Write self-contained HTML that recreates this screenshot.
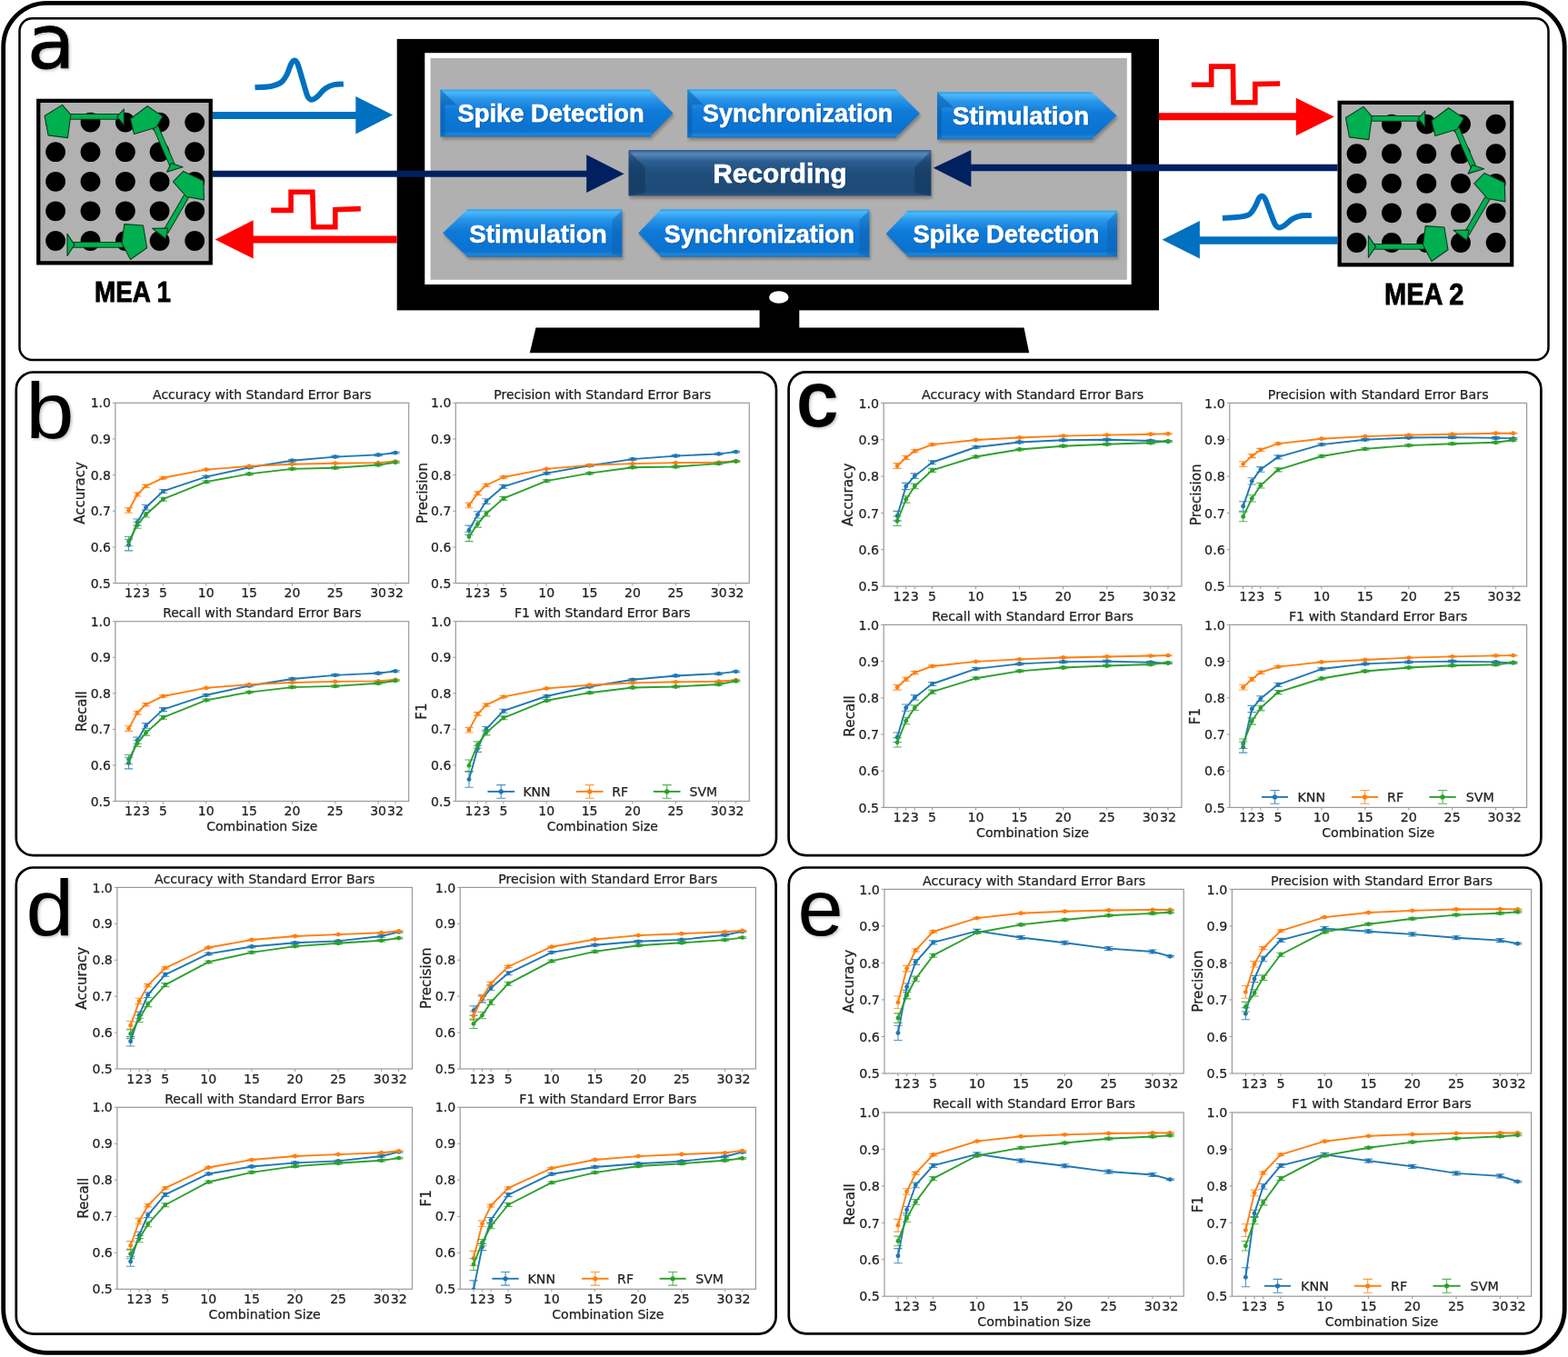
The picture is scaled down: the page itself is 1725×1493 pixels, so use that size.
<!DOCTYPE html>
<html><head><meta charset="utf-8"><title>Figure</title>
<style>html,body{margin:0;padding:0;background:#fff;} svg{display:block;}</style>
</head><body>
<svg width="1725" height="1493" viewBox="0 0 1725 1493">
<defs>
<linearGradient id="gBlue" x1="0" y1="0" x2="0" y2="1"><stop offset="0" stop-color="#2f9fe8"/><stop offset="0.06" stop-color="#4ab8fb"/><stop offset="0.2" stop-color="#2a96ea"/><stop offset="0.45" stop-color="#0f7ad8"/><stop offset="0.88" stop-color="#0a72d0"/><stop offset="0.95" stop-color="#2186d8"/><stop offset="1" stop-color="#1470c0"/></linearGradient>
<linearGradient id="gDark" x1="0" y1="0" x2="0" y2="1"><stop offset="0" stop-color="#2a5a8c"/><stop offset="0.08" stop-color="#5a88bb"/><stop offset="0.25" stop-color="#2c5d90"/><stop offset="0.5" stop-color="#1f4e7c"/><stop offset="0.9" stop-color="#1d4a76"/><stop offset="1" stop-color="#2a5788"/></linearGradient>
<filter id="blur2" x="-10%" y="-30%" width="120%" height="160%"><feGaussianBlur stdDeviation="1.6"/></filter>
<filter id="tsh" x="-5%" y="-20%" width="110%" height="140%"><feDropShadow dx="0.6" dy="0.8" stdDeviation="0.6" flood-color="#003060" flood-opacity="0.6"/></filter>
<filter id="lsh" x="-20%" y="-20%" width="150%" height="150%"><feDropShadow dx="1.5" dy="1.5" stdDeviation="1.5" flood-color="#000" flood-opacity="0.25"/></filter>
<clipPath id="clip_b00"><rect x="126.9" y="443.3" width="322.8" height="198.3"/></clipPath><clipPath id="clip_b01"><rect x="126.9" y="683.7" width="322.8" height="197.8"/></clipPath><clipPath id="clip_b10"><rect x="501.3" y="443.3" width="323" height="198.3"/></clipPath><clipPath id="clip_b11"><rect x="501.3" y="683.7" width="323" height="197.8"/></clipPath><clipPath id="clip_c00"><rect x="972.2" y="443.4" width="327.7" height="201.7"/></clipPath><clipPath id="clip_c01"><rect x="972.2" y="687.4" width="327.7" height="201"/></clipPath><clipPath id="clip_c10"><rect x="1352.8" y="443.4" width="326.8" height="201.7"/></clipPath><clipPath id="clip_c11"><rect x="1352.8" y="687.4" width="326.8" height="201"/></clipPath><clipPath id="clip_d00"><rect x="128.9" y="976.4" width="324.6" height="199.6"/></clipPath><clipPath id="clip_d01"><rect x="128.9" y="1218.3" width="324.6" height="200"/></clipPath><clipPath id="clip_d10"><rect x="506.2" y="976.4" width="325.2" height="199.6"/></clipPath><clipPath id="clip_d11"><rect x="506.2" y="1218.3" width="325.2" height="200"/></clipPath><clipPath id="clip_e00"><rect x="973" y="978.4" width="329.2" height="202.6"/></clipPath><clipPath id="clip_e01"><rect x="973" y="1224" width="329.2" height="202.2"/></clipPath><clipPath id="clip_e10"><rect x="1355.4" y="978.4" width="329.2" height="202.6"/></clipPath><clipPath id="clip_e11"><rect x="1355.4" y="1224" width="329.2" height="202.2"/></clipPath>
</defs>
<rect width="1725" height="1493" fill="#fff"/>
<rect x="3.7" y="3.4" width="1717.5" height="1484.9" rx="48" ry="48" fill="none" stroke="#000" stroke-width="4.8"/>
<rect x="21.5" y="20.3" width="1682" height="375.7" rx="14" ry="14" fill="none" stroke="#000" stroke-width="2.5"/>
<rect x="17.8" y="409.5" width="836.2" height="531.7" rx="19" ry="19" fill="none" stroke="#000" stroke-width="2.7"/>
<rect x="867.6" y="409.3" width="827.8" height="531.8" rx="19" ry="19" fill="none" stroke="#000" stroke-width="2.7"/>
<rect x="17.8" y="954.5" width="835.8" height="513.1" rx="19" ry="19" fill="none" stroke="#000" stroke-width="2.7"/>
<rect x="867.8" y="954.5" width="827.7" height="512.8" rx="19" ry="19" fill="none" stroke="#000" stroke-width="2.7"/>
<g transform="translate(-2.07 2.15) scale(1.0302 0.9693)"><text x="31" y="75" font-size="84" font-family="DejaVu Sans, Liberation Sans, sans-serif" font-weight="normal" fill="#000" stroke="#000" stroke-width="0.8" filter="url(#lsh)">a</text></g>
<g transform="translate(-3.25 3.22) scale(1.0872 0.9937)"><text x="29" y="482" font-size="88" font-family="Liberation Sans, Arial, sans-serif" font-weight="normal" fill="#000"  filter="url(#lsh)">b</text></g>
<g transform="translate(-21.64 9.86) scale(1.0256 0.9755)"><text x="876" y="469.5" font-size="86" font-family="Liberation Sans, Arial, sans-serif" font-weight="normal" fill="#000" stroke="#000" stroke-width="2.4" filter="url(#lsh)">c</text></g>
<g transform="translate(-2.84 5.13) scale(1.0769 0.9953)"><text x="29" y="1029" font-size="88" font-family="Liberation Sans, Arial, sans-serif" font-weight="normal" fill="#000"  filter="url(#lsh)">d</text></g>
<g transform="translate(-22.01 21.18) scale(1.0244 0.9792)"><text x="878" y="1029.5" font-size="88" font-family="Liberation Sans, Arial, sans-serif" font-weight="normal" fill="#000"  filter="url(#lsh)">e</text></g>
<rect x="436.7" y="42.9" width="838.3" height="298.5" fill="#000"/>
<rect x="467.3" y="58.2" width="777.3" height="254.8" fill="#fff"/>
<rect x="473.6" y="63.9" width="766.2" height="243.9" fill="#b0b0b0"/>
<ellipse cx="856.8" cy="327" rx="10.8" ry="6.7" fill="#fff"/>
<rect x="835.6" y="340" width="43.7" height="21.3" fill="#000"/>
<polygon points="589.5,360.6 1126.5,360.6 1132.2,388.2 582.8,388.2" fill="#000" />
<line x1="233.9" y1="191.2" x2="647" y2="191.2" stroke="#002060" stroke-width="7"/>
<polygon points="645.2,170.3 686.6,191.2 645.2,212.1" fill="#002060" />
<line x1="1066" y1="184.6" x2="1471.5" y2="184.6" stroke="#002060" stroke-width="7.5"/>
<polygon points="1068.4,165 1026.7,184.8 1068.4,205.7" fill="#002060" />
<line x1="233.9" y1="127" x2="393" y2="127" stroke="#0070c0" stroke-width="8"/>
<polygon points="391.3,106 432.1,126.5 391.3,147.4" fill="#0070c0" />
<line x1="277" y1="263.4" x2="436.7" y2="263.4" stroke="#ff0000" stroke-width="8"/>
<polygon points="278.7,242.3 236.7,263.6 278.7,284.6" fill="#ff0000" />
<line x1="1275" y1="128.3" x2="1427" y2="128.3" stroke="#ff0000" stroke-width="8"/>
<polygon points="1425.8,107.8 1467.8,128.5 1425.8,149.2" fill="#ff0000" />
<line x1="1318" y1="264.4" x2="1471.5" y2="264.4" stroke="#0070c0" stroke-width="8.5"/>
<polygon points="1319.9,243 1278.5,263.8 1319.9,284.6" fill="#0070c0" />
<path d="M280.5 96.3C283.45 96.08 293.43 95.92 298.2 95C302.97 94.08 306.27 92.82 309.1 90.8C311.93 88.78 313.37 86.25 315.2 82.9C317.03 79.55 318.68 73.45 320.1 70.7C321.52 67.95 322.48 66.5 323.7 66.4C324.92 66.3 325.77 66.13 327.4 70.1C329.03 74.07 331.67 84.22 333.5 90.2C335.33 96.18 336.88 102.75 338.4 106C339.92 109.25 340.98 109.5 342.6 109.7C344.22 109.9 345.57 109.23 348.1 107.2C350.63 105.17 354.55 99.83 357.8 97.5C361.05 95.17 364.25 94.02 367.6 93.2C370.95 92.38 376.18 92.7 377.9 92.6" fill="none" stroke="#0070c0" stroke-width="6" stroke-linejoin="round"/>
<path d="M1344.9 240C1347.83 239.8 1357.53 239.52 1362.5 238.8C1367.47 238.08 1371.65 237.63 1374.7 235.7C1377.75 233.77 1379.08 230.13 1380.8 227.2C1382.52 224.27 1383.78 220.02 1385 218.1C1386.22 216.18 1386.98 215.6 1388.1 215.7C1389.22 215.8 1390.08 215.57 1391.7 218.7C1393.32 221.83 1395.97 229.83 1397.8 234.5C1399.63 239.17 1401.17 244.05 1402.7 246.7C1404.23 249.35 1405.38 250.1 1407 250.4C1408.62 250.7 1409.87 250.13 1412.4 248.5C1414.93 246.87 1418.95 242.48 1422.2 240.6C1425.45 238.72 1428.45 237.8 1431.9 237.2C1435.35 236.6 1441.07 237.03 1442.9 237" fill="none" stroke="#0070c0" stroke-width="6" stroke-linejoin="round"/>
<polyline points="298.2,231.4 320.1,231.4 320.1,211.3 343.8,211.3 345,249.7 368.8,249.7 368.8,230.8 396.8,229.6" fill="none" stroke="#ff0000" stroke-width="5.6" stroke-linejoin="miter"/>
<polyline points="1310.8,93.2 1332.7,93.2 1332.7,73.1 1356.4,73.1 1357,112.7 1380.8,112.7 1380.8,92.6 1408.2,92" fill="none" stroke="#ff0000" stroke-width="5.6" stroke-linejoin="miter"/>
<g transform="translate(0 0)">
<rect x="40.1" y="108.7" width="193.8" height="182.8" fill="#000"/>
<rect x="44.4" y="113" width="185.2" height="174.2" fill="#b1b1b1"/>
<circle cx="61.1" cy="134.6" r="10.9" fill="#000"/>
<circle cx="99.5" cy="134.6" r="10.9" fill="#000"/>
<circle cx="137.9" cy="134.6" r="10.9" fill="#000"/>
<circle cx="175.6" cy="134.6" r="10.9" fill="#000"/>
<circle cx="214.2" cy="134.6" r="10.9" fill="#000"/>
<circle cx="61.1" cy="167.2" r="10.9" fill="#000"/>
<circle cx="99.5" cy="167.2" r="10.9" fill="#000"/>
<circle cx="137.9" cy="167.2" r="10.9" fill="#000"/>
<circle cx="175.6" cy="167.2" r="10.9" fill="#000"/>
<circle cx="214.2" cy="167.2" r="10.9" fill="#000"/>
<circle cx="61.1" cy="199.8" r="10.9" fill="#000"/>
<circle cx="99.5" cy="199.8" r="10.9" fill="#000"/>
<circle cx="137.9" cy="199.8" r="10.9" fill="#000"/>
<circle cx="175.6" cy="199.8" r="10.9" fill="#000"/>
<circle cx="214.2" cy="199.8" r="10.9" fill="#000"/>
<circle cx="61.1" cy="232.3" r="10.9" fill="#000"/>
<circle cx="99.5" cy="232.3" r="10.9" fill="#000"/>
<circle cx="137.9" cy="232.3" r="10.9" fill="#000"/>
<circle cx="175.6" cy="232.3" r="10.9" fill="#000"/>
<circle cx="214.2" cy="232.3" r="10.9" fill="#000"/>
<circle cx="61.1" cy="265" r="10.9" fill="#000"/>
<circle cx="99.5" cy="265" r="10.9" fill="#000"/>
<circle cx="137.9" cy="265" r="10.9" fill="#000"/>
<circle cx="175.6" cy="265" r="10.9" fill="#000"/>
<circle cx="214.2" cy="265" r="10.9" fill="#000"/>
<line x1="76" y1="128.4" x2="131" y2="128.4" stroke="#0d3b1c" stroke-width="6.8"/>
<line x1="76" y1="128.4" x2="131" y2="128.4" stroke="#00b050" stroke-width="4.8"/>
<line x1="171" y1="139" x2="189.5" y2="181.5" stroke="#0d3b1c" stroke-width="6.8"/>
<line x1="171" y1="139" x2="189.5" y2="181.5" stroke="#00b050" stroke-width="4.8"/>
<line x1="205" y1="216" x2="182" y2="255.5" stroke="#0d3b1c" stroke-width="6.8"/>
<line x1="205" y1="216" x2="182" y2="255.5" stroke="#00b050" stroke-width="4.8"/>
<line x1="135" y1="269.4" x2="79" y2="269.4" stroke="#0d3b1c" stroke-width="6.8"/>
<line x1="135" y1="269.4" x2="79" y2="269.4" stroke="#00b050" stroke-width="4.8"/>
<polygon points="128.7,128.4 136.3,120 136.3,137.5" fill="#00b050" stroke="#0d3b1c" stroke-width="1.1" stroke-linejoin="round"/>
<polygon points="188.3,179.4 201.1,183.7 183.7,189.1" fill="#00b050" stroke="#0d3b1c" stroke-width="1.1" stroke-linejoin="round"/>
<polygon points="184.5,251 183.7,256.3 182.3,262.5 167.6,251.3" fill="#00b050" stroke="#0d3b1c" stroke-width="1.1" stroke-linejoin="round"/>
<polygon points="82,269.4 74,257.4 74,281.5" fill="#00b050" stroke="#0d3b1c" stroke-width="1.1" stroke-linejoin="round"/>
<polygon points="68.5,115.4 77.9,126.1 74.5,151.6 53.1,148.9 49.1,127.5" fill="#00b050" stroke="#0d3b1c" stroke-width="1.1" stroke-linejoin="round"/>
<polygon points="162.2,116.7 179,128.1 171.6,140.2 147.5,147.5 143.5,130.8" fill="#00b050" stroke="#0d3b1c" stroke-width="1.1" stroke-linejoin="round"/>
<polygon points="201.7,188.4 223.8,199.1 224.5,219.9 205.1,216.5 190.4,199.8" fill="#00b050" stroke="#0d3b1c" stroke-width="1.1" stroke-linejoin="round"/>
<polygon points="136.8,246.6 157.5,248 161.6,272.8 143.5,285.5 134.1,267.4" fill="#00b050" stroke="#0d3b1c" stroke-width="1.1" stroke-linejoin="round"/>
</g>
<g transform="translate(1431.4 2)">
<rect x="40.1" y="108.7" width="193.8" height="182.8" fill="#000"/>
<rect x="44.4" y="113" width="185.2" height="174.2" fill="#b1b1b1"/>
<circle cx="61.1" cy="134.6" r="10.9" fill="#000"/>
<circle cx="99.5" cy="134.6" r="10.9" fill="#000"/>
<circle cx="137.9" cy="134.6" r="10.9" fill="#000"/>
<circle cx="175.6" cy="134.6" r="10.9" fill="#000"/>
<circle cx="214.2" cy="134.6" r="10.9" fill="#000"/>
<circle cx="61.1" cy="167.2" r="10.9" fill="#000"/>
<circle cx="99.5" cy="167.2" r="10.9" fill="#000"/>
<circle cx="137.9" cy="167.2" r="10.9" fill="#000"/>
<circle cx="175.6" cy="167.2" r="10.9" fill="#000"/>
<circle cx="214.2" cy="167.2" r="10.9" fill="#000"/>
<circle cx="61.1" cy="199.8" r="10.9" fill="#000"/>
<circle cx="99.5" cy="199.8" r="10.9" fill="#000"/>
<circle cx="137.9" cy="199.8" r="10.9" fill="#000"/>
<circle cx="175.6" cy="199.8" r="10.9" fill="#000"/>
<circle cx="214.2" cy="199.8" r="10.9" fill="#000"/>
<circle cx="61.1" cy="232.3" r="10.9" fill="#000"/>
<circle cx="99.5" cy="232.3" r="10.9" fill="#000"/>
<circle cx="137.9" cy="232.3" r="10.9" fill="#000"/>
<circle cx="175.6" cy="232.3" r="10.9" fill="#000"/>
<circle cx="214.2" cy="232.3" r="10.9" fill="#000"/>
<circle cx="61.1" cy="265" r="10.9" fill="#000"/>
<circle cx="99.5" cy="265" r="10.9" fill="#000"/>
<circle cx="137.9" cy="265" r="10.9" fill="#000"/>
<circle cx="175.6" cy="265" r="10.9" fill="#000"/>
<circle cx="214.2" cy="265" r="10.9" fill="#000"/>
<line x1="76" y1="128.4" x2="131" y2="128.4" stroke="#0d3b1c" stroke-width="6.8"/>
<line x1="76" y1="128.4" x2="131" y2="128.4" stroke="#00b050" stroke-width="4.8"/>
<line x1="171" y1="139" x2="189.5" y2="181.5" stroke="#0d3b1c" stroke-width="6.8"/>
<line x1="171" y1="139" x2="189.5" y2="181.5" stroke="#00b050" stroke-width="4.8"/>
<line x1="205" y1="216" x2="182" y2="255.5" stroke="#0d3b1c" stroke-width="6.8"/>
<line x1="205" y1="216" x2="182" y2="255.5" stroke="#00b050" stroke-width="4.8"/>
<line x1="135" y1="269.4" x2="79" y2="269.4" stroke="#0d3b1c" stroke-width="6.8"/>
<line x1="135" y1="269.4" x2="79" y2="269.4" stroke="#00b050" stroke-width="4.8"/>
<polygon points="128.7,128.4 136.3,120 136.3,137.5" fill="#00b050" stroke="#0d3b1c" stroke-width="1.1" stroke-linejoin="round"/>
<polygon points="188.3,179.4 201.1,183.7 183.7,189.1" fill="#00b050" stroke="#0d3b1c" stroke-width="1.1" stroke-linejoin="round"/>
<polygon points="184.5,251 183.7,256.3 182.3,262.5 167.6,251.3" fill="#00b050" stroke="#0d3b1c" stroke-width="1.1" stroke-linejoin="round"/>
<polygon points="82,269.4 74,257.4 74,281.5" fill="#00b050" stroke="#0d3b1c" stroke-width="1.1" stroke-linejoin="round"/>
<polygon points="68.5,115.4 77.9,126.1 74.5,151.6 53.1,148.9 49.1,127.5" fill="#00b050" stroke="#0d3b1c" stroke-width="1.1" stroke-linejoin="round"/>
<polygon points="162.2,116.7 179,128.1 171.6,140.2 147.5,147.5 143.5,130.8" fill="#00b050" stroke="#0d3b1c" stroke-width="1.1" stroke-linejoin="round"/>
<polygon points="201.7,188.4 223.8,199.1 224.5,219.9 205.1,216.5 190.4,199.8" fill="#00b050" stroke="#0d3b1c" stroke-width="1.1" stroke-linejoin="round"/>
<polygon points="136.8,246.6 157.5,248 161.6,272.8 143.5,285.5 134.1,267.4" fill="#00b050" stroke="#0d3b1c" stroke-width="1.1" stroke-linejoin="round"/>
</g>
<g transform="translate(4.50 -38.34) scale(0.9951 1.1158)"><text x="100" y="332" font-size="28" font-family="Liberation Sans, Arial, sans-serif" font-weight="bold" fill="#000" stroke="#000" stroke-width="0.7">MEA 1</text></g>
<g transform="translate(-48.77 -54.96) scale(1.0341 1.1737)"><text x="1520" y="332" font-size="28" font-family="Liberation Sans, Arial, sans-serif" font-weight="bold" fill="#000" stroke="#000" stroke-width="0.7">MEA 2</text></g>
<polygon points="486,101.4 716.5,101.4 742,127.5 716.5,153.6 486,153.6" fill="#6b5f55" opacity="0.55" filter="url(#blur2)"/>
<polygon points="484.5,98.4 715,98.4 740.5,124.5 715,150.6 484.5,150.6" fill="url(#gBlue)"/>
<text x="503.6" y="133.7" font-size="27" font-family="Liberation Sans, Arial, sans-serif" font-weight="bold" fill="#fff" stroke="#fff" stroke-width="0.5" textLength="205" lengthAdjust="spacingAndGlyphs" filter="url(#tsh)">Spike Detection</text>
<polygon points="484.5,98.4 502.5,115.4 489.5,115.4 489.5,148.6 484.5,150.6" fill="#0a5fae" opacity="0.6"/>
<polygon points="757.8,101.3 986.9,101.3 1013.5,127.9 986.9,154.5 757.8,154.5" fill="#6b5f55" opacity="0.55" filter="url(#blur2)"/>
<polygon points="756.3,98.3 985.4,98.3 1012,124.9 985.4,151.5 756.3,151.5" fill="url(#gBlue)"/>
<text x="773" y="133.8" font-size="27" font-family="Liberation Sans, Arial, sans-serif" font-weight="bold" fill="#fff" stroke="#fff" stroke-width="0.5" textLength="209.3" lengthAdjust="spacingAndGlyphs" filter="url(#tsh)">Synchronization</text>
<polygon points="756.3,98.3 774.3,115.3 761.3,115.3 761.3,149.5 756.3,151.5" fill="#0a5fae" opacity="0.6"/>
<polygon points="1032.5,104.3 1202.5,104.3 1230,130.2 1202.5,156.5 1032.5,156.5" fill="#6b5f55" opacity="0.55" filter="url(#blur2)"/>
<polygon points="1031,101.3 1201,101.3 1228.5,127.2 1201,153.5 1031,153.5" fill="url(#gBlue)"/>
<text x="1048" y="136.7" font-size="27" font-family="Liberation Sans, Arial, sans-serif" font-weight="bold" fill="#fff" stroke="#fff" stroke-width="0.5" textLength="150" lengthAdjust="spacingAndGlyphs" filter="url(#tsh)">Stimulation</text>
<polygon points="1031,101.3 1049,118.3 1036,118.3 1036,151.5 1031,153.5" fill="#0a5fae" opacity="0.6"/>
<polygon points="488.6,259.4 515.9,233.3 685.9,233.3 685.9,285.7 515.9,285.7" fill="#6b5f55" opacity="0.55" filter="url(#blur2)"/>
<polygon points="487.1,256.4 514.4,230.3 684.4,230.3 684.4,282.7 514.4,282.7" fill="url(#gBlue)"/>
<text x="516.3" y="266.7" font-size="27" font-family="Liberation Sans, Arial, sans-serif" font-weight="bold" fill="#fff" stroke="#fff" stroke-width="0.5" textLength="151.5" lengthAdjust="spacingAndGlyphs" filter="url(#tsh)">Stimulation</text>
<polygon points="684.4,231.3 673.4,242.3 673.4,279.7 684.4,282.7" fill="#0a5fae" opacity="0.45"/>
<polygon points="703.6,259.5 728.7,233.3 957.9,233.3 957.9,285.7 728.7,285.7" fill="#6b5f55" opacity="0.55" filter="url(#blur2)"/>
<polygon points="702.1,256.5 727.2,230.3 956.4,230.3 956.4,282.7 727.2,282.7" fill="url(#gBlue)"/>
<text x="730.7" y="266.7" font-size="27" font-family="Liberation Sans, Arial, sans-serif" font-weight="bold" fill="#fff" stroke="#fff" stroke-width="0.5" textLength="209.3" lengthAdjust="spacingAndGlyphs" filter="url(#tsh)">Synchronization</text>
<polygon points="956.4,231.3 945.4,242.3 945.4,279.7 956.4,282.7" fill="#0a5fae" opacity="0.45"/>
<polygon points="976.1,260.2 1000.2,234.7 1230.5,234.7 1230.5,285.6 1000.2,285.6" fill="#6b5f55" opacity="0.55" filter="url(#blur2)"/>
<polygon points="974.6,257.2 998.7,231.7 1229,231.7 1229,282.6 998.7,282.6" fill="url(#gBlue)"/>
<text x="1004.4" y="266.5" font-size="27" font-family="Liberation Sans, Arial, sans-serif" font-weight="bold" fill="#fff" stroke="#fff" stroke-width="0.5" textLength="205.2" lengthAdjust="spacingAndGlyphs" filter="url(#tsh)">Spike Detection</text>
<polygon points="1229,232.7 1218,243.7 1218,279.6 1229,282.6" fill="#0a5fae" opacity="0.45"/>
<polygon points="693.1,168.1 1025.8,168.1 1025.8,218.4 693.1,218.4" fill="#6b5f55" opacity="0.55" filter="url(#blur2)"/>
<polygon points="691.6,165.1 1024.3,165.1 1024.3,215.4 691.6,215.4" fill="url(#gDark)"/>
<text x="784.3" y="201" font-size="29" font-family="Liberation Sans, Arial, sans-serif" font-weight="bold" fill="#fff" stroke="#fff" stroke-width="0.5" textLength="147.5" lengthAdjust="spacingAndGlyphs" filter="url(#tsh)">Recording</text>
<polygon points="1024.3,166.1 1006.3,184.1 1006.3,212.4 1024.3,215.4" fill="#0d2f52" opacity="0.45"/>
<polygon points="691.6,166.1 709.6,184.1 709.6,212.4 691.6,215.4" fill="#0d2f52" opacity="0.45"/>
<g>
<rect x="126.9" y="443.3" width="322.8" height="198.3" fill="#fff" stroke="#999" stroke-width="1.2"/>
<path d="M141.57 641.6v3 M151.04 641.6v3 M160.51 641.6v3 M179.44 641.6v3 M226.77 641.6v3 M274.1 641.6v3 M321.43 641.6v3 M368.76 641.6v3 M416.09 641.6v3 M435.03 641.6v3 M123.9 641.6h3 M123.9 601.94h3 M123.9 562.28h3 M123.9 522.62h3 M123.9 482.96h3 M123.9 443.3h3" stroke="#999" stroke-width="1" fill="none"/>
<text x="141.57" y="657.2" font-size="14" text-anchor="middle" fill="#222" font-family="DejaVu Sans, Liberation Sans, sans-serif" font-weight="normal" stroke="#222" stroke-width="0.25">1</text>
<text x="151.04" y="657.2" font-size="14" text-anchor="middle" fill="#222" font-family="DejaVu Sans, Liberation Sans, sans-serif" font-weight="normal" stroke="#222" stroke-width="0.25">2</text>
<text x="160.51" y="657.2" font-size="14" text-anchor="middle" fill="#222" font-family="DejaVu Sans, Liberation Sans, sans-serif" font-weight="normal" stroke="#222" stroke-width="0.25">3</text>
<text x="179.44" y="657.2" font-size="14" text-anchor="middle" fill="#222" font-family="DejaVu Sans, Liberation Sans, sans-serif" font-weight="normal" stroke="#222" stroke-width="0.25">5</text>
<text x="226.77" y="657.2" font-size="14" text-anchor="middle" fill="#222" font-family="DejaVu Sans, Liberation Sans, sans-serif" font-weight="normal" stroke="#222" stroke-width="0.25">10</text>
<text x="274.1" y="657.2" font-size="14" text-anchor="middle" fill="#222" font-family="DejaVu Sans, Liberation Sans, sans-serif" font-weight="normal" stroke="#222" stroke-width="0.25">15</text>
<text x="321.43" y="657.2" font-size="14" text-anchor="middle" fill="#222" font-family="DejaVu Sans, Liberation Sans, sans-serif" font-weight="normal" stroke="#222" stroke-width="0.25">20</text>
<text x="368.76" y="657.2" font-size="14" text-anchor="middle" fill="#222" font-family="DejaVu Sans, Liberation Sans, sans-serif" font-weight="normal" stroke="#222" stroke-width="0.25">25</text>
<text x="416.09" y="657.2" font-size="14" text-anchor="middle" fill="#222" font-family="DejaVu Sans, Liberation Sans, sans-serif" font-weight="normal" stroke="#222" stroke-width="0.25">30</text>
<text x="435.03" y="657.2" font-size="14" text-anchor="middle" fill="#222" font-family="DejaVu Sans, Liberation Sans, sans-serif" font-weight="normal" stroke="#222" stroke-width="0.25">32</text>
<text x="121.9" y="646.7" font-size="14" text-anchor="end" fill="#222" font-family="DejaVu Sans, Liberation Sans, sans-serif" font-weight="normal" stroke="#222" stroke-width="0.25">0.5</text>
<text x="121.9" y="607.04" font-size="14" text-anchor="end" fill="#222" font-family="DejaVu Sans, Liberation Sans, sans-serif" font-weight="normal" stroke="#222" stroke-width="0.25">0.6</text>
<text x="121.9" y="567.38" font-size="14" text-anchor="end" fill="#222" font-family="DejaVu Sans, Liberation Sans, sans-serif" font-weight="normal" stroke="#222" stroke-width="0.25">0.7</text>
<text x="121.9" y="527.72" font-size="14" text-anchor="end" fill="#222" font-family="DejaVu Sans, Liberation Sans, sans-serif" font-weight="normal" stroke="#222" stroke-width="0.25">0.8</text>
<text x="121.9" y="488.06" font-size="14" text-anchor="end" fill="#222" font-family="DejaVu Sans, Liberation Sans, sans-serif" font-weight="normal" stroke="#222" stroke-width="0.25">0.9</text>
<text x="121.9" y="448.4" font-size="14" text-anchor="end" fill="#222" font-family="DejaVu Sans, Liberation Sans, sans-serif" font-weight="normal" stroke="#222" stroke-width="0.25">1.0</text>
<text x="288.3" y="438.8" font-size="14" text-anchor="middle" fill="#222" font-family="DejaVu Sans, Liberation Sans, sans-serif" font-weight="normal" stroke="#222" stroke-width="0.25">Accuracy with Standard Error Bars</text>
<text x="93.4" y="542.45" font-size="15" text-anchor="middle" fill="#222" font-family="DejaVu Sans, Liberation Sans, sans-serif" stroke="#222" stroke-width="0.25" transform="rotate(-90 93.4 542.45)">Accuracy</text>
<g clip-path="url(#clip_b00)">
<path d="M141.57 593.21V605.91M136.97 593.21h9.2M136.97 605.91h9.2M151.04 571.01V578.14M146.44 571.01h9.2M146.44 578.14h9.2M160.51 555.54V561.09M155.91 555.54h9.2M155.91 561.09h9.2M179.44 538.48V542.45M174.84 538.48h9.2M174.84 542.45h9.2M226.77 523.41V525.79M222.17 523.41h9.2M222.17 525.79h9.2M274.1 513.1V515.48M269.5 513.1h9.2M269.5 515.48h9.2M321.43 505.57V507.95M316.83 505.57h9.2M316.83 507.95h9.2M368.76 501.4V503.78M364.16 501.4h9.2M364.16 503.78h9.2M416.09 499.22V501.6M411.49 499.22h9.2M411.49 501.6h9.2M435.03 497.4V498.98M430.43 497.4h9.2M430.43 498.98h9.2" stroke="#1f77b4" stroke-width="1.1" fill="none" opacity="0.8"/>
<polyline points="141.57,599.56 151.04,574.57 160.51,558.31 179.44,540.47 226.77,524.6 274.1,514.29 321.43,506.76 368.76,502.59 416.09,500.41 435.03,498.19" fill="none" stroke="#1f77b4" stroke-width="1.9" stroke-linejoin="round"/>
<circle cx="141.57" cy="599.56" r="2.4" fill="#1f77b4"/>
<circle cx="151.04" cy="574.57" r="2.4" fill="#1f77b4"/>
<circle cx="160.51" cy="558.31" r="2.4" fill="#1f77b4"/>
<circle cx="179.44" cy="540.47" r="2.4" fill="#1f77b4"/>
<circle cx="226.77" cy="524.6" r="2.4" fill="#1f77b4"/>
<circle cx="274.1" cy="514.29" r="2.4" fill="#1f77b4"/>
<circle cx="321.43" cy="506.76" r="2.4" fill="#1f77b4"/>
<circle cx="368.76" cy="502.59" r="2.4" fill="#1f77b4"/>
<circle cx="416.09" cy="500.41" r="2.4" fill="#1f77b4"/>
<circle cx="435.03" cy="498.19" r="2.4" fill="#1f77b4"/>
<path d="M141.57 558.65V564.32M136.97 558.65h9.2M136.97 564.32h9.2M151.04 542.07V546M146.44 542.07h9.2M146.44 546h9.2M160.51 533.39V536.44M155.91 533.39h9.2M155.91 536.44h9.2M179.44 524.7V526.88M174.84 524.7h9.2M174.84 526.88h9.2M226.77 516.02V517.33M222.17 516.02h9.2M222.17 517.33h9.2M274.1 512.25V513.56M269.5 512.25h9.2M269.5 513.56h9.2M321.43 510.07V511.38M316.83 510.07h9.2M316.83 511.38h9.2M368.76 509.04V510.35M364.16 509.04h9.2M364.16 510.35h9.2M416.09 508.48V509.79M411.49 508.48h9.2M411.49 509.79h9.2M435.03 507.11V507.99M430.43 507.11h9.2M430.43 507.99h9.2" stroke="#ff7f0e" stroke-width="1.1" fill="none" opacity="0.8"/>
<polyline points="141.57,561.49 151.04,544.04 160.51,534.91 179.44,525.79 226.77,516.67 274.1,512.9 321.43,510.72 368.76,509.69 416.09,509.14 435.03,507.55" fill="none" stroke="#ff7f0e" stroke-width="1.9" stroke-linejoin="round"/>
<circle cx="141.57" cy="561.49" r="2.4" fill="#ff7f0e"/>
<circle cx="151.04" cy="544.04" r="2.4" fill="#ff7f0e"/>
<circle cx="160.51" cy="534.91" r="2.4" fill="#ff7f0e"/>
<circle cx="179.44" cy="525.79" r="2.4" fill="#ff7f0e"/>
<circle cx="226.77" cy="516.67" r="2.4" fill="#ff7f0e"/>
<circle cx="274.1" cy="512.9" r="2.4" fill="#ff7f0e"/>
<circle cx="321.43" cy="510.72" r="2.4" fill="#ff7f0e"/>
<circle cx="368.76" cy="509.69" r="2.4" fill="#ff7f0e"/>
<circle cx="416.09" cy="509.14" r="2.4" fill="#ff7f0e"/>
<circle cx="435.03" cy="507.55" r="2.4" fill="#ff7f0e"/>
<path d="M141.57 590.44V600.75M136.97 590.44h9.2M136.97 600.75h9.2M151.04 574.18V581.32M146.44 574.18h9.2M146.44 581.32h9.2M160.51 563.47V569.02M155.91 563.47h9.2M155.91 569.02h9.2M179.44 547.21V551.18M174.84 547.21h9.2M174.84 551.18h9.2M226.77 528.97V531.35M222.17 528.97h9.2M222.17 531.35h9.2M274.1 520.24V522.62M269.5 520.24h9.2M269.5 522.62h9.2M321.43 514.69V517.07M316.83 514.69h9.2M316.83 517.07h9.2M368.76 513.5V515.88M364.16 513.5h9.2M364.16 515.88h9.2M416.09 510.33V512.71M411.49 510.33h9.2M411.49 512.71h9.2M435.03 507.95V509.53M430.43 507.95h9.2M430.43 509.53h9.2" stroke="#2ca02c" stroke-width="1.1" fill="none" opacity="0.8"/>
<polyline points="141.57,595.59 151.04,577.75 160.51,566.25 179.44,549.19 226.77,530.16 274.1,521.43 321.43,515.88 368.76,514.69 416.09,511.52 435.03,508.74" fill="none" stroke="#2ca02c" stroke-width="1.9" stroke-linejoin="round"/>
<circle cx="141.57" cy="595.59" r="2.4" fill="#2ca02c"/>
<circle cx="151.04" cy="577.75" r="2.4" fill="#2ca02c"/>
<circle cx="160.51" cy="566.25" r="2.4" fill="#2ca02c"/>
<circle cx="179.44" cy="549.19" r="2.4" fill="#2ca02c"/>
<circle cx="226.77" cy="530.16" r="2.4" fill="#2ca02c"/>
<circle cx="274.1" cy="521.43" r="2.4" fill="#2ca02c"/>
<circle cx="321.43" cy="515.88" r="2.4" fill="#2ca02c"/>
<circle cx="368.76" cy="514.69" r="2.4" fill="#2ca02c"/>
<circle cx="416.09" cy="511.52" r="2.4" fill="#2ca02c"/>
<circle cx="435.03" cy="508.74" r="2.4" fill="#2ca02c"/>
</g>
</g>
<g>
<rect x="501.3" y="443.3" width="323" height="198.3" fill="#fff" stroke="#999" stroke-width="1.2"/>
<path d="M515.98 641.6v3 M525.45 641.6v3 M534.93 641.6v3 M553.87 641.6v3 M601.23 641.6v3 M648.59 641.6v3 M695.95 641.6v3 M743.31 641.6v3 M790.67 641.6v3 M809.62 641.6v3 M498.3 641.6h3 M498.3 601.94h3 M498.3 562.28h3 M498.3 522.62h3 M498.3 482.96h3 M498.3 443.3h3" stroke="#999" stroke-width="1" fill="none"/>
<text x="515.98" y="657.2" font-size="14" text-anchor="middle" fill="#222" font-family="DejaVu Sans, Liberation Sans, sans-serif" font-weight="normal" stroke="#222" stroke-width="0.25">1</text>
<text x="525.45" y="657.2" font-size="14" text-anchor="middle" fill="#222" font-family="DejaVu Sans, Liberation Sans, sans-serif" font-weight="normal" stroke="#222" stroke-width="0.25">2</text>
<text x="534.93" y="657.2" font-size="14" text-anchor="middle" fill="#222" font-family="DejaVu Sans, Liberation Sans, sans-serif" font-weight="normal" stroke="#222" stroke-width="0.25">3</text>
<text x="553.87" y="657.2" font-size="14" text-anchor="middle" fill="#222" font-family="DejaVu Sans, Liberation Sans, sans-serif" font-weight="normal" stroke="#222" stroke-width="0.25">5</text>
<text x="601.23" y="657.2" font-size="14" text-anchor="middle" fill="#222" font-family="DejaVu Sans, Liberation Sans, sans-serif" font-weight="normal" stroke="#222" stroke-width="0.25">10</text>
<text x="648.59" y="657.2" font-size="14" text-anchor="middle" fill="#222" font-family="DejaVu Sans, Liberation Sans, sans-serif" font-weight="normal" stroke="#222" stroke-width="0.25">15</text>
<text x="695.95" y="657.2" font-size="14" text-anchor="middle" fill="#222" font-family="DejaVu Sans, Liberation Sans, sans-serif" font-weight="normal" stroke="#222" stroke-width="0.25">20</text>
<text x="743.31" y="657.2" font-size="14" text-anchor="middle" fill="#222" font-family="DejaVu Sans, Liberation Sans, sans-serif" font-weight="normal" stroke="#222" stroke-width="0.25">25</text>
<text x="790.67" y="657.2" font-size="14" text-anchor="middle" fill="#222" font-family="DejaVu Sans, Liberation Sans, sans-serif" font-weight="normal" stroke="#222" stroke-width="0.25">30</text>
<text x="809.62" y="657.2" font-size="14" text-anchor="middle" fill="#222" font-family="DejaVu Sans, Liberation Sans, sans-serif" font-weight="normal" stroke="#222" stroke-width="0.25">32</text>
<text x="496.3" y="646.7" font-size="14" text-anchor="end" fill="#222" font-family="DejaVu Sans, Liberation Sans, sans-serif" font-weight="normal" stroke="#222" stroke-width="0.25">0.5</text>
<text x="496.3" y="607.04" font-size="14" text-anchor="end" fill="#222" font-family="DejaVu Sans, Liberation Sans, sans-serif" font-weight="normal" stroke="#222" stroke-width="0.25">0.6</text>
<text x="496.3" y="567.38" font-size="14" text-anchor="end" fill="#222" font-family="DejaVu Sans, Liberation Sans, sans-serif" font-weight="normal" stroke="#222" stroke-width="0.25">0.7</text>
<text x="496.3" y="527.72" font-size="14" text-anchor="end" fill="#222" font-family="DejaVu Sans, Liberation Sans, sans-serif" font-weight="normal" stroke="#222" stroke-width="0.25">0.8</text>
<text x="496.3" y="488.06" font-size="14" text-anchor="end" fill="#222" font-family="DejaVu Sans, Liberation Sans, sans-serif" font-weight="normal" stroke="#222" stroke-width="0.25">0.9</text>
<text x="496.3" y="448.4" font-size="14" text-anchor="end" fill="#222" font-family="DejaVu Sans, Liberation Sans, sans-serif" font-weight="normal" stroke="#222" stroke-width="0.25">1.0</text>
<text x="662.8" y="438.8" font-size="14" text-anchor="middle" fill="#222" font-family="DejaVu Sans, Liberation Sans, sans-serif" font-weight="normal" stroke="#222" stroke-width="0.25">Precision with Standard Error Bars</text>
<text x="469.8" y="542.45" font-size="15" text-anchor="middle" fill="#222" font-family="DejaVu Sans, Liberation Sans, sans-serif" stroke="#222" stroke-width="0.25" transform="rotate(-90 469.8 542.45)">Precision</text>
<g clip-path="url(#clip_b10)">
<path d="M515.98 578.14V588.46M511.38 578.14h9.2M511.38 588.46h9.2M525.45 562.8V569.93M520.85 562.8h9.2M520.85 569.93h9.2M534.93 548.8V554.35M530.33 548.8h9.2M530.33 554.35h9.2M553.87 533.33V537.29M549.27 533.33h9.2M549.27 537.29h9.2M601.23 519.45V521.83M596.63 519.45h9.2M596.63 521.83h9.2M648.59 511.12V513.5M643.99 511.12h9.2M643.99 513.5h9.2M695.95 503.98V506.36M691.35 503.98h9.2M691.35 506.36h9.2M743.31 500.41V502.79M738.71 500.41h9.2M738.71 502.79h9.2M790.67 498.19V500.57M786.07 498.19h9.2M786.07 500.57h9.2M809.62 496.33V497.91M805.02 496.33h9.2M805.02 497.91h9.2" stroke="#1f77b4" stroke-width="1.1" fill="none" opacity="0.8"/>
<polyline points="515.98,583.3 525.45,566.36 534.93,551.57 553.87,535.31 601.23,520.64 648.59,512.31 695.95,505.17 743.31,501.6 790.67,499.38 809.62,497.12" fill="none" stroke="#1f77b4" stroke-width="1.9" stroke-linejoin="round"/>
<circle cx="515.98" cy="583.3" r="2.4" fill="#1f77b4"/>
<circle cx="525.45" cy="566.36" r="2.4" fill="#1f77b4"/>
<circle cx="534.93" cy="551.57" r="2.4" fill="#1f77b4"/>
<circle cx="553.87" cy="535.31" r="2.4" fill="#1f77b4"/>
<circle cx="601.23" cy="520.64" r="2.4" fill="#1f77b4"/>
<circle cx="648.59" cy="512.31" r="2.4" fill="#1f77b4"/>
<circle cx="695.95" cy="505.17" r="2.4" fill="#1f77b4"/>
<circle cx="743.31" cy="501.6" r="2.4" fill="#1f77b4"/>
<circle cx="790.67" cy="499.38" r="2.4" fill="#1f77b4"/>
<circle cx="809.62" cy="497.12" r="2.4" fill="#1f77b4"/>
<path d="M515.98 553.1V558.77M511.38 553.1h9.2M511.38 558.77h9.2M525.45 540.69V544.61M520.85 540.69h9.2M520.85 544.61h9.2M534.93 532.32V535.37M530.33 532.32h9.2M530.33 535.37h9.2M553.87 523.91V526.09M549.27 523.91h9.2M549.27 526.09h9.2M601.23 515.22V516.53M596.63 515.22h9.2M596.63 516.53h9.2M648.59 511.26V512.57M643.99 511.26h9.2M643.99 512.57h9.2M695.95 509.43V510.74M691.35 509.43h9.2M691.35 510.74h9.2M743.31 508.48V509.79M738.71 508.48h9.2M738.71 509.79h9.2M790.67 508.08V509.39M786.07 508.08h9.2M786.07 509.39h9.2M809.62 506.84V507.71M805.02 506.84h9.2M805.02 507.71h9.2" stroke="#ff7f0e" stroke-width="1.1" fill="none" opacity="0.8"/>
<polyline points="515.98,555.93 525.45,542.65 534.93,533.84 553.87,525 601.23,515.88 648.59,511.91 695.95,510.09 743.31,509.14 790.67,508.74 809.62,507.27" fill="none" stroke="#ff7f0e" stroke-width="1.9" stroke-linejoin="round"/>
<circle cx="515.98" cy="555.93" r="2.4" fill="#ff7f0e"/>
<circle cx="525.45" cy="542.65" r="2.4" fill="#ff7f0e"/>
<circle cx="534.93" cy="533.84" r="2.4" fill="#ff7f0e"/>
<circle cx="553.87" cy="525" r="2.4" fill="#ff7f0e"/>
<circle cx="601.23" cy="515.88" r="2.4" fill="#ff7f0e"/>
<circle cx="648.59" cy="511.91" r="2.4" fill="#ff7f0e"/>
<circle cx="695.95" cy="510.09" r="2.4" fill="#ff7f0e"/>
<circle cx="743.31" cy="509.14" r="2.4" fill="#ff7f0e"/>
<circle cx="790.67" cy="508.74" r="2.4" fill="#ff7f0e"/>
<circle cx="809.62" cy="507.27" r="2.4" fill="#ff7f0e"/>
<path d="M515.98 585.28V595.59M511.38 585.28h9.2M511.38 595.59h9.2M525.45 572.99V580.13M520.85 572.99h9.2M520.85 580.13h9.2M534.93 562.28V567.83M530.33 562.28h9.2M530.33 567.83h9.2M553.87 546.42V550.38M549.27 546.42h9.2M549.27 550.38h9.2M601.23 527.89V530.27M596.63 527.89h9.2M596.63 530.27h9.2M648.59 519.45V521.83M643.99 519.45h9.2M643.99 521.83h9.2M695.95 513.1V515.48M691.35 513.1h9.2M691.35 515.48h9.2M743.31 512.31V514.69M738.71 512.31h9.2M738.71 514.69h9.2M790.67 508.9V511.28M786.07 508.9h9.2M786.07 511.28h9.2M809.62 506.76V508.34M805.02 506.76h9.2M805.02 508.34h9.2" stroke="#2ca02c" stroke-width="1.1" fill="none" opacity="0.8"/>
<polyline points="515.98,590.44 525.45,576.56 534.93,565.06 553.87,548.4 601.23,529.08 648.59,520.64 695.95,514.29 743.31,513.5 790.67,510.09 809.62,507.55" fill="none" stroke="#2ca02c" stroke-width="1.9" stroke-linejoin="round"/>
<circle cx="515.98" cy="590.44" r="2.4" fill="#2ca02c"/>
<circle cx="525.45" cy="576.56" r="2.4" fill="#2ca02c"/>
<circle cx="534.93" cy="565.06" r="2.4" fill="#2ca02c"/>
<circle cx="553.87" cy="548.4" r="2.4" fill="#2ca02c"/>
<circle cx="601.23" cy="529.08" r="2.4" fill="#2ca02c"/>
<circle cx="648.59" cy="520.64" r="2.4" fill="#2ca02c"/>
<circle cx="695.95" cy="514.29" r="2.4" fill="#2ca02c"/>
<circle cx="743.31" cy="513.5" r="2.4" fill="#2ca02c"/>
<circle cx="790.67" cy="510.09" r="2.4" fill="#2ca02c"/>
<circle cx="809.62" cy="507.55" r="2.4" fill="#2ca02c"/>
</g>
</g>
<g>
<rect x="126.9" y="683.7" width="322.8" height="197.8" fill="#fff" stroke="#999" stroke-width="1.2"/>
<path d="M141.57 881.5v3 M151.04 881.5v3 M160.51 881.5v3 M179.44 881.5v3 M226.77 881.5v3 M274.1 881.5v3 M321.43 881.5v3 M368.76 881.5v3 M416.09 881.5v3 M435.03 881.5v3 M123.9 881.5h3 M123.9 841.94h3 M123.9 802.38h3 M123.9 762.82h3 M123.9 723.26h3 M123.9 683.7h3" stroke="#999" stroke-width="1" fill="none"/>
<text x="141.57" y="897.1" font-size="14" text-anchor="middle" fill="#222" font-family="DejaVu Sans, Liberation Sans, sans-serif" font-weight="normal" stroke="#222" stroke-width="0.25">1</text>
<text x="151.04" y="897.1" font-size="14" text-anchor="middle" fill="#222" font-family="DejaVu Sans, Liberation Sans, sans-serif" font-weight="normal" stroke="#222" stroke-width="0.25">2</text>
<text x="160.51" y="897.1" font-size="14" text-anchor="middle" fill="#222" font-family="DejaVu Sans, Liberation Sans, sans-serif" font-weight="normal" stroke="#222" stroke-width="0.25">3</text>
<text x="179.44" y="897.1" font-size="14" text-anchor="middle" fill="#222" font-family="DejaVu Sans, Liberation Sans, sans-serif" font-weight="normal" stroke="#222" stroke-width="0.25">5</text>
<text x="226.77" y="897.1" font-size="14" text-anchor="middle" fill="#222" font-family="DejaVu Sans, Liberation Sans, sans-serif" font-weight="normal" stroke="#222" stroke-width="0.25">10</text>
<text x="274.1" y="897.1" font-size="14" text-anchor="middle" fill="#222" font-family="DejaVu Sans, Liberation Sans, sans-serif" font-weight="normal" stroke="#222" stroke-width="0.25">15</text>
<text x="321.43" y="897.1" font-size="14" text-anchor="middle" fill="#222" font-family="DejaVu Sans, Liberation Sans, sans-serif" font-weight="normal" stroke="#222" stroke-width="0.25">20</text>
<text x="368.76" y="897.1" font-size="14" text-anchor="middle" fill="#222" font-family="DejaVu Sans, Liberation Sans, sans-serif" font-weight="normal" stroke="#222" stroke-width="0.25">25</text>
<text x="416.09" y="897.1" font-size="14" text-anchor="middle" fill="#222" font-family="DejaVu Sans, Liberation Sans, sans-serif" font-weight="normal" stroke="#222" stroke-width="0.25">30</text>
<text x="435.03" y="897.1" font-size="14" text-anchor="middle" fill="#222" font-family="DejaVu Sans, Liberation Sans, sans-serif" font-weight="normal" stroke="#222" stroke-width="0.25">32</text>
<text x="121.9" y="886.6" font-size="14" text-anchor="end" fill="#222" font-family="DejaVu Sans, Liberation Sans, sans-serif" font-weight="normal" stroke="#222" stroke-width="0.25">0.5</text>
<text x="121.9" y="847.04" font-size="14" text-anchor="end" fill="#222" font-family="DejaVu Sans, Liberation Sans, sans-serif" font-weight="normal" stroke="#222" stroke-width="0.25">0.6</text>
<text x="121.9" y="807.48" font-size="14" text-anchor="end" fill="#222" font-family="DejaVu Sans, Liberation Sans, sans-serif" font-weight="normal" stroke="#222" stroke-width="0.25">0.7</text>
<text x="121.9" y="767.92" font-size="14" text-anchor="end" fill="#222" font-family="DejaVu Sans, Liberation Sans, sans-serif" font-weight="normal" stroke="#222" stroke-width="0.25">0.8</text>
<text x="121.9" y="728.36" font-size="14" text-anchor="end" fill="#222" font-family="DejaVu Sans, Liberation Sans, sans-serif" font-weight="normal" stroke="#222" stroke-width="0.25">0.9</text>
<text x="121.9" y="688.8" font-size="14" text-anchor="end" fill="#222" font-family="DejaVu Sans, Liberation Sans, sans-serif" font-weight="normal" stroke="#222" stroke-width="0.25">1.0</text>
<text x="288.3" y="679.2" font-size="14" text-anchor="middle" fill="#222" font-family="DejaVu Sans, Liberation Sans, sans-serif" font-weight="normal" stroke="#222" stroke-width="0.25">Recall with Standard Error Bars</text>
<text x="94.9" y="782.6" font-size="15" text-anchor="middle" fill="#222" font-family="DejaVu Sans, Liberation Sans, sans-serif" stroke="#222" stroke-width="0.25" transform="rotate(-90 94.9 782.6)">Recall</text>
<text x="288.3" y="914.1" font-size="14" text-anchor="middle" fill="#222" font-family="DejaVu Sans, Liberation Sans, sans-serif" font-weight="normal" stroke="#222" stroke-width="0.25">Combination Size</text>
<g clip-path="url(#clip_b01)">
<path d="M141.57 833.24V845.9M136.97 833.24h9.2M136.97 845.9h9.2M151.04 811.08V818.2M146.44 811.08h9.2M146.44 818.2h9.2M160.51 795.65V801.19M155.91 795.65h9.2M155.91 801.19h9.2M179.44 778.64V782.6M174.84 778.64h9.2M174.84 782.6h9.2M226.77 763.61V765.98M222.17 763.61h9.2M222.17 765.98h9.2M274.1 753.33V755.7M269.5 753.33h9.2M269.5 755.7h9.2M321.43 745.81V748.18M316.83 745.81h9.2M316.83 748.18h9.2M368.76 741.66V744.03M364.16 741.66h9.2M364.16 744.03h9.2M416.09 739.48V741.85M411.49 739.48h9.2M411.49 741.85h9.2M435.03 737.66V739.24M430.43 737.66h9.2M430.43 739.24h9.2" stroke="#1f77b4" stroke-width="1.1" fill="none" opacity="0.8"/>
<polyline points="141.57,839.57 151.04,814.64 160.51,798.42 179.44,780.62 226.77,764.8 274.1,754.51 321.43,747 368.76,742.84 416.09,740.67 435.03,738.45" fill="none" stroke="#1f77b4" stroke-width="1.9" stroke-linejoin="round"/>
<circle cx="141.57" cy="839.57" r="2.4" fill="#1f77b4"/>
<circle cx="151.04" cy="814.64" r="2.4" fill="#1f77b4"/>
<circle cx="160.51" cy="798.42" r="2.4" fill="#1f77b4"/>
<circle cx="179.44" cy="780.62" r="2.4" fill="#1f77b4"/>
<circle cx="226.77" cy="764.8" r="2.4" fill="#1f77b4"/>
<circle cx="274.1" cy="754.51" r="2.4" fill="#1f77b4"/>
<circle cx="321.43" cy="747" r="2.4" fill="#1f77b4"/>
<circle cx="368.76" cy="742.84" r="2.4" fill="#1f77b4"/>
<circle cx="416.09" cy="740.67" r="2.4" fill="#1f77b4"/>
<circle cx="435.03" cy="738.45" r="2.4" fill="#1f77b4"/>
<path d="M141.57 798.76V804.42M136.97 798.76h9.2M136.97 804.42h9.2M151.04 782.22V786.14M146.44 782.22h9.2M146.44 786.14h9.2M160.51 773.56V776.61M155.91 773.56h9.2M155.91 776.61h9.2M179.44 764.9V767.07M174.84 764.9h9.2M174.84 767.07h9.2M226.77 756.23V757.54M222.17 756.23h9.2M222.17 757.54h9.2M274.1 752.48V753.78M269.5 752.48h9.2M269.5 753.78h9.2M321.43 750.3V751.6M316.83 750.3h9.2M316.83 751.6h9.2M368.76 749.27V750.58M364.16 749.27h9.2M364.16 750.58h9.2M416.09 748.72V750.02M411.49 748.72h9.2M411.49 750.02h9.2M435.03 747.35V748.22M430.43 747.35h9.2M430.43 748.22h9.2" stroke="#ff7f0e" stroke-width="1.1" fill="none" opacity="0.8"/>
<polyline points="141.57,801.59 151.04,784.18 160.51,775.08 179.44,765.98 226.77,756.89 274.1,753.13 321.43,750.95 368.76,749.92 416.09,749.37 435.03,747.79" fill="none" stroke="#ff7f0e" stroke-width="1.9" stroke-linejoin="round"/>
<circle cx="141.57" cy="801.59" r="2.4" fill="#ff7f0e"/>
<circle cx="151.04" cy="784.18" r="2.4" fill="#ff7f0e"/>
<circle cx="160.51" cy="775.08" r="2.4" fill="#ff7f0e"/>
<circle cx="179.44" cy="765.98" r="2.4" fill="#ff7f0e"/>
<circle cx="226.77" cy="756.89" r="2.4" fill="#ff7f0e"/>
<circle cx="274.1" cy="753.13" r="2.4" fill="#ff7f0e"/>
<circle cx="321.43" cy="750.95" r="2.4" fill="#ff7f0e"/>
<circle cx="368.76" cy="749.92" r="2.4" fill="#ff7f0e"/>
<circle cx="416.09" cy="749.37" r="2.4" fill="#ff7f0e"/>
<circle cx="435.03" cy="747.79" r="2.4" fill="#ff7f0e"/>
<path d="M141.57 830.47V840.75M136.97 830.47h9.2M136.97 840.75h9.2M151.04 814.25V821.37M146.44 814.25h9.2M146.44 821.37h9.2M160.51 803.57V809.11M155.91 803.57h9.2M155.91 809.11h9.2M179.44 787.35V791.3M174.84 787.35h9.2M174.84 791.3h9.2M226.77 769.15V771.52M222.17 769.15h9.2M222.17 771.52h9.2M274.1 760.45V762.82M269.5 760.45h9.2M269.5 762.82h9.2M321.43 754.91V757.28M316.83 754.91h9.2M316.83 757.28h9.2M368.76 753.72V756.09M364.16 753.72h9.2M364.16 756.09h9.2M416.09 750.56V752.93M411.49 750.56h9.2M411.49 752.93h9.2M435.03 748.18V749.77M430.43 748.18h9.2M430.43 749.77h9.2" stroke="#2ca02c" stroke-width="1.1" fill="none" opacity="0.8"/>
<polyline points="141.57,835.61 151.04,817.81 160.51,806.34 179.44,789.33 226.77,770.34 274.1,761.63 321.43,756.09 368.76,754.91 416.09,751.74 435.03,748.97" fill="none" stroke="#2ca02c" stroke-width="1.9" stroke-linejoin="round"/>
<circle cx="141.57" cy="835.61" r="2.4" fill="#2ca02c"/>
<circle cx="151.04" cy="817.81" r="2.4" fill="#2ca02c"/>
<circle cx="160.51" cy="806.34" r="2.4" fill="#2ca02c"/>
<circle cx="179.44" cy="789.33" r="2.4" fill="#2ca02c"/>
<circle cx="226.77" cy="770.34" r="2.4" fill="#2ca02c"/>
<circle cx="274.1" cy="761.63" r="2.4" fill="#2ca02c"/>
<circle cx="321.43" cy="756.09" r="2.4" fill="#2ca02c"/>
<circle cx="368.76" cy="754.91" r="2.4" fill="#2ca02c"/>
<circle cx="416.09" cy="751.74" r="2.4" fill="#2ca02c"/>
<circle cx="435.03" cy="748.97" r="2.4" fill="#2ca02c"/>
</g>
</g>
<g>
<rect x="501.3" y="683.7" width="323" height="197.8" fill="#fff" stroke="#999" stroke-width="1.2"/>
<path d="M515.98 881.5v3 M525.45 881.5v3 M534.93 881.5v3 M553.87 881.5v3 M601.23 881.5v3 M648.59 881.5v3 M695.95 881.5v3 M743.31 881.5v3 M790.67 881.5v3 M809.62 881.5v3 M498.3 881.5h3 M498.3 841.94h3 M498.3 802.38h3 M498.3 762.82h3 M498.3 723.26h3 M498.3 683.7h3" stroke="#999" stroke-width="1" fill="none"/>
<text x="515.98" y="897.1" font-size="14" text-anchor="middle" fill="#222" font-family="DejaVu Sans, Liberation Sans, sans-serif" font-weight="normal" stroke="#222" stroke-width="0.25">1</text>
<text x="525.45" y="897.1" font-size="14" text-anchor="middle" fill="#222" font-family="DejaVu Sans, Liberation Sans, sans-serif" font-weight="normal" stroke="#222" stroke-width="0.25">2</text>
<text x="534.93" y="897.1" font-size="14" text-anchor="middle" fill="#222" font-family="DejaVu Sans, Liberation Sans, sans-serif" font-weight="normal" stroke="#222" stroke-width="0.25">3</text>
<text x="553.87" y="897.1" font-size="14" text-anchor="middle" fill="#222" font-family="DejaVu Sans, Liberation Sans, sans-serif" font-weight="normal" stroke="#222" stroke-width="0.25">5</text>
<text x="601.23" y="897.1" font-size="14" text-anchor="middle" fill="#222" font-family="DejaVu Sans, Liberation Sans, sans-serif" font-weight="normal" stroke="#222" stroke-width="0.25">10</text>
<text x="648.59" y="897.1" font-size="14" text-anchor="middle" fill="#222" font-family="DejaVu Sans, Liberation Sans, sans-serif" font-weight="normal" stroke="#222" stroke-width="0.25">15</text>
<text x="695.95" y="897.1" font-size="14" text-anchor="middle" fill="#222" font-family="DejaVu Sans, Liberation Sans, sans-serif" font-weight="normal" stroke="#222" stroke-width="0.25">20</text>
<text x="743.31" y="897.1" font-size="14" text-anchor="middle" fill="#222" font-family="DejaVu Sans, Liberation Sans, sans-serif" font-weight="normal" stroke="#222" stroke-width="0.25">25</text>
<text x="790.67" y="897.1" font-size="14" text-anchor="middle" fill="#222" font-family="DejaVu Sans, Liberation Sans, sans-serif" font-weight="normal" stroke="#222" stroke-width="0.25">30</text>
<text x="809.62" y="897.1" font-size="14" text-anchor="middle" fill="#222" font-family="DejaVu Sans, Liberation Sans, sans-serif" font-weight="normal" stroke="#222" stroke-width="0.25">32</text>
<text x="496.3" y="886.6" font-size="14" text-anchor="end" fill="#222" font-family="DejaVu Sans, Liberation Sans, sans-serif" font-weight="normal" stroke="#222" stroke-width="0.25">0.5</text>
<text x="496.3" y="847.04" font-size="14" text-anchor="end" fill="#222" font-family="DejaVu Sans, Liberation Sans, sans-serif" font-weight="normal" stroke="#222" stroke-width="0.25">0.6</text>
<text x="496.3" y="807.48" font-size="14" text-anchor="end" fill="#222" font-family="DejaVu Sans, Liberation Sans, sans-serif" font-weight="normal" stroke="#222" stroke-width="0.25">0.7</text>
<text x="496.3" y="767.92" font-size="14" text-anchor="end" fill="#222" font-family="DejaVu Sans, Liberation Sans, sans-serif" font-weight="normal" stroke="#222" stroke-width="0.25">0.8</text>
<text x="496.3" y="728.36" font-size="14" text-anchor="end" fill="#222" font-family="DejaVu Sans, Liberation Sans, sans-serif" font-weight="normal" stroke="#222" stroke-width="0.25">0.9</text>
<text x="496.3" y="688.8" font-size="14" text-anchor="end" fill="#222" font-family="DejaVu Sans, Liberation Sans, sans-serif" font-weight="normal" stroke="#222" stroke-width="0.25">1.0</text>
<text x="662.8" y="679.2" font-size="14" text-anchor="middle" fill="#222" font-family="DejaVu Sans, Liberation Sans, sans-serif" font-weight="normal" stroke="#222" stroke-width="0.25">F1 with Standard Error Bars</text>
<text x="469.3" y="782.6" font-size="15" text-anchor="middle" fill="#222" font-family="DejaVu Sans, Liberation Sans, sans-serif" stroke="#222" stroke-width="0.25" transform="rotate(-90 469.3 782.6)">F1</text>
<text x="662.8" y="914.1" font-size="14" text-anchor="middle" fill="#222" font-family="DejaVu Sans, Liberation Sans, sans-serif" font-weight="normal" stroke="#222" stroke-width="0.25">Combination Size</text>
<g clip-path="url(#clip_b11)">
<path d="M515.98 848.86V866.27M511.38 848.86h9.2M511.38 866.27h9.2M525.45 820.3V827.42M520.85 820.3h9.2M520.85 827.42h9.2M534.93 799.45V804.99M530.33 799.45h9.2M530.33 804.99h9.2M553.87 780.23V784.18M549.27 780.23h9.2M549.27 784.18h9.2M601.23 764.8V767.17M596.63 764.8h9.2M596.63 767.17h9.2M648.59 754.31V756.69M643.99 754.31h9.2M643.99 756.69h9.2M695.95 746.6V748.97M691.35 746.6h9.2M691.35 748.97h9.2M743.31 742.25V744.62M738.71 742.25h9.2M738.71 744.62h9.2M790.67 739.95V742.33M786.07 739.95h9.2M786.07 742.33h9.2M809.62 738.06V739.64M805.02 738.06h9.2M805.02 739.64h9.2" stroke="#1f77b4" stroke-width="1.1" fill="none" opacity="0.8"/>
<polyline points="515.98,857.57 525.45,823.86 534.93,802.22 553.87,782.2 601.23,765.98 648.59,755.5 695.95,747.79 743.31,743.44 790.67,741.14 809.62,738.85" fill="none" stroke="#1f77b4" stroke-width="1.9" stroke-linejoin="round"/>
<circle cx="515.98" cy="857.57" r="2.4" fill="#1f77b4"/>
<circle cx="525.45" cy="823.86" r="2.4" fill="#1f77b4"/>
<circle cx="534.93" cy="802.22" r="2.4" fill="#1f77b4"/>
<circle cx="553.87" cy="782.2" r="2.4" fill="#1f77b4"/>
<circle cx="601.23" cy="765.98" r="2.4" fill="#1f77b4"/>
<circle cx="648.59" cy="755.5" r="2.4" fill="#1f77b4"/>
<circle cx="695.95" cy="747.79" r="2.4" fill="#1f77b4"/>
<circle cx="743.31" cy="743.44" r="2.4" fill="#1f77b4"/>
<circle cx="790.67" cy="741.14" r="2.4" fill="#1f77b4"/>
<circle cx="809.62" cy="738.85" r="2.4" fill="#1f77b4"/>
<path d="M515.98 800.34V806M511.38 800.34h9.2M511.38 806h9.2M525.45 783.49V787.41M520.85 783.49h9.2M520.85 787.41h9.2M534.93 774.04V777.08M530.33 774.04h9.2M530.33 777.08h9.2M553.87 765.49V767.67M549.27 765.49h9.2M549.27 767.67h9.2M601.23 756.75V758.05M596.63 756.75h9.2M596.63 758.05h9.2M648.59 753.07V754.37M643.99 753.07h9.2M643.99 754.37h9.2M695.95 750.69V752M691.35 750.69h9.2M691.35 752h9.2M743.31 749.67V750.97M738.71 749.67h9.2M738.71 750.97h9.2M790.67 749.11V750.42M786.07 749.11h9.2M786.07 750.42h9.2M809.62 747.75V748.62M805.02 747.75h9.2M805.02 748.62h9.2" stroke="#ff7f0e" stroke-width="1.1" fill="none" opacity="0.8"/>
<polyline points="515.98,803.17 525.45,785.45 534.93,775.56 553.87,766.58 601.23,757.4 648.59,753.72 695.95,751.35 743.31,750.32 790.67,749.77 809.62,748.18" fill="none" stroke="#ff7f0e" stroke-width="1.9" stroke-linejoin="round"/>
<circle cx="515.98" cy="803.17" r="2.4" fill="#ff7f0e"/>
<circle cx="525.45" cy="785.45" r="2.4" fill="#ff7f0e"/>
<circle cx="534.93" cy="775.56" r="2.4" fill="#ff7f0e"/>
<circle cx="553.87" cy="766.58" r="2.4" fill="#ff7f0e"/>
<circle cx="601.23" cy="757.4" r="2.4" fill="#ff7f0e"/>
<circle cx="648.59" cy="753.72" r="2.4" fill="#ff7f0e"/>
<circle cx="695.95" cy="751.35" r="2.4" fill="#ff7f0e"/>
<circle cx="743.31" cy="750.32" r="2.4" fill="#ff7f0e"/>
<circle cx="790.67" cy="749.77" r="2.4" fill="#ff7f0e"/>
<circle cx="809.62" cy="748.18" r="2.4" fill="#ff7f0e"/>
<path d="M515.98 836.01V848.67M511.38 836.01h9.2M511.38 848.67h9.2M525.45 815.83V822.95M520.85 815.83h9.2M520.85 822.95h9.2M534.93 803.33V808.87M530.33 803.33h9.2M530.33 808.87h9.2M553.87 787.86V791.82M549.27 787.86h9.2M549.27 791.82h9.2M601.23 769.55V771.92M596.63 769.55h9.2M596.63 771.92h9.2M648.59 761V763.37M643.99 761h9.2M643.99 763.37h9.2M695.95 755.3V757.68M691.35 755.3h9.2M691.35 757.68h9.2M743.31 754.31V756.69M738.71 754.31h9.2M738.71 756.69h9.2M790.67 751.82V754.2M786.07 751.82h9.2M786.07 754.2h9.2M809.62 748.62V750.2M805.02 748.62h9.2M805.02 750.2h9.2" stroke="#2ca02c" stroke-width="1.1" fill="none" opacity="0.8"/>
<polyline points="515.98,842.34 525.45,819.39 534.93,806.1 553.87,789.84 601.23,770.73 648.59,762.19 695.95,756.49 743.31,755.5 790.67,753.01 809.62,749.41" fill="none" stroke="#2ca02c" stroke-width="1.9" stroke-linejoin="round"/>
<circle cx="515.98" cy="842.34" r="2.4" fill="#2ca02c"/>
<circle cx="525.45" cy="819.39" r="2.4" fill="#2ca02c"/>
<circle cx="534.93" cy="806.1" r="2.4" fill="#2ca02c"/>
<circle cx="553.87" cy="789.84" r="2.4" fill="#2ca02c"/>
<circle cx="601.23" cy="770.73" r="2.4" fill="#2ca02c"/>
<circle cx="648.59" cy="762.19" r="2.4" fill="#2ca02c"/>
<circle cx="695.95" cy="756.49" r="2.4" fill="#2ca02c"/>
<circle cx="743.31" cy="755.5" r="2.4" fill="#2ca02c"/>
<circle cx="790.67" cy="753.01" r="2.4" fill="#2ca02c"/>
<circle cx="809.62" cy="749.41" r="2.4" fill="#2ca02c"/>
</g>
<path d="M536.5 870.9H566" stroke="#1f77b4" stroke-width="1.9" fill="none"/>
<path d="M551.25 863.6V878.2M546.25 863.6h10M546.25 878.2h10" stroke="#1f77b4" stroke-width="1.1" fill="none" opacity="0.8"/>
<circle cx="551.25" cy="870.9" r="2.6" fill="#1f77b4"/>
<text x="575.4" y="876" font-size="14" text-anchor="start" fill="#222" font-family="DejaVu Sans, Liberation Sans, sans-serif" font-weight="normal" stroke="#222" stroke-width="0.25">KNN</text>
<path d="M633.9 870.9H663.5" stroke="#ff7f0e" stroke-width="1.9" fill="none"/>
<path d="M648.7 863.6V878.2M643.7 863.6h10M643.7 878.2h10" stroke="#ff7f0e" stroke-width="1.1" fill="none" opacity="0.8"/>
<circle cx="648.7" cy="870.9" r="2.6" fill="#ff7f0e"/>
<text x="673.3" y="876" font-size="14" text-anchor="start" fill="#222" font-family="DejaVu Sans, Liberation Sans, sans-serif" font-weight="normal" stroke="#222" stroke-width="0.25">RF</text>
<path d="M718.8 870.9H748.5" stroke="#2ca02c" stroke-width="1.9" fill="none"/>
<path d="M733.65 863.6V878.2M728.65 863.6h10M728.65 878.2h10" stroke="#2ca02c" stroke-width="1.1" fill="none" opacity="0.8"/>
<circle cx="733.65" cy="870.9" r="2.6" fill="#2ca02c"/>
<text x="758.5" y="876" font-size="14" text-anchor="start" fill="#222" font-family="DejaVu Sans, Liberation Sans, sans-serif" font-weight="normal" stroke="#222" stroke-width="0.25">SVM</text>
</g>
<g>
<rect x="972.2" y="443.4" width="327.7" height="201.7" fill="#fff" stroke="#999" stroke-width="1.2"/>
<path d="M987.1 645.1v3.05 M996.71 645.1v3.05 M1006.32 645.1v3.05 M1025.54 645.1v3.05 M1073.59 645.1v3.05 M1121.64 645.1v3.05 M1169.68 645.1v3.05 M1217.73 645.1v3.05 M1265.78 645.1v3.05 M1285 645.1v3.05 M969.15 645.1h3.05 M969.15 604.76h3.05 M969.15 564.42h3.05 M969.15 524.08h3.05 M969.15 483.74h3.05 M969.15 443.4h3.05" stroke="#999" stroke-width="1" fill="none"/>
<text x="987.1" y="660.7" font-size="14.22" text-anchor="middle" fill="#222" font-family="DejaVu Sans, Liberation Sans, sans-serif" font-weight="normal" stroke="#222" stroke-width="0.25">1</text>
<text x="996.71" y="660.7" font-size="14.22" text-anchor="middle" fill="#222" font-family="DejaVu Sans, Liberation Sans, sans-serif" font-weight="normal" stroke="#222" stroke-width="0.25">2</text>
<text x="1006.32" y="660.7" font-size="14.22" text-anchor="middle" fill="#222" font-family="DejaVu Sans, Liberation Sans, sans-serif" font-weight="normal" stroke="#222" stroke-width="0.25">3</text>
<text x="1025.54" y="660.7" font-size="14.22" text-anchor="middle" fill="#222" font-family="DejaVu Sans, Liberation Sans, sans-serif" font-weight="normal" stroke="#222" stroke-width="0.25">5</text>
<text x="1073.59" y="660.7" font-size="14.22" text-anchor="middle" fill="#222" font-family="DejaVu Sans, Liberation Sans, sans-serif" font-weight="normal" stroke="#222" stroke-width="0.25">10</text>
<text x="1121.64" y="660.7" font-size="14.22" text-anchor="middle" fill="#222" font-family="DejaVu Sans, Liberation Sans, sans-serif" font-weight="normal" stroke="#222" stroke-width="0.25">15</text>
<text x="1169.68" y="660.7" font-size="14.22" text-anchor="middle" fill="#222" font-family="DejaVu Sans, Liberation Sans, sans-serif" font-weight="normal" stroke="#222" stroke-width="0.25">20</text>
<text x="1217.73" y="660.7" font-size="14.22" text-anchor="middle" fill="#222" font-family="DejaVu Sans, Liberation Sans, sans-serif" font-weight="normal" stroke="#222" stroke-width="0.25">25</text>
<text x="1265.78" y="660.7" font-size="14.22" text-anchor="middle" fill="#222" font-family="DejaVu Sans, Liberation Sans, sans-serif" font-weight="normal" stroke="#222" stroke-width="0.25">30</text>
<text x="1285" y="660.7" font-size="14.22" text-anchor="middle" fill="#222" font-family="DejaVu Sans, Liberation Sans, sans-serif" font-weight="normal" stroke="#222" stroke-width="0.25">32</text>
<text x="967.12" y="650.28" font-size="14.22" text-anchor="end" fill="#222" font-family="DejaVu Sans, Liberation Sans, sans-serif" font-weight="normal" stroke="#222" stroke-width="0.25">0.5</text>
<text x="967.12" y="609.94" font-size="14.22" text-anchor="end" fill="#222" font-family="DejaVu Sans, Liberation Sans, sans-serif" font-weight="normal" stroke="#222" stroke-width="0.25">0.6</text>
<text x="967.12" y="569.6" font-size="14.22" text-anchor="end" fill="#222" font-family="DejaVu Sans, Liberation Sans, sans-serif" font-weight="normal" stroke="#222" stroke-width="0.25">0.7</text>
<text x="967.12" y="529.26" font-size="14.22" text-anchor="end" fill="#222" font-family="DejaVu Sans, Liberation Sans, sans-serif" font-weight="normal" stroke="#222" stroke-width="0.25">0.8</text>
<text x="967.12" y="488.92" font-size="14.22" text-anchor="end" fill="#222" font-family="DejaVu Sans, Liberation Sans, sans-serif" font-weight="normal" stroke="#222" stroke-width="0.25">0.9</text>
<text x="967.12" y="448.58" font-size="14.22" text-anchor="end" fill="#222" font-family="DejaVu Sans, Liberation Sans, sans-serif" font-weight="normal" stroke="#222" stroke-width="0.25">1.0</text>
<text x="1136.05" y="438.83" font-size="14.22" text-anchor="middle" fill="#222" font-family="DejaVu Sans, Liberation Sans, sans-serif" font-weight="normal" stroke="#222" stroke-width="0.25">Accuracy with Standard Error Bars</text>
<text x="938.16" y="544.25" font-size="15.24" text-anchor="middle" fill="#222" font-family="DejaVu Sans, Liberation Sans, sans-serif" stroke="#222" stroke-width="0.25" transform="rotate(-90 938.16 544.25)">Accuracy</text>
<g clip-path="url(#clip_c00)">
<path d="M987.1 562.4V572.89M982.42 562.4h9.35M982.42 572.89h9.35M996.71 531.34V538.6M992.03 531.34h9.35M992.03 538.6h9.35M1006.32 520.85V526.5M1001.64 520.85h9.35M1001.64 526.5h9.35M1025.54 506.73V510.77M1020.86 506.73h9.35M1020.86 510.77h9.35M1073.59 490.8V493.22M1068.91 490.8h9.35M1068.91 493.22h9.35M1121.64 485.35V487.77M1116.96 485.35h9.35M1116.96 487.77h9.35M1169.68 483.09V485.51M1165.01 483.09h9.35M1165.01 485.51h9.35M1217.73 482.53V484.95M1213.06 482.53h9.35M1213.06 484.95h9.35M1265.78 483.74V486.16M1261.11 483.74h9.35M1261.11 486.16h9.35M1285 484.95V486.56M1280.33 484.95h9.35M1280.33 486.56h9.35" stroke="#1f77b4" stroke-width="1.1" fill="none" opacity="0.8"/>
<polyline points="987.1,567.65 996.71,534.97 1006.32,523.68 1025.54,508.75 1073.59,492.01 1121.64,486.56 1169.68,484.3 1217.73,483.74 1265.78,484.95 1285,485.76" fill="none" stroke="#1f77b4" stroke-width="1.9" stroke-linejoin="round"/>
<circle cx="987.1" cy="567.65" r="2.44" fill="#1f77b4"/>
<circle cx="996.71" cy="534.97" r="2.44" fill="#1f77b4"/>
<circle cx="1006.32" cy="523.68" r="2.44" fill="#1f77b4"/>
<circle cx="1025.54" cy="508.75" r="2.44" fill="#1f77b4"/>
<circle cx="1073.59" cy="492.01" r="2.44" fill="#1f77b4"/>
<circle cx="1121.64" cy="486.56" r="2.44" fill="#1f77b4"/>
<circle cx="1169.68" cy="484.3" r="2.44" fill="#1f77b4"/>
<circle cx="1217.73" cy="483.74" r="2.44" fill="#1f77b4"/>
<circle cx="1265.78" cy="484.95" r="2.44" fill="#1f77b4"/>
<circle cx="1285" cy="485.76" r="2.44" fill="#1f77b4"/>
<path d="M987.1 509.62V515.39M982.42 509.62h9.35M982.42 515.39h9.35M996.71 501.51V505.5M992.03 501.51h9.35M992.03 505.5h9.35M1006.32 494.69V497.8M1001.64 494.69h9.35M1001.64 497.8h9.35M1025.54 488V490.21M1020.86 488h9.35M1020.86 490.21h9.35M1073.59 483.32V484.65M1068.91 483.32h9.35M1068.91 484.65h9.35M1121.64 480.82V482.15M1116.96 480.82h9.35M1116.96 482.15h9.35M1169.68 478.92V480.25M1165.01 478.92h9.35M1165.01 480.25h9.35M1217.73 477.95V479.28M1213.06 477.95h9.35M1213.06 479.28h9.35M1265.78 477.02V478.35M1261.11 477.02h9.35M1261.11 478.35h9.35M1285 476.84V477.73M1280.33 476.84h9.35M1280.33 477.73h9.35" stroke="#ff7f0e" stroke-width="1.1" fill="none" opacity="0.8"/>
<polyline points="987.1,512.5 996.71,503.51 1006.32,496.25 1025.54,489.11 1073.59,483.98 1121.64,481.48 1169.68,479.58 1217.73,478.62 1265.78,477.69 1285,477.29" fill="none" stroke="#ff7f0e" stroke-width="1.9" stroke-linejoin="round"/>
<circle cx="987.1" cy="512.5" r="2.44" fill="#ff7f0e"/>
<circle cx="996.71" cy="503.51" r="2.44" fill="#ff7f0e"/>
<circle cx="1006.32" cy="496.25" r="2.44" fill="#ff7f0e"/>
<circle cx="1025.54" cy="489.11" r="2.44" fill="#ff7f0e"/>
<circle cx="1073.59" cy="483.98" r="2.44" fill="#ff7f0e"/>
<circle cx="1121.64" cy="481.48" r="2.44" fill="#ff7f0e"/>
<circle cx="1169.68" cy="479.58" r="2.44" fill="#ff7f0e"/>
<circle cx="1217.73" cy="478.62" r="2.44" fill="#ff7f0e"/>
<circle cx="1265.78" cy="477.69" r="2.44" fill="#ff7f0e"/>
<circle cx="1285" cy="477.29" r="2.44" fill="#ff7f0e"/>
<path d="M987.1 568.05V578.54M982.42 568.05h9.35M982.42 578.54h9.35M996.71 545.86V553.12M992.03 545.86h9.35M992.03 553.12h9.35M1006.32 532.15V537.8M1001.64 532.15h9.35M1001.64 537.8h9.35M1025.54 515.37V519.4M1020.86 515.37h9.35M1020.86 519.4h9.35M1073.59 501.29V503.71M1068.91 501.29h9.35M1068.91 503.71h9.35M1121.64 493.3V495.72M1116.96 493.3h9.35M1116.96 495.72h9.35M1169.68 489.47V491.89M1165.01 489.47h9.35M1165.01 491.89h9.35M1217.73 487.49V489.91M1213.06 487.49h9.35M1213.06 489.91h9.35M1265.78 486V488.42M1261.11 486h9.35M1261.11 488.42h9.35M1285 484.55V486.16M1280.33 484.55h9.35M1280.33 486.16h9.35" stroke="#2ca02c" stroke-width="1.1" fill="none" opacity="0.8"/>
<polyline points="987.1,573.29 996.71,549.49 1006.32,534.97 1025.54,517.38 1073.59,502.5 1121.64,494.51 1169.68,490.68 1217.73,488.7 1265.78,487.21 1285,485.35" fill="none" stroke="#2ca02c" stroke-width="1.9" stroke-linejoin="round"/>
<circle cx="987.1" cy="573.29" r="2.44" fill="#2ca02c"/>
<circle cx="996.71" cy="549.49" r="2.44" fill="#2ca02c"/>
<circle cx="1006.32" cy="534.97" r="2.44" fill="#2ca02c"/>
<circle cx="1025.54" cy="517.38" r="2.44" fill="#2ca02c"/>
<circle cx="1073.59" cy="502.5" r="2.44" fill="#2ca02c"/>
<circle cx="1121.64" cy="494.51" r="2.44" fill="#2ca02c"/>
<circle cx="1169.68" cy="490.68" r="2.44" fill="#2ca02c"/>
<circle cx="1217.73" cy="488.7" r="2.44" fill="#2ca02c"/>
<circle cx="1265.78" cy="487.21" r="2.44" fill="#2ca02c"/>
<circle cx="1285" cy="485.35" r="2.44" fill="#2ca02c"/>
</g>
</g>
<g>
<rect x="1352.8" y="443.4" width="326.8" height="201.7" fill="#fff" stroke="#999" stroke-width="1.2"/>
<path d="M1367.65 645.1v3.05 M1377.24 645.1v3.05 M1386.82 645.1v3.05 M1405.99 645.1v3.05 M1453.91 645.1v3.05 M1501.82 645.1v3.05 M1549.74 645.1v3.05 M1597.66 645.1v3.05 M1645.58 645.1v3.05 M1664.75 645.1v3.05 M1349.75 645.1h3.05 M1349.75 604.76h3.05 M1349.75 564.42h3.05 M1349.75 524.08h3.05 M1349.75 483.74h3.05 M1349.75 443.4h3.05" stroke="#999" stroke-width="1" fill="none"/>
<text x="1367.65" y="660.7" font-size="14.22" text-anchor="middle" fill="#222" font-family="DejaVu Sans, Liberation Sans, sans-serif" font-weight="normal" stroke="#222" stroke-width="0.25">1</text>
<text x="1377.24" y="660.7" font-size="14.22" text-anchor="middle" fill="#222" font-family="DejaVu Sans, Liberation Sans, sans-serif" font-weight="normal" stroke="#222" stroke-width="0.25">2</text>
<text x="1386.82" y="660.7" font-size="14.22" text-anchor="middle" fill="#222" font-family="DejaVu Sans, Liberation Sans, sans-serif" font-weight="normal" stroke="#222" stroke-width="0.25">3</text>
<text x="1405.99" y="660.7" font-size="14.22" text-anchor="middle" fill="#222" font-family="DejaVu Sans, Liberation Sans, sans-serif" font-weight="normal" stroke="#222" stroke-width="0.25">5</text>
<text x="1453.91" y="660.7" font-size="14.22" text-anchor="middle" fill="#222" font-family="DejaVu Sans, Liberation Sans, sans-serif" font-weight="normal" stroke="#222" stroke-width="0.25">10</text>
<text x="1501.82" y="660.7" font-size="14.22" text-anchor="middle" fill="#222" font-family="DejaVu Sans, Liberation Sans, sans-serif" font-weight="normal" stroke="#222" stroke-width="0.25">15</text>
<text x="1549.74" y="660.7" font-size="14.22" text-anchor="middle" fill="#222" font-family="DejaVu Sans, Liberation Sans, sans-serif" font-weight="normal" stroke="#222" stroke-width="0.25">20</text>
<text x="1597.66" y="660.7" font-size="14.22" text-anchor="middle" fill="#222" font-family="DejaVu Sans, Liberation Sans, sans-serif" font-weight="normal" stroke="#222" stroke-width="0.25">25</text>
<text x="1645.58" y="660.7" font-size="14.22" text-anchor="middle" fill="#222" font-family="DejaVu Sans, Liberation Sans, sans-serif" font-weight="normal" stroke="#222" stroke-width="0.25">30</text>
<text x="1664.75" y="660.7" font-size="14.22" text-anchor="middle" fill="#222" font-family="DejaVu Sans, Liberation Sans, sans-serif" font-weight="normal" stroke="#222" stroke-width="0.25">32</text>
<text x="1347.72" y="650.28" font-size="14.22" text-anchor="end" fill="#222" font-family="DejaVu Sans, Liberation Sans, sans-serif" font-weight="normal" stroke="#222" stroke-width="0.25">0.5</text>
<text x="1347.72" y="609.94" font-size="14.22" text-anchor="end" fill="#222" font-family="DejaVu Sans, Liberation Sans, sans-serif" font-weight="normal" stroke="#222" stroke-width="0.25">0.6</text>
<text x="1347.72" y="569.6" font-size="14.22" text-anchor="end" fill="#222" font-family="DejaVu Sans, Liberation Sans, sans-serif" font-weight="normal" stroke="#222" stroke-width="0.25">0.7</text>
<text x="1347.72" y="529.26" font-size="14.22" text-anchor="end" fill="#222" font-family="DejaVu Sans, Liberation Sans, sans-serif" font-weight="normal" stroke="#222" stroke-width="0.25">0.8</text>
<text x="1347.72" y="488.92" font-size="14.22" text-anchor="end" fill="#222" font-family="DejaVu Sans, Liberation Sans, sans-serif" font-weight="normal" stroke="#222" stroke-width="0.25">0.9</text>
<text x="1347.72" y="448.58" font-size="14.22" text-anchor="end" fill="#222" font-family="DejaVu Sans, Liberation Sans, sans-serif" font-weight="normal" stroke="#222" stroke-width="0.25">1.0</text>
<text x="1516.2" y="438.83" font-size="14.22" text-anchor="middle" fill="#222" font-family="DejaVu Sans, Liberation Sans, sans-serif" font-weight="normal" stroke="#222" stroke-width="0.25">Precision with Standard Error Bars</text>
<text x="1320.8" y="544.25" font-size="15.24" text-anchor="middle" fill="#222" font-family="DejaVu Sans, Liberation Sans, sans-serif" stroke="#222" stroke-width="0.25" transform="rotate(-90 1320.8 544.25)">Precision</text>
<g clip-path="url(#clip_c10)">
<path d="M1367.65 551.75V562.24M1362.98 551.75h9.35M1362.98 562.24h9.35M1377.24 525.69V532.95M1372.56 525.69h9.35M1372.56 532.95h9.35M1386.82 513.59V519.24M1382.15 513.59h9.35M1382.15 519.24h9.35M1405.99 500.88V504.92M1401.32 500.88h9.35M1401.32 504.92h9.35M1453.91 487.9V490.32M1449.23 487.9h9.35M1449.23 490.32h9.35M1501.82 482.53V484.95M1497.15 482.53h9.35M1497.15 484.95h9.35M1549.74 480.27V482.69M1545.07 480.27h9.35M1545.07 482.69h9.35M1597.66 479.91V482.33M1592.99 479.91h9.35M1592.99 482.33h9.35M1645.58 480.67V483.09M1640.9 480.67h9.35M1640.9 483.09h9.35M1664.75 481.6V483.22M1660.07 481.6h9.35M1660.07 483.22h9.35" stroke="#1f77b4" stroke-width="1.1" fill="none" opacity="0.8"/>
<polyline points="1367.65,557 1377.24,529.32 1386.82,516.42 1405.99,502.9 1453.91,489.11 1501.82,483.74 1549.74,481.48 1597.66,481.12 1645.58,481.88 1664.75,482.41" fill="none" stroke="#1f77b4" stroke-width="1.9" stroke-linejoin="round"/>
<circle cx="1367.65" cy="557" r="2.44" fill="#1f77b4"/>
<circle cx="1377.24" cy="529.32" r="2.44" fill="#1f77b4"/>
<circle cx="1386.82" cy="516.42" r="2.44" fill="#1f77b4"/>
<circle cx="1405.99" cy="502.9" r="2.44" fill="#1f77b4"/>
<circle cx="1453.91" cy="489.11" r="2.44" fill="#1f77b4"/>
<circle cx="1501.82" cy="483.74" r="2.44" fill="#1f77b4"/>
<circle cx="1549.74" cy="481.48" r="2.44" fill="#1f77b4"/>
<circle cx="1597.66" cy="481.12" r="2.44" fill="#1f77b4"/>
<circle cx="1645.58" cy="481.88" r="2.44" fill="#1f77b4"/>
<circle cx="1664.75" cy="482.41" r="2.44" fill="#1f77b4"/>
<path d="M1367.65 507.72V513.49M1362.98 507.72h9.35M1362.98 513.49h9.35M1377.24 499.61V503.61M1372.56 499.61h9.35M1372.56 503.61h9.35M1386.82 493.36V496.47M1382.15 493.36h9.35M1382.15 496.47h9.35M1405.99 487.07V489.29M1401.32 487.07h9.35M1401.32 489.29h9.35M1453.91 482.15V483.48M1449.23 482.15h9.35M1449.23 483.48h9.35M1501.82 479.44V480.78M1497.15 479.44h9.35M1497.15 480.78h9.35M1549.74 477.95V479.28M1545.07 477.95h9.35M1545.07 479.28h9.35M1597.66 477.02V478.35M1592.99 477.02h9.35M1592.99 478.35h9.35M1645.58 476.06V477.39M1640.9 476.06h9.35M1640.9 477.39h9.35M1664.75 476.28V477.16M1660.07 476.28h9.35M1660.07 477.16h9.35" stroke="#ff7f0e" stroke-width="1.1" fill="none" opacity="0.8"/>
<polyline points="1367.65,510.61 1377.24,501.61 1386.82,494.91 1405.99,488.18 1453.91,482.81 1501.82,480.11 1549.74,478.62 1597.66,477.69 1645.58,476.72 1664.75,476.72" fill="none" stroke="#ff7f0e" stroke-width="1.9" stroke-linejoin="round"/>
<circle cx="1367.65" cy="510.61" r="2.44" fill="#ff7f0e"/>
<circle cx="1377.24" cy="501.61" r="2.44" fill="#ff7f0e"/>
<circle cx="1386.82" cy="494.91" r="2.44" fill="#ff7f0e"/>
<circle cx="1405.99" cy="488.18" r="2.44" fill="#ff7f0e"/>
<circle cx="1453.91" cy="482.81" r="2.44" fill="#ff7f0e"/>
<circle cx="1501.82" cy="480.11" r="2.44" fill="#ff7f0e"/>
<circle cx="1549.74" cy="478.62" r="2.44" fill="#ff7f0e"/>
<circle cx="1597.66" cy="477.69" r="2.44" fill="#ff7f0e"/>
<circle cx="1645.58" cy="476.72" r="2.44" fill="#ff7f0e"/>
<circle cx="1664.75" cy="476.72" r="2.44" fill="#ff7f0e"/>
<path d="M1367.65 563.21V573.7M1362.98 563.21h9.35M1362.98 573.7h9.35M1377.24 544.77V552.04M1372.56 544.77h9.35M1372.56 552.04h9.35M1386.82 531.34V536.99M1382.15 531.34h9.35M1382.15 536.99h9.35M1405.99 514.8V518.84M1401.32 514.8h9.35M1401.32 518.84h9.35M1453.91 500.8V503.22M1449.23 500.8h9.35M1449.23 503.22h9.35M1501.82 492.7V495.12M1497.15 492.7h9.35M1497.15 495.12h9.35M1549.74 488.9V491.32M1545.07 488.9h9.35M1545.07 491.32h9.35M1597.66 486.97V489.39M1592.99 486.97h9.35M1592.99 489.39h9.35M1645.58 485.6V488.02M1640.9 485.6h9.35M1640.9 488.02h9.35M1664.75 483.5V485.11M1660.07 483.5h9.35M1660.07 485.11h9.35" stroke="#2ca02c" stroke-width="1.1" fill="none" opacity="0.8"/>
<polyline points="1367.65,568.45 1377.24,548.41 1386.82,534.16 1405.99,516.82 1453.91,502.01 1501.82,493.91 1549.74,490.11 1597.66,488.18 1645.58,486.81 1664.75,484.3" fill="none" stroke="#2ca02c" stroke-width="1.9" stroke-linejoin="round"/>
<circle cx="1367.65" cy="568.45" r="2.44" fill="#2ca02c"/>
<circle cx="1377.24" cy="548.41" r="2.44" fill="#2ca02c"/>
<circle cx="1386.82" cy="534.16" r="2.44" fill="#2ca02c"/>
<circle cx="1405.99" cy="516.82" r="2.44" fill="#2ca02c"/>
<circle cx="1453.91" cy="502.01" r="2.44" fill="#2ca02c"/>
<circle cx="1501.82" cy="493.91" r="2.44" fill="#2ca02c"/>
<circle cx="1549.74" cy="490.11" r="2.44" fill="#2ca02c"/>
<circle cx="1597.66" cy="488.18" r="2.44" fill="#2ca02c"/>
<circle cx="1645.58" cy="486.81" r="2.44" fill="#2ca02c"/>
<circle cx="1664.75" cy="484.3" r="2.44" fill="#2ca02c"/>
</g>
</g>
<g>
<rect x="972.2" y="687.4" width="327.7" height="201" fill="#fff" stroke="#999" stroke-width="1.2"/>
<path d="M987.1 888.4v3.05 M996.71 888.4v3.05 M1006.32 888.4v3.05 M1025.54 888.4v3.05 M1073.59 888.4v3.05 M1121.64 888.4v3.05 M1169.68 888.4v3.05 M1217.73 888.4v3.05 M1265.78 888.4v3.05 M1285 888.4v3.05 M969.15 888.4h3.05 M969.15 848.2h3.05 M969.15 808h3.05 M969.15 767.8h3.05 M969.15 727.6h3.05 M969.15 687.4h3.05" stroke="#999" stroke-width="1" fill="none"/>
<text x="987.1" y="904" font-size="14.22" text-anchor="middle" fill="#222" font-family="DejaVu Sans, Liberation Sans, sans-serif" font-weight="normal" stroke="#222" stroke-width="0.25">1</text>
<text x="996.71" y="904" font-size="14.22" text-anchor="middle" fill="#222" font-family="DejaVu Sans, Liberation Sans, sans-serif" font-weight="normal" stroke="#222" stroke-width="0.25">2</text>
<text x="1006.32" y="904" font-size="14.22" text-anchor="middle" fill="#222" font-family="DejaVu Sans, Liberation Sans, sans-serif" font-weight="normal" stroke="#222" stroke-width="0.25">3</text>
<text x="1025.54" y="904" font-size="14.22" text-anchor="middle" fill="#222" font-family="DejaVu Sans, Liberation Sans, sans-serif" font-weight="normal" stroke="#222" stroke-width="0.25">5</text>
<text x="1073.59" y="904" font-size="14.22" text-anchor="middle" fill="#222" font-family="DejaVu Sans, Liberation Sans, sans-serif" font-weight="normal" stroke="#222" stroke-width="0.25">10</text>
<text x="1121.64" y="904" font-size="14.22" text-anchor="middle" fill="#222" font-family="DejaVu Sans, Liberation Sans, sans-serif" font-weight="normal" stroke="#222" stroke-width="0.25">15</text>
<text x="1169.68" y="904" font-size="14.22" text-anchor="middle" fill="#222" font-family="DejaVu Sans, Liberation Sans, sans-serif" font-weight="normal" stroke="#222" stroke-width="0.25">20</text>
<text x="1217.73" y="904" font-size="14.22" text-anchor="middle" fill="#222" font-family="DejaVu Sans, Liberation Sans, sans-serif" font-weight="normal" stroke="#222" stroke-width="0.25">25</text>
<text x="1265.78" y="904" font-size="14.22" text-anchor="middle" fill="#222" font-family="DejaVu Sans, Liberation Sans, sans-serif" font-weight="normal" stroke="#222" stroke-width="0.25">30</text>
<text x="1285" y="904" font-size="14.22" text-anchor="middle" fill="#222" font-family="DejaVu Sans, Liberation Sans, sans-serif" font-weight="normal" stroke="#222" stroke-width="0.25">32</text>
<text x="967.12" y="893.58" font-size="14.22" text-anchor="end" fill="#222" font-family="DejaVu Sans, Liberation Sans, sans-serif" font-weight="normal" stroke="#222" stroke-width="0.25">0.5</text>
<text x="967.12" y="853.38" font-size="14.22" text-anchor="end" fill="#222" font-family="DejaVu Sans, Liberation Sans, sans-serif" font-weight="normal" stroke="#222" stroke-width="0.25">0.6</text>
<text x="967.12" y="813.18" font-size="14.22" text-anchor="end" fill="#222" font-family="DejaVu Sans, Liberation Sans, sans-serif" font-weight="normal" stroke="#222" stroke-width="0.25">0.7</text>
<text x="967.12" y="772.98" font-size="14.22" text-anchor="end" fill="#222" font-family="DejaVu Sans, Liberation Sans, sans-serif" font-weight="normal" stroke="#222" stroke-width="0.25">0.8</text>
<text x="967.12" y="732.78" font-size="14.22" text-anchor="end" fill="#222" font-family="DejaVu Sans, Liberation Sans, sans-serif" font-weight="normal" stroke="#222" stroke-width="0.25">0.9</text>
<text x="967.12" y="692.58" font-size="14.22" text-anchor="end" fill="#222" font-family="DejaVu Sans, Liberation Sans, sans-serif" font-weight="normal" stroke="#222" stroke-width="0.25">1.0</text>
<text x="1136.05" y="682.83" font-size="14.22" text-anchor="middle" fill="#222" font-family="DejaVu Sans, Liberation Sans, sans-serif" font-weight="normal" stroke="#222" stroke-width="0.25">Recall with Standard Error Bars</text>
<text x="939.69" y="787.9" font-size="15.24" text-anchor="middle" fill="#222" font-family="DejaVu Sans, Liberation Sans, sans-serif" stroke="#222" stroke-width="0.25" transform="rotate(-90 939.69 787.9)">Recall</text>
<text x="1136.05" y="921" font-size="14.22" text-anchor="middle" fill="#222" font-family="DejaVu Sans, Liberation Sans, sans-serif" font-weight="normal" stroke="#222" stroke-width="0.25">Combination Size</text>
<g clip-path="url(#clip_c01)">
<path d="M987.1 805.99V816.44M982.42 805.99h9.35M982.42 816.44h9.35M996.71 775.04V782.27M992.03 775.04h9.35M992.03 782.27h9.35M1006.32 764.58V770.21M1001.64 764.58h9.35M1001.64 770.21h9.35M1025.54 750.51V754.53M1020.86 750.51h9.35M1020.86 754.53h9.35M1073.59 734.63V737.05M1068.91 734.63h9.35M1068.91 737.05h9.35M1121.64 729.21V731.62M1116.96 729.21h9.35M1116.96 731.62h9.35M1169.68 726.96V729.37M1165.01 726.96h9.35M1165.01 729.37h9.35M1217.73 726.39V728.81M1213.06 726.39h9.35M1213.06 728.81h9.35M1265.78 727.6V730.01M1261.11 727.6h9.35M1261.11 730.01h9.35M1285 728.81V730.41M1280.33 728.81h9.35M1280.33 730.41h9.35" stroke="#1f77b4" stroke-width="1.1" fill="none" opacity="0.8"/>
<polyline points="987.1,811.22 996.71,778.65 1006.32,767.4 1025.54,752.52 1073.59,735.84 1121.64,730.41 1169.68,728.16 1217.73,727.6 1265.78,728.81 1285,729.61" fill="none" stroke="#1f77b4" stroke-width="1.9" stroke-linejoin="round"/>
<circle cx="987.1" cy="811.22" r="2.44" fill="#1f77b4"/>
<circle cx="996.71" cy="778.65" r="2.44" fill="#1f77b4"/>
<circle cx="1006.32" cy="767.4" r="2.44" fill="#1f77b4"/>
<circle cx="1025.54" cy="752.52" r="2.44" fill="#1f77b4"/>
<circle cx="1073.59" cy="735.84" r="2.44" fill="#1f77b4"/>
<circle cx="1121.64" cy="730.41" r="2.44" fill="#1f77b4"/>
<circle cx="1169.68" cy="728.16" r="2.44" fill="#1f77b4"/>
<circle cx="1217.73" cy="727.6" r="2.44" fill="#1f77b4"/>
<circle cx="1265.78" cy="728.81" r="2.44" fill="#1f77b4"/>
<circle cx="1285" cy="729.61" r="2.44" fill="#1f77b4"/>
<path d="M987.1 753.39V759.14M982.42 753.39h9.35M982.42 759.14h9.35M996.71 745.31V749.29M992.03 745.31h9.35M992.03 749.29h9.35M1006.32 738.51V741.61M1001.64 738.51h9.35M1001.64 741.61h9.35M1025.54 731.84V734.05M1020.86 731.84h9.35M1020.86 734.05h9.35M1073.59 727.18V728.5M1068.91 727.18h9.35M1068.91 728.5h9.35M1121.64 724.69V726.01M1116.96 724.69h9.35M1116.96 726.01h9.35M1169.68 722.8V724.12M1165.01 722.8h9.35M1165.01 724.12h9.35M1217.73 721.83V723.16M1213.06 721.83h9.35M1213.06 723.16h9.35M1265.78 720.91V722.23M1261.11 720.91h9.35M1261.11 722.23h9.35M1285 720.73V721.61M1280.33 720.73h9.35M1280.33 721.61h9.35" stroke="#ff7f0e" stroke-width="1.1" fill="none" opacity="0.8"/>
<polyline points="987.1,756.26 996.71,747.3 1006.32,740.06 1025.54,732.95 1073.59,727.84 1121.64,725.35 1169.68,723.46 1217.73,722.49 1265.78,721.57 1285,721.17" fill="none" stroke="#ff7f0e" stroke-width="1.9" stroke-linejoin="round"/>
<circle cx="987.1" cy="756.26" r="2.44" fill="#ff7f0e"/>
<circle cx="996.71" cy="747.3" r="2.44" fill="#ff7f0e"/>
<circle cx="1006.32" cy="740.06" r="2.44" fill="#ff7f0e"/>
<circle cx="1025.54" cy="732.95" r="2.44" fill="#ff7f0e"/>
<circle cx="1073.59" cy="727.84" r="2.44" fill="#ff7f0e"/>
<circle cx="1121.64" cy="725.35" r="2.44" fill="#ff7f0e"/>
<circle cx="1169.68" cy="723.46" r="2.44" fill="#ff7f0e"/>
<circle cx="1217.73" cy="722.49" r="2.44" fill="#ff7f0e"/>
<circle cx="1265.78" cy="721.57" r="2.44" fill="#ff7f0e"/>
<circle cx="1285" cy="721.17" r="2.44" fill="#ff7f0e"/>
<path d="M987.1 811.62V822.07M982.42 811.62h9.35M982.42 822.07h9.35M996.71 789.51V796.74M992.03 789.51h9.35M992.03 796.74h9.35M1006.32 775.84V781.47M1001.64 775.84h9.35M1001.64 781.47h9.35M1025.54 759.12V763.14M1020.86 759.12h9.35M1020.86 763.14h9.35M1073.59 745.09V747.5M1068.91 745.09h9.35M1068.91 747.5h9.35M1121.64 737.13V739.54M1116.96 737.13h9.35M1116.96 739.54h9.35M1169.68 733.31V735.72M1165.01 733.31h9.35M1165.01 735.72h9.35M1217.73 731.34V733.75M1213.06 731.34h9.35M1213.06 733.75h9.35M1265.78 729.85V732.26M1261.11 729.85h9.35M1261.11 732.26h9.35M1285 728.4V730.01M1280.33 728.4h9.35M1280.33 730.01h9.35" stroke="#2ca02c" stroke-width="1.1" fill="none" opacity="0.8"/>
<polyline points="987.1,816.84 996.71,793.13 1006.32,778.65 1025.54,761.13 1073.59,746.29 1121.64,738.33 1169.68,734.51 1217.73,732.54 1265.78,731.06 1285,729.21" fill="none" stroke="#2ca02c" stroke-width="1.9" stroke-linejoin="round"/>
<circle cx="987.1" cy="816.84" r="2.44" fill="#2ca02c"/>
<circle cx="996.71" cy="793.13" r="2.44" fill="#2ca02c"/>
<circle cx="1006.32" cy="778.65" r="2.44" fill="#2ca02c"/>
<circle cx="1025.54" cy="761.13" r="2.44" fill="#2ca02c"/>
<circle cx="1073.59" cy="746.29" r="2.44" fill="#2ca02c"/>
<circle cx="1121.64" cy="738.33" r="2.44" fill="#2ca02c"/>
<circle cx="1169.68" cy="734.51" r="2.44" fill="#2ca02c"/>
<circle cx="1217.73" cy="732.54" r="2.44" fill="#2ca02c"/>
<circle cx="1265.78" cy="731.06" r="2.44" fill="#2ca02c"/>
<circle cx="1285" cy="729.21" r="2.44" fill="#2ca02c"/>
</g>
</g>
<g>
<rect x="1352.8" y="687.4" width="326.8" height="201" fill="#fff" stroke="#999" stroke-width="1.2"/>
<path d="M1367.65 888.4v3.05 M1377.24 888.4v3.05 M1386.82 888.4v3.05 M1405.99 888.4v3.05 M1453.91 888.4v3.05 M1501.82 888.4v3.05 M1549.74 888.4v3.05 M1597.66 888.4v3.05 M1645.58 888.4v3.05 M1664.75 888.4v3.05 M1349.75 888.4h3.05 M1349.75 848.2h3.05 M1349.75 808h3.05 M1349.75 767.8h3.05 M1349.75 727.6h3.05 M1349.75 687.4h3.05" stroke="#999" stroke-width="1" fill="none"/>
<text x="1367.65" y="904" font-size="14.22" text-anchor="middle" fill="#222" font-family="DejaVu Sans, Liberation Sans, sans-serif" font-weight="normal" stroke="#222" stroke-width="0.25">1</text>
<text x="1377.24" y="904" font-size="14.22" text-anchor="middle" fill="#222" font-family="DejaVu Sans, Liberation Sans, sans-serif" font-weight="normal" stroke="#222" stroke-width="0.25">2</text>
<text x="1386.82" y="904" font-size="14.22" text-anchor="middle" fill="#222" font-family="DejaVu Sans, Liberation Sans, sans-serif" font-weight="normal" stroke="#222" stroke-width="0.25">3</text>
<text x="1405.99" y="904" font-size="14.22" text-anchor="middle" fill="#222" font-family="DejaVu Sans, Liberation Sans, sans-serif" font-weight="normal" stroke="#222" stroke-width="0.25">5</text>
<text x="1453.91" y="904" font-size="14.22" text-anchor="middle" fill="#222" font-family="DejaVu Sans, Liberation Sans, sans-serif" font-weight="normal" stroke="#222" stroke-width="0.25">10</text>
<text x="1501.82" y="904" font-size="14.22" text-anchor="middle" fill="#222" font-family="DejaVu Sans, Liberation Sans, sans-serif" font-weight="normal" stroke="#222" stroke-width="0.25">15</text>
<text x="1549.74" y="904" font-size="14.22" text-anchor="middle" fill="#222" font-family="DejaVu Sans, Liberation Sans, sans-serif" font-weight="normal" stroke="#222" stroke-width="0.25">20</text>
<text x="1597.66" y="904" font-size="14.22" text-anchor="middle" fill="#222" font-family="DejaVu Sans, Liberation Sans, sans-serif" font-weight="normal" stroke="#222" stroke-width="0.25">25</text>
<text x="1645.58" y="904" font-size="14.22" text-anchor="middle" fill="#222" font-family="DejaVu Sans, Liberation Sans, sans-serif" font-weight="normal" stroke="#222" stroke-width="0.25">30</text>
<text x="1664.75" y="904" font-size="14.22" text-anchor="middle" fill="#222" font-family="DejaVu Sans, Liberation Sans, sans-serif" font-weight="normal" stroke="#222" stroke-width="0.25">32</text>
<text x="1347.72" y="893.58" font-size="14.22" text-anchor="end" fill="#222" font-family="DejaVu Sans, Liberation Sans, sans-serif" font-weight="normal" stroke="#222" stroke-width="0.25">0.5</text>
<text x="1347.72" y="853.38" font-size="14.22" text-anchor="end" fill="#222" font-family="DejaVu Sans, Liberation Sans, sans-serif" font-weight="normal" stroke="#222" stroke-width="0.25">0.6</text>
<text x="1347.72" y="813.18" font-size="14.22" text-anchor="end" fill="#222" font-family="DejaVu Sans, Liberation Sans, sans-serif" font-weight="normal" stroke="#222" stroke-width="0.25">0.7</text>
<text x="1347.72" y="772.98" font-size="14.22" text-anchor="end" fill="#222" font-family="DejaVu Sans, Liberation Sans, sans-serif" font-weight="normal" stroke="#222" stroke-width="0.25">0.8</text>
<text x="1347.72" y="732.78" font-size="14.22" text-anchor="end" fill="#222" font-family="DejaVu Sans, Liberation Sans, sans-serif" font-weight="normal" stroke="#222" stroke-width="0.25">0.9</text>
<text x="1347.72" y="692.58" font-size="14.22" text-anchor="end" fill="#222" font-family="DejaVu Sans, Liberation Sans, sans-serif" font-weight="normal" stroke="#222" stroke-width="0.25">1.0</text>
<text x="1516.2" y="682.83" font-size="14.22" text-anchor="middle" fill="#222" font-family="DejaVu Sans, Liberation Sans, sans-serif" font-weight="normal" stroke="#222" stroke-width="0.25">F1 with Standard Error Bars</text>
<text x="1320.29" y="787.9" font-size="15.24" text-anchor="middle" fill="#222" font-family="DejaVu Sans, Liberation Sans, sans-serif" stroke="#222" stroke-width="0.25" transform="rotate(-90 1320.29 787.9)">F1</text>
<text x="1516.2" y="921" font-size="14.22" text-anchor="middle" fill="#222" font-family="DejaVu Sans, Liberation Sans, sans-serif" font-weight="normal" stroke="#222" stroke-width="0.25">Combination Size</text>
<g clip-path="url(#clip_c11)">
<path d="M1367.65 816.04V828.1M1362.98 816.04h9.35M1362.98 828.1h9.35M1377.24 776.4V783.64M1372.56 776.4h9.35M1372.56 783.64h9.35M1386.82 765.79V771.42M1382.15 765.79h9.35M1382.15 771.42h9.35M1405.99 751.32V755.34M1401.32 751.32h9.35M1401.32 755.34h9.35M1453.91 734.84V737.25M1449.23 734.84h9.35M1449.23 737.25h9.35M1501.82 729.21V731.62M1497.15 729.21h9.35M1497.15 731.62h9.35M1549.74 727.2V729.61M1545.07 727.2h9.35M1545.07 729.61h9.35M1597.66 726.39V728.81M1592.99 726.39h9.35M1592.99 728.81h9.35M1645.58 727.2V729.61M1640.9 727.2h9.35M1640.9 729.61h9.35M1664.75 728.56V730.17M1660.07 728.56h9.35M1660.07 730.17h9.35" stroke="#1f77b4" stroke-width="1.1" fill="none" opacity="0.8"/>
<polyline points="1367.65,822.07 1377.24,780.02 1386.82,768.6 1405.99,753.33 1453.91,736.04 1501.82,730.41 1549.74,728.4 1597.66,727.6 1645.58,728.4 1664.75,729.37" fill="none" stroke="#1f77b4" stroke-width="1.9" stroke-linejoin="round"/>
<circle cx="1367.65" cy="822.07" r="2.44" fill="#1f77b4"/>
<circle cx="1377.24" cy="780.02" r="2.44" fill="#1f77b4"/>
<circle cx="1386.82" cy="768.6" r="2.44" fill="#1f77b4"/>
<circle cx="1405.99" cy="753.33" r="2.44" fill="#1f77b4"/>
<circle cx="1453.91" cy="736.04" r="2.44" fill="#1f77b4"/>
<circle cx="1501.82" cy="730.41" r="2.44" fill="#1f77b4"/>
<circle cx="1549.74" cy="728.4" r="2.44" fill="#1f77b4"/>
<circle cx="1597.66" cy="727.6" r="2.44" fill="#1f77b4"/>
<circle cx="1645.58" cy="728.4" r="2.44" fill="#1f77b4"/>
<circle cx="1664.75" cy="729.37" r="2.44" fill="#1f77b4"/>
<path d="M1367.65 753.27V759.02M1362.98 753.27h9.35M1362.98 759.02h9.35M1377.24 745.31V749.29M1372.56 745.31h9.35M1372.56 749.29h9.35M1386.82 738.31V741.41M1382.15 738.31h9.35M1382.15 741.41h9.35M1405.99 732.52V734.74M1401.32 732.52h9.35M1401.32 734.74h9.35M1453.91 727.74V729.07M1449.23 727.74h9.35M1449.23 729.07h9.35M1501.82 725.33V726.66M1497.15 725.33h9.35M1497.15 726.66h9.35M1549.74 723V724.32M1545.07 723h9.35M1545.07 724.32h9.35M1597.66 721.71V723.04M1592.99 721.71h9.35M1592.99 723.04h9.35M1645.58 720.71V722.03M1640.9 720.71h9.35M1640.9 722.03h9.35M1664.75 720.73V721.61M1660.07 720.73h9.35M1660.07 721.61h9.35" stroke="#ff7f0e" stroke-width="1.1" fill="none" opacity="0.8"/>
<polyline points="1367.65,756.14 1377.24,747.3 1386.82,739.86 1405.99,733.63 1453.91,728.4 1501.82,725.99 1549.74,723.66 1597.66,722.37 1645.58,721.37 1664.75,721.17" fill="none" stroke="#ff7f0e" stroke-width="1.9" stroke-linejoin="round"/>
<circle cx="1367.65" cy="756.14" r="2.44" fill="#ff7f0e"/>
<circle cx="1377.24" cy="747.3" r="2.44" fill="#ff7f0e"/>
<circle cx="1386.82" cy="739.86" r="2.44" fill="#ff7f0e"/>
<circle cx="1405.99" cy="733.63" r="2.44" fill="#ff7f0e"/>
<circle cx="1453.91" cy="728.4" r="2.44" fill="#ff7f0e"/>
<circle cx="1501.82" cy="725.99" r="2.44" fill="#ff7f0e"/>
<circle cx="1549.74" cy="723.66" r="2.44" fill="#ff7f0e"/>
<circle cx="1597.66" cy="722.37" r="2.44" fill="#ff7f0e"/>
<circle cx="1645.58" cy="721.37" r="2.44" fill="#ff7f0e"/>
<circle cx="1664.75" cy="721.17" r="2.44" fill="#ff7f0e"/>
<path d="M1367.65 813.02V823.48M1362.98 813.02h9.35M1362.98 823.48h9.35M1377.24 789.91V797.15M1372.56 789.91h9.35M1372.56 797.15h9.35M1386.82 776.24V781.87M1382.15 776.24h9.35M1382.15 781.87h9.35M1405.99 759.56V763.58M1401.32 759.56h9.35M1401.32 763.58h9.35M1453.91 745.29V747.7M1449.23 745.29h9.35M1449.23 747.7h9.35M1501.82 737.33V739.74M1497.15 737.33h9.35M1497.15 739.74h9.35M1549.74 733.35V735.76M1545.07 733.35h9.35M1545.07 735.76h9.35M1597.66 731.02V733.43M1592.99 731.02h9.35M1592.99 733.43h9.35M1645.58 730.01V732.42M1640.9 730.01h9.35M1640.9 732.42h9.35M1664.75 728.16V729.77M1660.07 728.16h9.35M1660.07 729.77h9.35" stroke="#2ca02c" stroke-width="1.1" fill="none" opacity="0.8"/>
<polyline points="1367.65,818.25 1377.24,793.53 1386.82,779.06 1405.99,761.57 1453.91,746.49 1501.82,738.53 1549.74,734.55 1597.66,732.22 1645.58,731.22 1664.75,728.97" fill="none" stroke="#2ca02c" stroke-width="1.9" stroke-linejoin="round"/>
<circle cx="1367.65" cy="818.25" r="2.44" fill="#2ca02c"/>
<circle cx="1377.24" cy="793.53" r="2.44" fill="#2ca02c"/>
<circle cx="1386.82" cy="779.06" r="2.44" fill="#2ca02c"/>
<circle cx="1405.99" cy="761.57" r="2.44" fill="#2ca02c"/>
<circle cx="1453.91" cy="746.49" r="2.44" fill="#2ca02c"/>
<circle cx="1501.82" cy="738.53" r="2.44" fill="#2ca02c"/>
<circle cx="1549.74" cy="734.55" r="2.44" fill="#2ca02c"/>
<circle cx="1597.66" cy="732.22" r="2.44" fill="#2ca02c"/>
<circle cx="1645.58" cy="731.22" r="2.44" fill="#2ca02c"/>
<circle cx="1664.75" cy="728.97" r="2.44" fill="#2ca02c"/>
</g>
<path d="M1388 876.9H1417" stroke="#1f77b4" stroke-width="1.9" fill="none"/>
<path d="M1402.5 869.48V884.32M1397.42 869.48h10.16M1397.42 884.32h10.16" stroke="#1f77b4" stroke-width="1.1" fill="none" opacity="0.8"/>
<circle cx="1402.5" cy="876.9" r="2.64" fill="#1f77b4"/>
<text x="1427.5" y="882.08" font-size="14.22" text-anchor="start" fill="#222" font-family="DejaVu Sans, Liberation Sans, sans-serif" font-weight="normal" stroke="#222" stroke-width="0.25">KNN</text>
<path d="M1486.9 876.9H1516.1" stroke="#ff7f0e" stroke-width="1.9" fill="none"/>
<path d="M1501.5 869.48V884.32M1496.42 869.48h10.16M1496.42 884.32h10.16" stroke="#ff7f0e" stroke-width="1.1" fill="none" opacity="0.8"/>
<circle cx="1501.5" cy="876.9" r="2.64" fill="#ff7f0e"/>
<text x="1526" y="882.08" font-size="14.22" text-anchor="start" fill="#222" font-family="DejaVu Sans, Liberation Sans, sans-serif" font-weight="normal" stroke="#222" stroke-width="0.25">RF</text>
<path d="M1572.4 876.9H1601.7" stroke="#2ca02c" stroke-width="1.9" fill="none"/>
<path d="M1587.05 869.48V884.32M1581.97 869.48h10.16M1581.97 884.32h10.16" stroke="#2ca02c" stroke-width="1.1" fill="none" opacity="0.8"/>
<circle cx="1587.05" cy="876.9" r="2.64" fill="#2ca02c"/>
<text x="1612.7" y="882.08" font-size="14.22" text-anchor="start" fill="#222" font-family="DejaVu Sans, Liberation Sans, sans-serif" font-weight="normal" stroke="#222" stroke-width="0.25">SVM</text>
</g>
<g>
<rect x="128.9" y="976.4" width="324.6" height="199.6" fill="#fff" stroke="#999" stroke-width="1.2"/>
<path d="M143.65 1176v3.02 M153.17 1176v3.02 M162.69 1176v3.02 M181.73 1176v3.02 M229.33 1176v3.02 M276.92 1176v3.02 M324.52 1176v3.02 M372.11 1176v3.02 M419.71 1176v3.02 M438.75 1176v3.02 M125.88 1176h3.02 M125.88 1136.08h3.02 M125.88 1096.16h3.02 M125.88 1056.24h3.02 M125.88 1016.32h3.02 M125.88 976.4h3.02" stroke="#999" stroke-width="1" fill="none"/>
<text x="143.65" y="1191.6" font-size="14.11" text-anchor="middle" fill="#222" font-family="DejaVu Sans, Liberation Sans, sans-serif" font-weight="normal" stroke="#222" stroke-width="0.25">1</text>
<text x="153.17" y="1191.6" font-size="14.11" text-anchor="middle" fill="#222" font-family="DejaVu Sans, Liberation Sans, sans-serif" font-weight="normal" stroke="#222" stroke-width="0.25">2</text>
<text x="162.69" y="1191.6" font-size="14.11" text-anchor="middle" fill="#222" font-family="DejaVu Sans, Liberation Sans, sans-serif" font-weight="normal" stroke="#222" stroke-width="0.25">3</text>
<text x="181.73" y="1191.6" font-size="14.11" text-anchor="middle" fill="#222" font-family="DejaVu Sans, Liberation Sans, sans-serif" font-weight="normal" stroke="#222" stroke-width="0.25">5</text>
<text x="229.33" y="1191.6" font-size="14.11" text-anchor="middle" fill="#222" font-family="DejaVu Sans, Liberation Sans, sans-serif" font-weight="normal" stroke="#222" stroke-width="0.25">10</text>
<text x="276.92" y="1191.6" font-size="14.11" text-anchor="middle" fill="#222" font-family="DejaVu Sans, Liberation Sans, sans-serif" font-weight="normal" stroke="#222" stroke-width="0.25">15</text>
<text x="324.52" y="1191.6" font-size="14.11" text-anchor="middle" fill="#222" font-family="DejaVu Sans, Liberation Sans, sans-serif" font-weight="normal" stroke="#222" stroke-width="0.25">20</text>
<text x="372.11" y="1191.6" font-size="14.11" text-anchor="middle" fill="#222" font-family="DejaVu Sans, Liberation Sans, sans-serif" font-weight="normal" stroke="#222" stroke-width="0.25">25</text>
<text x="419.71" y="1191.6" font-size="14.11" text-anchor="middle" fill="#222" font-family="DejaVu Sans, Liberation Sans, sans-serif" font-weight="normal" stroke="#222" stroke-width="0.25">30</text>
<text x="438.75" y="1191.6" font-size="14.11" text-anchor="middle" fill="#222" font-family="DejaVu Sans, Liberation Sans, sans-serif" font-weight="normal" stroke="#222" stroke-width="0.25">32</text>
<text x="123.86" y="1181.14" font-size="14.11" text-anchor="end" fill="#222" font-family="DejaVu Sans, Liberation Sans, sans-serif" font-weight="normal" stroke="#222" stroke-width="0.25">0.5</text>
<text x="123.86" y="1141.22" font-size="14.11" text-anchor="end" fill="#222" font-family="DejaVu Sans, Liberation Sans, sans-serif" font-weight="normal" stroke="#222" stroke-width="0.25">0.6</text>
<text x="123.86" y="1101.3" font-size="14.11" text-anchor="end" fill="#222" font-family="DejaVu Sans, Liberation Sans, sans-serif" font-weight="normal" stroke="#222" stroke-width="0.25">0.7</text>
<text x="123.86" y="1061.38" font-size="14.11" text-anchor="end" fill="#222" font-family="DejaVu Sans, Liberation Sans, sans-serif" font-weight="normal" stroke="#222" stroke-width="0.25">0.8</text>
<text x="123.86" y="1021.46" font-size="14.11" text-anchor="end" fill="#222" font-family="DejaVu Sans, Liberation Sans, sans-serif" font-weight="normal" stroke="#222" stroke-width="0.25">0.9</text>
<text x="123.86" y="981.54" font-size="14.11" text-anchor="end" fill="#222" font-family="DejaVu Sans, Liberation Sans, sans-serif" font-weight="normal" stroke="#222" stroke-width="0.25">1.0</text>
<text x="291.2" y="971.87" font-size="14.11" text-anchor="middle" fill="#222" font-family="DejaVu Sans, Liberation Sans, sans-serif" font-weight="normal" stroke="#222" stroke-width="0.25">Accuracy with Standard Error Bars</text>
<text x="95.15" y="1076.2" font-size="15.11" text-anchor="middle" fill="#222" font-family="DejaVu Sans, Liberation Sans, sans-serif" stroke="#222" stroke-width="0.25" transform="rotate(-90 95.15 1076.2)">Accuracy</text>
<g clip-path="url(#clip_d00)">
<path d="M143.65 1140.59V1150.97M139.02 1140.59h9.27M139.02 1150.97h9.27M153.17 1113.13V1120.31M148.54 1113.13h9.27M148.54 1120.31h9.27M162.69 1091.89V1097.48M158.06 1091.89h9.27M158.06 1097.48h9.27M181.73 1070.29V1074.28M177.1 1070.29h9.27M177.1 1074.28h9.27M229.33 1048.22V1050.61M224.69 1048.22h9.27M224.69 1050.61h9.27M276.92 1040.31V1042.71M272.29 1040.31h9.27M272.29 1042.71h9.27M324.52 1036.12V1038.52M319.88 1036.12h9.27M319.88 1038.52h9.27M372.11 1034.2V1036.6M367.48 1034.2h9.27M367.48 1036.6h9.27M419.71 1028.81V1031.21M415.07 1028.81h9.27M415.07 1031.21h9.27M438.75 1024.62V1026.22M434.11 1024.62h9.27M434.11 1026.22h9.27" stroke="#1f77b4" stroke-width="1.1" fill="none" opacity="0.8"/>
<polyline points="143.65,1145.78 153.17,1116.72 162.69,1094.68 181.73,1072.29 229.33,1049.41 276.92,1041.51 324.52,1037.32 372.11,1035.4 419.71,1030.01 438.75,1025.42" fill="none" stroke="#1f77b4" stroke-width="1.9" stroke-linejoin="round"/>
<circle cx="143.65" cy="1145.78" r="2.42" fill="#1f77b4"/>
<circle cx="153.17" cy="1116.72" r="2.42" fill="#1f77b4"/>
<circle cx="162.69" cy="1094.68" r="2.42" fill="#1f77b4"/>
<circle cx="181.73" cy="1072.29" r="2.42" fill="#1f77b4"/>
<circle cx="229.33" cy="1049.41" r="2.42" fill="#1f77b4"/>
<circle cx="276.92" cy="1041.51" r="2.42" fill="#1f77b4"/>
<circle cx="324.52" cy="1037.32" r="2.42" fill="#1f77b4"/>
<circle cx="372.11" cy="1035.4" r="2.42" fill="#1f77b4"/>
<circle cx="419.71" cy="1030.01" r="2.42" fill="#1f77b4"/>
<circle cx="438.75" cy="1025.42" r="2.42" fill="#1f77b4"/>
<path d="M143.65 1123.43V1133.01M139.02 1123.43h9.27M139.02 1133.01h9.27M153.17 1098.2V1104.58M148.54 1098.2h9.27M148.54 1104.58h9.27M162.69 1082.65V1085.72M158.06 1082.65h9.27M158.06 1085.72h9.27M181.73 1063.92V1066.12M177.1 1063.92h9.27M177.1 1066.12h9.27M229.33 1041.85V1043.17M224.69 1041.85h9.27M224.69 1043.17h9.27M276.92 1033.39V1034.7M272.29 1033.39h9.27M272.29 1034.7h9.27M324.52 1029.35V1030.67M319.88 1029.35h9.27M319.88 1030.67h9.27M372.11 1027.44V1028.76M367.48 1027.44h9.27M367.48 1028.76h9.27M419.71 1025.52V1026.84M415.07 1025.52h9.27M415.07 1026.84h9.27M438.75 1024.06V1024.94M434.11 1024.06h9.27M434.11 1024.94h9.27" stroke="#ff7f0e" stroke-width="1.1" fill="none" opacity="0.8"/>
<polyline points="143.65,1128.22 153.17,1101.39 162.69,1084.18 181.73,1065.02 229.33,1042.51 276.92,1034.04 324.52,1030.01 372.11,1028.1 419.71,1026.18 438.75,1024.5" fill="none" stroke="#ff7f0e" stroke-width="1.9" stroke-linejoin="round"/>
<circle cx="143.65" cy="1128.22" r="2.42" fill="#ff7f0e"/>
<circle cx="153.17" cy="1101.39" r="2.42" fill="#ff7f0e"/>
<circle cx="162.69" cy="1084.18" r="2.42" fill="#ff7f0e"/>
<circle cx="181.73" cy="1065.02" r="2.42" fill="#ff7f0e"/>
<circle cx="229.33" cy="1042.51" r="2.42" fill="#ff7f0e"/>
<circle cx="276.92" cy="1034.04" r="2.42" fill="#ff7f0e"/>
<circle cx="324.52" cy="1030.01" r="2.42" fill="#ff7f0e"/>
<circle cx="372.11" cy="1028.1" r="2.42" fill="#ff7f0e"/>
<circle cx="419.71" cy="1026.18" r="2.42" fill="#ff7f0e"/>
<circle cx="438.75" cy="1024.5" r="2.42" fill="#ff7f0e"/>
<path d="M143.65 1132.21V1142.59M139.02 1132.21h9.27M139.02 1142.59h9.27M153.17 1117.32V1124.5M148.54 1117.32h9.27M148.54 1124.5h9.27M162.69 1102.03V1107.62M158.06 1102.03h9.27M158.06 1107.62h9.27M181.73 1081.63V1085.62M177.1 1081.63h9.27M177.1 1085.62h9.27M229.33 1057.2V1059.59M224.69 1057.2h9.27M224.69 1059.59h9.27M276.92 1046.62V1049.01M272.29 1046.62h9.27M272.29 1049.01h9.27M324.52 1039.91V1042.31M319.88 1039.91h9.27M319.88 1042.31h9.27M372.11 1036.52V1038.91M367.48 1036.52h9.27M367.48 1038.91h9.27M419.71 1033.61V1036M415.07 1033.61h9.27M415.07 1036h9.27M438.75 1031.29V1032.89M434.11 1031.29h9.27M434.11 1032.89h9.27" stroke="#2ca02c" stroke-width="1.1" fill="none" opacity="0.8"/>
<polyline points="143.65,1137.4 153.17,1120.91 162.69,1104.82 181.73,1083.63 229.33,1058.4 276.92,1047.82 324.52,1041.11 372.11,1037.72 419.71,1034.8 438.75,1032.09" fill="none" stroke="#2ca02c" stroke-width="1.9" stroke-linejoin="round"/>
<circle cx="143.65" cy="1137.4" r="2.42" fill="#2ca02c"/>
<circle cx="153.17" cy="1120.91" r="2.42" fill="#2ca02c"/>
<circle cx="162.69" cy="1104.82" r="2.42" fill="#2ca02c"/>
<circle cx="181.73" cy="1083.63" r="2.42" fill="#2ca02c"/>
<circle cx="229.33" cy="1058.4" r="2.42" fill="#2ca02c"/>
<circle cx="276.92" cy="1047.82" r="2.42" fill="#2ca02c"/>
<circle cx="324.52" cy="1041.11" r="2.42" fill="#2ca02c"/>
<circle cx="372.11" cy="1037.72" r="2.42" fill="#2ca02c"/>
<circle cx="419.71" cy="1034.8" r="2.42" fill="#2ca02c"/>
<circle cx="438.75" cy="1032.09" r="2.42" fill="#2ca02c"/>
</g>
</g>
<g>
<rect x="506.2" y="976.4" width="325.2" height="199.6" fill="#fff" stroke="#999" stroke-width="1.2"/>
<path d="M520.98 1176v3.02 M530.52 1176v3.02 M540.06 1176v3.02 M559.13 1176v3.02 M606.81 1176v3.02 M654.5 1176v3.02 M702.18 1176v3.02 M749.86 1176v3.02 M797.54 1176v3.02 M816.62 1176v3.02 M503.18 1176h3.02 M503.18 1136.08h3.02 M503.18 1096.16h3.02 M503.18 1056.24h3.02 M503.18 1016.32h3.02 M503.18 976.4h3.02" stroke="#999" stroke-width="1" fill="none"/>
<text x="520.98" y="1191.6" font-size="14.11" text-anchor="middle" fill="#222" font-family="DejaVu Sans, Liberation Sans, sans-serif" font-weight="normal" stroke="#222" stroke-width="0.25">1</text>
<text x="530.52" y="1191.6" font-size="14.11" text-anchor="middle" fill="#222" font-family="DejaVu Sans, Liberation Sans, sans-serif" font-weight="normal" stroke="#222" stroke-width="0.25">2</text>
<text x="540.06" y="1191.6" font-size="14.11" text-anchor="middle" fill="#222" font-family="DejaVu Sans, Liberation Sans, sans-serif" font-weight="normal" stroke="#222" stroke-width="0.25">3</text>
<text x="559.13" y="1191.6" font-size="14.11" text-anchor="middle" fill="#222" font-family="DejaVu Sans, Liberation Sans, sans-serif" font-weight="normal" stroke="#222" stroke-width="0.25">5</text>
<text x="606.81" y="1191.6" font-size="14.11" text-anchor="middle" fill="#222" font-family="DejaVu Sans, Liberation Sans, sans-serif" font-weight="normal" stroke="#222" stroke-width="0.25">10</text>
<text x="654.5" y="1191.6" font-size="14.11" text-anchor="middle" fill="#222" font-family="DejaVu Sans, Liberation Sans, sans-serif" font-weight="normal" stroke="#222" stroke-width="0.25">15</text>
<text x="702.18" y="1191.6" font-size="14.11" text-anchor="middle" fill="#222" font-family="DejaVu Sans, Liberation Sans, sans-serif" font-weight="normal" stroke="#222" stroke-width="0.25">20</text>
<text x="749.86" y="1191.6" font-size="14.11" text-anchor="middle" fill="#222" font-family="DejaVu Sans, Liberation Sans, sans-serif" font-weight="normal" stroke="#222" stroke-width="0.25">25</text>
<text x="797.54" y="1191.6" font-size="14.11" text-anchor="middle" fill="#222" font-family="DejaVu Sans, Liberation Sans, sans-serif" font-weight="normal" stroke="#222" stroke-width="0.25">30</text>
<text x="816.62" y="1191.6" font-size="14.11" text-anchor="middle" fill="#222" font-family="DejaVu Sans, Liberation Sans, sans-serif" font-weight="normal" stroke="#222" stroke-width="0.25">32</text>
<text x="501.16" y="1181.14" font-size="14.11" text-anchor="end" fill="#222" font-family="DejaVu Sans, Liberation Sans, sans-serif" font-weight="normal" stroke="#222" stroke-width="0.25">0.5</text>
<text x="501.16" y="1141.22" font-size="14.11" text-anchor="end" fill="#222" font-family="DejaVu Sans, Liberation Sans, sans-serif" font-weight="normal" stroke="#222" stroke-width="0.25">0.6</text>
<text x="501.16" y="1101.3" font-size="14.11" text-anchor="end" fill="#222" font-family="DejaVu Sans, Liberation Sans, sans-serif" font-weight="normal" stroke="#222" stroke-width="0.25">0.7</text>
<text x="501.16" y="1061.38" font-size="14.11" text-anchor="end" fill="#222" font-family="DejaVu Sans, Liberation Sans, sans-serif" font-weight="normal" stroke="#222" stroke-width="0.25">0.8</text>
<text x="501.16" y="1021.46" font-size="14.11" text-anchor="end" fill="#222" font-family="DejaVu Sans, Liberation Sans, sans-serif" font-weight="normal" stroke="#222" stroke-width="0.25">0.9</text>
<text x="501.16" y="981.54" font-size="14.11" text-anchor="end" fill="#222" font-family="DejaVu Sans, Liberation Sans, sans-serif" font-weight="normal" stroke="#222" stroke-width="0.25">1.0</text>
<text x="668.8" y="971.87" font-size="14.11" text-anchor="middle" fill="#222" font-family="DejaVu Sans, Liberation Sans, sans-serif" font-weight="normal" stroke="#222" stroke-width="0.25">Precision with Standard Error Bars</text>
<text x="474.46" y="1076.2" font-size="15.11" text-anchor="middle" fill="#222" font-family="DejaVu Sans, Liberation Sans, sans-serif" stroke="#222" stroke-width="0.25" transform="rotate(-90 474.46 1076.2)">Precision</text>
<g clip-path="url(#clip_d10)">
<path d="M520.98 1106.7V1117.08M516.35 1106.7h9.27M516.35 1117.08h9.27M530.52 1095.92V1103.11M525.88 1095.92h9.27M525.88 1103.11h9.27M540.06 1084.18V1089.77M535.42 1084.18h9.27M535.42 1089.77h9.27M559.13 1068.81V1072.81M554.49 1068.81h9.27M554.49 1072.81h9.27M606.81 1046.62V1049.01M602.18 1046.62h9.27M602.18 1049.01h9.27M654.5 1038.6V1040.99M649.86 1038.6h9.27M649.86 1040.99h9.27M702.18 1034.6V1037M697.54 1034.6h9.27M697.54 1037h9.27M749.86 1032.69V1035.08M745.23 1032.69h9.27M745.23 1035.08h9.27M797.54 1027.5V1029.89M792.91 1027.5h9.27M792.91 1029.89h9.27M816.62 1024.1V1025.7M811.98 1024.1h9.27M811.98 1025.7h9.27" stroke="#1f77b4" stroke-width="1.1" fill="none" opacity="0.8"/>
<polyline points="520.98,1111.89 530.52,1099.51 540.06,1086.98 559.13,1070.81 606.81,1047.82 654.5,1039.79 702.18,1035.8 749.86,1033.88 797.54,1028.7 816.62,1024.9" fill="none" stroke="#1f77b4" stroke-width="1.9" stroke-linejoin="round"/>
<circle cx="520.98" cy="1111.89" r="2.42" fill="#1f77b4"/>
<circle cx="530.52" cy="1099.51" r="2.42" fill="#1f77b4"/>
<circle cx="540.06" cy="1086.98" r="2.42" fill="#1f77b4"/>
<circle cx="559.13" cy="1070.81" r="2.42" fill="#1f77b4"/>
<circle cx="606.81" cy="1047.82" r="2.42" fill="#1f77b4"/>
<circle cx="654.5" cy="1039.79" r="2.42" fill="#1f77b4"/>
<circle cx="702.18" cy="1035.8" r="2.42" fill="#1f77b4"/>
<circle cx="749.86" cy="1033.88" r="2.42" fill="#1f77b4"/>
<circle cx="797.54" cy="1028.7" r="2.42" fill="#1f77b4"/>
<circle cx="816.62" cy="1024.9" r="2.42" fill="#1f77b4"/>
<path d="M520.98 1112.93V1122.51M516.35 1112.93h9.27M516.35 1122.51h9.27M530.52 1094.4V1100.79M525.88 1094.4h9.27M525.88 1100.79h9.27M540.06 1080.37V1083.45M535.42 1080.37h9.27M535.42 1083.45h9.27M559.13 1062.41V1064.6M554.49 1062.41h9.27M554.49 1064.6h9.27M606.81 1041.05V1042.37M602.18 1041.05h9.27M602.18 1042.37h9.27M654.5 1032.83V1034.14M649.86 1032.83h9.27M649.86 1034.14h9.27M702.18 1028.44V1029.75M697.54 1028.44h9.27M697.54 1029.75h9.27M749.86 1026.56V1027.88M745.23 1026.56h9.27M745.23 1027.88h9.27M797.54 1024.64V1025.96M792.91 1024.64h9.27M792.91 1025.96h9.27M816.62 1023.47V1024.34M811.98 1023.47h9.27M811.98 1024.34h9.27" stroke="#ff7f0e" stroke-width="1.1" fill="none" opacity="0.8"/>
<polyline points="520.98,1117.72 530.52,1097.6 540.06,1081.91 559.13,1063.51 606.81,1041.71 654.5,1033.49 702.18,1029.09 749.86,1027.22 797.54,1025.3 816.62,1023.9" fill="none" stroke="#ff7f0e" stroke-width="1.9" stroke-linejoin="round"/>
<circle cx="520.98" cy="1117.72" r="2.42" fill="#ff7f0e"/>
<circle cx="530.52" cy="1097.6" r="2.42" fill="#ff7f0e"/>
<circle cx="540.06" cy="1081.91" r="2.42" fill="#ff7f0e"/>
<circle cx="559.13" cy="1063.51" r="2.42" fill="#ff7f0e"/>
<circle cx="606.81" cy="1041.71" r="2.42" fill="#ff7f0e"/>
<circle cx="654.5" cy="1033.49" r="2.42" fill="#ff7f0e"/>
<circle cx="702.18" cy="1029.09" r="2.42" fill="#ff7f0e"/>
<circle cx="749.86" cy="1027.22" r="2.42" fill="#ff7f0e"/>
<circle cx="797.54" cy="1025.3" r="2.42" fill="#ff7f0e"/>
<circle cx="816.62" cy="1023.9" r="2.42" fill="#ff7f0e"/>
<path d="M520.98 1121.11V1131.49M516.35 1121.11h9.27M516.35 1131.49h9.27M530.52 1113.53V1120.71M525.88 1113.53h9.27M525.88 1120.71h9.27M540.06 1099.91V1105.5M535.42 1099.91h9.27M535.42 1105.5h9.27M559.13 1080.31V1084.3M554.49 1080.31h9.27M554.49 1084.3h9.27M606.81 1056.2V1058.6M602.18 1056.2h9.27M602.18 1058.6h9.27M654.5 1045.7V1048.1M649.86 1045.7h9.27M649.86 1048.1h9.27M702.18 1038.99V1041.39M697.54 1038.99h9.27M697.54 1041.39h9.27M749.86 1036.12V1038.52M745.23 1036.12h9.27M745.23 1038.52h9.27M797.54 1032.89V1035.28M792.91 1032.89h9.27M792.91 1035.28h9.27M816.62 1030.81V1032.41M811.98 1030.81h9.27M811.98 1032.41h9.27" stroke="#2ca02c" stroke-width="1.1" fill="none" opacity="0.8"/>
<polyline points="520.98,1126.3 530.52,1117.12 540.06,1102.71 559.13,1082.31 606.81,1057.4 654.5,1046.9 702.18,1040.19 749.86,1037.32 797.54,1034.08 816.62,1031.61" fill="none" stroke="#2ca02c" stroke-width="1.9" stroke-linejoin="round"/>
<circle cx="520.98" cy="1126.3" r="2.42" fill="#2ca02c"/>
<circle cx="530.52" cy="1117.12" r="2.42" fill="#2ca02c"/>
<circle cx="540.06" cy="1102.71" r="2.42" fill="#2ca02c"/>
<circle cx="559.13" cy="1082.31" r="2.42" fill="#2ca02c"/>
<circle cx="606.81" cy="1057.4" r="2.42" fill="#2ca02c"/>
<circle cx="654.5" cy="1046.9" r="2.42" fill="#2ca02c"/>
<circle cx="702.18" cy="1040.19" r="2.42" fill="#2ca02c"/>
<circle cx="749.86" cy="1037.32" r="2.42" fill="#2ca02c"/>
<circle cx="797.54" cy="1034.08" r="2.42" fill="#2ca02c"/>
<circle cx="816.62" cy="1031.61" r="2.42" fill="#2ca02c"/>
</g>
</g>
<g>
<rect x="128.9" y="1218.3" width="324.6" height="200" fill="#fff" stroke="#999" stroke-width="1.2"/>
<path d="M143.65 1418.3v3.02 M153.17 1418.3v3.02 M162.69 1418.3v3.02 M181.73 1418.3v3.02 M229.33 1418.3v3.02 M276.92 1418.3v3.02 M324.52 1418.3v3.02 M372.11 1418.3v3.02 M419.71 1418.3v3.02 M438.75 1418.3v3.02 M125.88 1418.3h3.02 M125.88 1378.3h3.02 M125.88 1338.3h3.02 M125.88 1298.3h3.02 M125.88 1258.3h3.02 M125.88 1218.3h3.02" stroke="#999" stroke-width="1" fill="none"/>
<text x="143.65" y="1433.9" font-size="14.11" text-anchor="middle" fill="#222" font-family="DejaVu Sans, Liberation Sans, sans-serif" font-weight="normal" stroke="#222" stroke-width="0.25">1</text>
<text x="153.17" y="1433.9" font-size="14.11" text-anchor="middle" fill="#222" font-family="DejaVu Sans, Liberation Sans, sans-serif" font-weight="normal" stroke="#222" stroke-width="0.25">2</text>
<text x="162.69" y="1433.9" font-size="14.11" text-anchor="middle" fill="#222" font-family="DejaVu Sans, Liberation Sans, sans-serif" font-weight="normal" stroke="#222" stroke-width="0.25">3</text>
<text x="181.73" y="1433.9" font-size="14.11" text-anchor="middle" fill="#222" font-family="DejaVu Sans, Liberation Sans, sans-serif" font-weight="normal" stroke="#222" stroke-width="0.25">5</text>
<text x="229.33" y="1433.9" font-size="14.11" text-anchor="middle" fill="#222" font-family="DejaVu Sans, Liberation Sans, sans-serif" font-weight="normal" stroke="#222" stroke-width="0.25">10</text>
<text x="276.92" y="1433.9" font-size="14.11" text-anchor="middle" fill="#222" font-family="DejaVu Sans, Liberation Sans, sans-serif" font-weight="normal" stroke="#222" stroke-width="0.25">15</text>
<text x="324.52" y="1433.9" font-size="14.11" text-anchor="middle" fill="#222" font-family="DejaVu Sans, Liberation Sans, sans-serif" font-weight="normal" stroke="#222" stroke-width="0.25">20</text>
<text x="372.11" y="1433.9" font-size="14.11" text-anchor="middle" fill="#222" font-family="DejaVu Sans, Liberation Sans, sans-serif" font-weight="normal" stroke="#222" stroke-width="0.25">25</text>
<text x="419.71" y="1433.9" font-size="14.11" text-anchor="middle" fill="#222" font-family="DejaVu Sans, Liberation Sans, sans-serif" font-weight="normal" stroke="#222" stroke-width="0.25">30</text>
<text x="438.75" y="1433.9" font-size="14.11" text-anchor="middle" fill="#222" font-family="DejaVu Sans, Liberation Sans, sans-serif" font-weight="normal" stroke="#222" stroke-width="0.25">32</text>
<text x="123.86" y="1423.44" font-size="14.11" text-anchor="end" fill="#222" font-family="DejaVu Sans, Liberation Sans, sans-serif" font-weight="normal" stroke="#222" stroke-width="0.25">0.5</text>
<text x="123.86" y="1383.44" font-size="14.11" text-anchor="end" fill="#222" font-family="DejaVu Sans, Liberation Sans, sans-serif" font-weight="normal" stroke="#222" stroke-width="0.25">0.6</text>
<text x="123.86" y="1343.44" font-size="14.11" text-anchor="end" fill="#222" font-family="DejaVu Sans, Liberation Sans, sans-serif" font-weight="normal" stroke="#222" stroke-width="0.25">0.7</text>
<text x="123.86" y="1303.44" font-size="14.11" text-anchor="end" fill="#222" font-family="DejaVu Sans, Liberation Sans, sans-serif" font-weight="normal" stroke="#222" stroke-width="0.25">0.8</text>
<text x="123.86" y="1263.44" font-size="14.11" text-anchor="end" fill="#222" font-family="DejaVu Sans, Liberation Sans, sans-serif" font-weight="normal" stroke="#222" stroke-width="0.25">0.9</text>
<text x="123.86" y="1223.44" font-size="14.11" text-anchor="end" fill="#222" font-family="DejaVu Sans, Liberation Sans, sans-serif" font-weight="normal" stroke="#222" stroke-width="0.25">1.0</text>
<text x="291.2" y="1213.77" font-size="14.11" text-anchor="middle" fill="#222" font-family="DejaVu Sans, Liberation Sans, sans-serif" font-weight="normal" stroke="#222" stroke-width="0.25">Recall with Standard Error Bars</text>
<text x="96.66" y="1318.3" font-size="15.11" text-anchor="middle" fill="#222" font-family="DejaVu Sans, Liberation Sans, sans-serif" stroke="#222" stroke-width="0.25" transform="rotate(-90 96.66 1318.3)">Recall</text>
<text x="291.2" y="1450.9" font-size="14.11" text-anchor="middle" fill="#222" font-family="DejaVu Sans, Liberation Sans, sans-serif" font-weight="normal" stroke="#222" stroke-width="0.25">Combination Size</text>
<g clip-path="url(#clip_d01)">
<path d="M143.65 1382.82V1393.22M139.02 1382.82h9.27M139.02 1393.22h9.27M153.17 1355.3V1362.5M148.54 1355.3h9.27M148.54 1362.5h9.27M162.69 1334.02V1339.62M158.06 1334.02h9.27M158.06 1339.62h9.27M181.73 1312.38V1316.38M177.1 1312.38h9.27M177.1 1316.38h9.27M229.33 1290.26V1292.66M224.69 1290.26h9.27M224.69 1292.66h9.27M276.92 1282.34V1284.74M272.29 1282.34h9.27M272.29 1284.74h9.27M324.52 1278.14V1280.54M319.88 1278.14h9.27M319.88 1280.54h9.27M372.11 1276.22V1278.62M367.48 1276.22h9.27M367.48 1278.62h9.27M419.71 1270.82V1273.22M415.07 1270.82h9.27M415.07 1273.22h9.27M438.75 1266.62V1268.22M434.11 1266.62h9.27M434.11 1268.22h9.27" stroke="#1f77b4" stroke-width="1.1" fill="none" opacity="0.8"/>
<polyline points="143.65,1388.02 153.17,1358.9 162.69,1336.82 181.73,1314.38 229.33,1291.46 276.92,1283.54 324.52,1279.34 372.11,1277.42 419.71,1272.02 438.75,1267.42" fill="none" stroke="#1f77b4" stroke-width="1.9" stroke-linejoin="round"/>
<circle cx="143.65" cy="1388.02" r="2.42" fill="#1f77b4"/>
<circle cx="153.17" cy="1358.9" r="2.42" fill="#1f77b4"/>
<circle cx="162.69" cy="1336.82" r="2.42" fill="#1f77b4"/>
<circle cx="181.73" cy="1314.38" r="2.42" fill="#1f77b4"/>
<circle cx="229.33" cy="1291.46" r="2.42" fill="#1f77b4"/>
<circle cx="276.92" cy="1283.54" r="2.42" fill="#1f77b4"/>
<circle cx="324.52" cy="1279.34" r="2.42" fill="#1f77b4"/>
<circle cx="372.11" cy="1277.42" r="2.42" fill="#1f77b4"/>
<circle cx="419.71" cy="1272.02" r="2.42" fill="#1f77b4"/>
<circle cx="438.75" cy="1267.42" r="2.42" fill="#1f77b4"/>
<path d="M143.65 1365.62V1375.22M139.02 1365.62h9.27M139.02 1375.22h9.27M153.17 1340.34V1346.74M148.54 1340.34h9.27M148.54 1346.74h9.27M162.69 1324.76V1327.84M158.06 1324.76h9.27M158.06 1327.84h9.27M181.73 1306V1308.2M177.1 1306h9.27M177.1 1308.2h9.27M229.33 1283.88V1285.2M224.69 1283.88h9.27M224.69 1285.2h9.27M276.92 1275.4V1276.72M272.29 1275.4h9.27M272.29 1276.72h9.27M324.52 1271.36V1272.68M319.88 1271.36h9.27M319.88 1272.68h9.27M372.11 1269.44V1270.76M367.48 1269.44h9.27M367.48 1270.76h9.27M419.71 1267.52V1268.84M415.07 1267.52h9.27M415.07 1268.84h9.27M438.75 1266.06V1266.94M434.11 1266.06h9.27M434.11 1266.94h9.27" stroke="#ff7f0e" stroke-width="1.1" fill="none" opacity="0.8"/>
<polyline points="143.65,1370.42 153.17,1343.54 162.69,1326.3 181.73,1307.1 229.33,1284.54 276.92,1276.06 324.52,1272.02 372.11,1270.1 419.71,1268.18 438.75,1266.5" fill="none" stroke="#ff7f0e" stroke-width="1.9" stroke-linejoin="round"/>
<circle cx="143.65" cy="1370.42" r="2.42" fill="#ff7f0e"/>
<circle cx="153.17" cy="1343.54" r="2.42" fill="#ff7f0e"/>
<circle cx="162.69" cy="1326.3" r="2.42" fill="#ff7f0e"/>
<circle cx="181.73" cy="1307.1" r="2.42" fill="#ff7f0e"/>
<circle cx="229.33" cy="1284.54" r="2.42" fill="#ff7f0e"/>
<circle cx="276.92" cy="1276.06" r="2.42" fill="#ff7f0e"/>
<circle cx="324.52" cy="1272.02" r="2.42" fill="#ff7f0e"/>
<circle cx="372.11" cy="1270.1" r="2.42" fill="#ff7f0e"/>
<circle cx="419.71" cy="1268.18" r="2.42" fill="#ff7f0e"/>
<circle cx="438.75" cy="1266.5" r="2.42" fill="#ff7f0e"/>
<path d="M143.65 1374.42V1384.82M139.02 1374.42h9.27M139.02 1384.82h9.27M153.17 1359.5V1366.7M148.54 1359.5h9.27M148.54 1366.7h9.27M162.69 1344.18V1349.78M158.06 1344.18h9.27M158.06 1349.78h9.27M181.73 1323.74V1327.74M177.1 1323.74h9.27M177.1 1327.74h9.27M229.33 1299.26V1301.66M224.69 1299.26h9.27M224.69 1301.66h9.27M276.92 1288.66V1291.06M272.29 1288.66h9.27M272.29 1291.06h9.27M324.52 1281.94V1284.34M319.88 1281.94h9.27M319.88 1284.34h9.27M372.11 1278.54V1280.94M367.48 1278.54h9.27M367.48 1280.94h9.27M419.71 1275.62V1278.02M415.07 1275.62h9.27M415.07 1278.02h9.27M438.75 1273.3V1274.9M434.11 1273.3h9.27M434.11 1274.9h9.27" stroke="#2ca02c" stroke-width="1.1" fill="none" opacity="0.8"/>
<polyline points="143.65,1379.62 153.17,1363.1 162.69,1346.98 181.73,1325.74 229.33,1300.46 276.92,1289.86 324.52,1283.14 372.11,1279.74 419.71,1276.82 438.75,1274.1" fill="none" stroke="#2ca02c" stroke-width="1.9" stroke-linejoin="round"/>
<circle cx="143.65" cy="1379.62" r="2.42" fill="#2ca02c"/>
<circle cx="153.17" cy="1363.1" r="2.42" fill="#2ca02c"/>
<circle cx="162.69" cy="1346.98" r="2.42" fill="#2ca02c"/>
<circle cx="181.73" cy="1325.74" r="2.42" fill="#2ca02c"/>
<circle cx="229.33" cy="1300.46" r="2.42" fill="#2ca02c"/>
<circle cx="276.92" cy="1289.86" r="2.42" fill="#2ca02c"/>
<circle cx="324.52" cy="1283.14" r="2.42" fill="#2ca02c"/>
<circle cx="372.11" cy="1279.74" r="2.42" fill="#2ca02c"/>
<circle cx="419.71" cy="1276.82" r="2.42" fill="#2ca02c"/>
<circle cx="438.75" cy="1274.1" r="2.42" fill="#2ca02c"/>
</g>
</g>
<g>
<rect x="506.2" y="1218.3" width="325.2" height="200" fill="#fff" stroke="#999" stroke-width="1.2"/>
<path d="M520.98 1418.3v3.02 M530.52 1418.3v3.02 M540.06 1418.3v3.02 M559.13 1418.3v3.02 M606.81 1418.3v3.02 M654.5 1418.3v3.02 M702.18 1418.3v3.02 M749.86 1418.3v3.02 M797.54 1418.3v3.02 M816.62 1418.3v3.02 M503.18 1418.3h3.02 M503.18 1378.3h3.02 M503.18 1338.3h3.02 M503.18 1298.3h3.02 M503.18 1258.3h3.02 M503.18 1218.3h3.02" stroke="#999" stroke-width="1" fill="none"/>
<text x="520.98" y="1433.9" font-size="14.11" text-anchor="middle" fill="#222" font-family="DejaVu Sans, Liberation Sans, sans-serif" font-weight="normal" stroke="#222" stroke-width="0.25">1</text>
<text x="530.52" y="1433.9" font-size="14.11" text-anchor="middle" fill="#222" font-family="DejaVu Sans, Liberation Sans, sans-serif" font-weight="normal" stroke="#222" stroke-width="0.25">2</text>
<text x="540.06" y="1433.9" font-size="14.11" text-anchor="middle" fill="#222" font-family="DejaVu Sans, Liberation Sans, sans-serif" font-weight="normal" stroke="#222" stroke-width="0.25">3</text>
<text x="559.13" y="1433.9" font-size="14.11" text-anchor="middle" fill="#222" font-family="DejaVu Sans, Liberation Sans, sans-serif" font-weight="normal" stroke="#222" stroke-width="0.25">5</text>
<text x="606.81" y="1433.9" font-size="14.11" text-anchor="middle" fill="#222" font-family="DejaVu Sans, Liberation Sans, sans-serif" font-weight="normal" stroke="#222" stroke-width="0.25">10</text>
<text x="654.5" y="1433.9" font-size="14.11" text-anchor="middle" fill="#222" font-family="DejaVu Sans, Liberation Sans, sans-serif" font-weight="normal" stroke="#222" stroke-width="0.25">15</text>
<text x="702.18" y="1433.9" font-size="14.11" text-anchor="middle" fill="#222" font-family="DejaVu Sans, Liberation Sans, sans-serif" font-weight="normal" stroke="#222" stroke-width="0.25">20</text>
<text x="749.86" y="1433.9" font-size="14.11" text-anchor="middle" fill="#222" font-family="DejaVu Sans, Liberation Sans, sans-serif" font-weight="normal" stroke="#222" stroke-width="0.25">25</text>
<text x="797.54" y="1433.9" font-size="14.11" text-anchor="middle" fill="#222" font-family="DejaVu Sans, Liberation Sans, sans-serif" font-weight="normal" stroke="#222" stroke-width="0.25">30</text>
<text x="816.62" y="1433.9" font-size="14.11" text-anchor="middle" fill="#222" font-family="DejaVu Sans, Liberation Sans, sans-serif" font-weight="normal" stroke="#222" stroke-width="0.25">32</text>
<text x="501.16" y="1423.44" font-size="14.11" text-anchor="end" fill="#222" font-family="DejaVu Sans, Liberation Sans, sans-serif" font-weight="normal" stroke="#222" stroke-width="0.25">0.5</text>
<text x="501.16" y="1383.44" font-size="14.11" text-anchor="end" fill="#222" font-family="DejaVu Sans, Liberation Sans, sans-serif" font-weight="normal" stroke="#222" stroke-width="0.25">0.6</text>
<text x="501.16" y="1343.44" font-size="14.11" text-anchor="end" fill="#222" font-family="DejaVu Sans, Liberation Sans, sans-serif" font-weight="normal" stroke="#222" stroke-width="0.25">0.7</text>
<text x="501.16" y="1303.44" font-size="14.11" text-anchor="end" fill="#222" font-family="DejaVu Sans, Liberation Sans, sans-serif" font-weight="normal" stroke="#222" stroke-width="0.25">0.8</text>
<text x="501.16" y="1263.44" font-size="14.11" text-anchor="end" fill="#222" font-family="DejaVu Sans, Liberation Sans, sans-serif" font-weight="normal" stroke="#222" stroke-width="0.25">0.9</text>
<text x="501.16" y="1223.44" font-size="14.11" text-anchor="end" fill="#222" font-family="DejaVu Sans, Liberation Sans, sans-serif" font-weight="normal" stroke="#222" stroke-width="0.25">1.0</text>
<text x="668.8" y="1213.77" font-size="14.11" text-anchor="middle" fill="#222" font-family="DejaVu Sans, Liberation Sans, sans-serif" font-weight="normal" stroke="#222" stroke-width="0.25">F1 with Standard Error Bars</text>
<text x="473.96" y="1318.3" font-size="15.11" text-anchor="middle" fill="#222" font-family="DejaVu Sans, Liberation Sans, sans-serif" stroke="#222" stroke-width="0.25" transform="rotate(-90 473.96 1318.3)">F1</text>
<text x="668.8" y="1450.9" font-size="14.11" text-anchor="middle" fill="#222" font-family="DejaVu Sans, Liberation Sans, sans-serif" font-weight="normal" stroke="#222" stroke-width="0.25">Combination Size</text>
<g clip-path="url(#clip_d11)">
<path d="M520.98 1408.9V1428.9M516.35 1408.9h9.27M516.35 1428.9h9.27M530.52 1368.38V1375.58M525.88 1368.38h9.27M525.88 1375.58h9.27M540.06 1339.5V1345.1M535.42 1339.5h9.27M535.42 1345.1h9.27M559.13 1312.58V1316.58M554.49 1312.58h9.27M554.49 1316.58h9.27M606.81 1290.5V1292.9M602.18 1290.5h9.27M602.18 1292.9h9.27M654.5 1282.78V1285.18M649.86 1282.78h9.27M649.86 1285.18h9.27M702.18 1278.98V1281.38M697.54 1278.98h9.27M697.54 1281.38h9.27M749.86 1276.5V1278.9M745.23 1276.5h9.27M745.23 1278.9h9.27M797.54 1271.3V1273.7M792.91 1271.3h9.27M792.91 1273.7h9.27M816.62 1266.9V1268.5M811.98 1266.9h9.27M811.98 1268.5h9.27" stroke="#1f77b4" stroke-width="1.1" fill="none" opacity="0.8"/>
<polyline points="520.98,1418.9 530.52,1371.98 540.06,1342.3 559.13,1314.58 606.81,1291.7 654.5,1283.98 702.18,1280.18 749.86,1277.7 797.54,1272.5 816.62,1267.7" fill="none" stroke="#1f77b4" stroke-width="1.9" stroke-linejoin="round"/>
<circle cx="520.98" cy="1418.9" r="2.42" fill="#1f77b4"/>
<circle cx="530.52" cy="1371.98" r="2.42" fill="#1f77b4"/>
<circle cx="540.06" cy="1342.3" r="2.42" fill="#1f77b4"/>
<circle cx="559.13" cy="1314.58" r="2.42" fill="#1f77b4"/>
<circle cx="606.81" cy="1291.7" r="2.42" fill="#1f77b4"/>
<circle cx="654.5" cy="1283.98" r="2.42" fill="#1f77b4"/>
<circle cx="702.18" cy="1280.18" r="2.42" fill="#1f77b4"/>
<circle cx="749.86" cy="1277.7" r="2.42" fill="#1f77b4"/>
<circle cx="797.54" cy="1272.5" r="2.42" fill="#1f77b4"/>
<circle cx="816.62" cy="1267.7" r="2.42" fill="#1f77b4"/>
<path d="M520.98 1376.38V1392.38M516.35 1376.38h9.27M516.35 1392.38h9.27M530.52 1343.1V1349.5M525.88 1343.1h9.27M525.88 1349.5h9.27M540.06 1324.96V1328.04M535.42 1324.96h9.27M535.42 1328.04h9.27M559.13 1306V1308.2M554.49 1306h9.27M554.49 1308.2h9.27M606.81 1284.64V1285.96M602.18 1284.64h9.27M602.18 1285.96h9.27M654.5 1275.32V1276.64M649.86 1275.32h9.27M649.86 1276.64h9.27M702.18 1271.44V1272.76M697.54 1271.44h9.27M697.54 1272.76h9.27M749.86 1269.32V1270.64M745.23 1269.32h9.27M745.23 1270.64h9.27M797.54 1267.64V1268.96M792.91 1267.64h9.27M792.91 1268.96h9.27M816.62 1265.74V1266.62M811.98 1265.74h9.27M811.98 1266.62h9.27" stroke="#ff7f0e" stroke-width="1.1" fill="none" opacity="0.8"/>
<polyline points="520.98,1384.38 530.52,1346.3 540.06,1326.5 559.13,1307.1 606.81,1285.3 654.5,1275.98 702.18,1272.1 749.86,1269.98 797.54,1268.3 816.62,1266.18" fill="none" stroke="#ff7f0e" stroke-width="1.9" stroke-linejoin="round"/>
<circle cx="520.98" cy="1384.38" r="2.42" fill="#ff7f0e"/>
<circle cx="530.52" cy="1346.3" r="2.42" fill="#ff7f0e"/>
<circle cx="540.06" cy="1326.5" r="2.42" fill="#ff7f0e"/>
<circle cx="559.13" cy="1307.1" r="2.42" fill="#ff7f0e"/>
<circle cx="606.81" cy="1285.3" r="2.42" fill="#ff7f0e"/>
<circle cx="654.5" cy="1275.98" r="2.42" fill="#ff7f0e"/>
<circle cx="702.18" cy="1272.1" r="2.42" fill="#ff7f0e"/>
<circle cx="749.86" cy="1269.98" r="2.42" fill="#ff7f0e"/>
<circle cx="797.54" cy="1268.3" r="2.42" fill="#ff7f0e"/>
<circle cx="816.62" cy="1266.18" r="2.42" fill="#ff7f0e"/>
<path d="M520.98 1384.7V1397.5M516.35 1384.7h9.27M516.35 1397.5h9.27M530.52 1363.58V1370.78M525.88 1363.58h9.27M525.88 1370.78h9.27M540.06 1346.18V1351.78M535.42 1346.18h9.27M535.42 1351.78h9.27M559.13 1323.5V1327.5M554.49 1323.5h9.27M554.49 1327.5h9.27M606.81 1299.98V1302.38M602.18 1299.98h9.27M602.18 1302.38h9.27M654.5 1288.9V1291.3M649.86 1288.9h9.27M649.86 1291.3h9.27M702.18 1281.78V1284.18M697.54 1281.78h9.27M697.54 1284.18h9.27M749.86 1278.98V1281.38M745.23 1278.98h9.27M745.23 1281.38h9.27M797.54 1275.5V1277.9M792.91 1275.5h9.27M792.91 1277.9h9.27M816.62 1273.58V1275.18M811.98 1273.58h9.27M811.98 1275.18h9.27" stroke="#2ca02c" stroke-width="1.1" fill="none" opacity="0.8"/>
<polyline points="520.98,1391.1 530.52,1367.18 540.06,1348.98 559.13,1325.5 606.81,1301.18 654.5,1290.1 702.18,1282.98 749.86,1280.18 797.54,1276.7 816.62,1274.38" fill="none" stroke="#2ca02c" stroke-width="1.9" stroke-linejoin="round"/>
<circle cx="520.98" cy="1391.1" r="2.42" fill="#2ca02c"/>
<circle cx="530.52" cy="1367.18" r="2.42" fill="#2ca02c"/>
<circle cx="540.06" cy="1348.98" r="2.42" fill="#2ca02c"/>
<circle cx="559.13" cy="1325.5" r="2.42" fill="#2ca02c"/>
<circle cx="606.81" cy="1301.18" r="2.42" fill="#2ca02c"/>
<circle cx="654.5" cy="1290.1" r="2.42" fill="#2ca02c"/>
<circle cx="702.18" cy="1282.98" r="2.42" fill="#2ca02c"/>
<circle cx="749.86" cy="1280.18" r="2.42" fill="#2ca02c"/>
<circle cx="797.54" cy="1276.7" r="2.42" fill="#2ca02c"/>
<circle cx="816.62" cy="1274.38" r="2.42" fill="#2ca02c"/>
</g>
<path d="M541.4 1406.8H570.7" stroke="#1f77b4" stroke-width="1.9" fill="none"/>
<path d="M556.05 1399.44V1414.16M551.01 1399.44h10.08M551.01 1414.16h10.08" stroke="#1f77b4" stroke-width="1.1" fill="none" opacity="0.8"/>
<circle cx="556.05" cy="1406.8" r="2.62" fill="#1f77b4"/>
<text x="580.6" y="1411.94" font-size="14.11" text-anchor="start" fill="#222" font-family="DejaVu Sans, Liberation Sans, sans-serif" font-weight="normal" stroke="#222" stroke-width="0.25">KNN</text>
<path d="M640 1406.8H669.6" stroke="#ff7f0e" stroke-width="1.9" fill="none"/>
<path d="M654.8 1399.44V1414.16M649.76 1399.44h10.08M649.76 1414.16h10.08" stroke="#ff7f0e" stroke-width="1.1" fill="none" opacity="0.8"/>
<circle cx="654.8" cy="1406.8" r="2.62" fill="#ff7f0e"/>
<text x="679.1" y="1411.94" font-size="14.11" text-anchor="start" fill="#222" font-family="DejaVu Sans, Liberation Sans, sans-serif" font-weight="normal" stroke="#222" stroke-width="0.25">RF</text>
<path d="M725.6 1406.8H754.7" stroke="#2ca02c" stroke-width="1.9" fill="none"/>
<path d="M740.15 1399.44V1414.16M735.11 1399.44h10.08M735.11 1414.16h10.08" stroke="#2ca02c" stroke-width="1.1" fill="none" opacity="0.8"/>
<circle cx="740.15" cy="1406.8" r="2.62" fill="#2ca02c"/>
<text x="765.2" y="1411.94" font-size="14.11" text-anchor="start" fill="#222" font-family="DejaVu Sans, Liberation Sans, sans-serif" font-weight="normal" stroke="#222" stroke-width="0.25">SVM</text>
</g>
<g>
<rect x="973" y="978.4" width="329.2" height="202.6" fill="#fff" stroke="#999" stroke-width="1.2"/>
<path d="M987.96 1181v3.06 M997.62 1181v3.06 M1007.27 1181v3.06 M1026.58 1181v3.06 M1074.85 1181v3.06 M1123.12 1181v3.06 M1171.39 1181v3.06 M1219.66 1181v3.06 M1267.93 1181v3.06 M1287.24 1181v3.06 M969.94 1181h3.06 M969.94 1140.48h3.06 M969.94 1099.96h3.06 M969.94 1059.44h3.06 M969.94 1018.92h3.06 M969.94 978.4h3.06" stroke="#999" stroke-width="1" fill="none"/>
<text x="987.96" y="1196.6" font-size="14.29" text-anchor="middle" fill="#222" font-family="DejaVu Sans, Liberation Sans, sans-serif" font-weight="normal" stroke="#222" stroke-width="0.25">1</text>
<text x="997.62" y="1196.6" font-size="14.29" text-anchor="middle" fill="#222" font-family="DejaVu Sans, Liberation Sans, sans-serif" font-weight="normal" stroke="#222" stroke-width="0.25">2</text>
<text x="1007.27" y="1196.6" font-size="14.29" text-anchor="middle" fill="#222" font-family="DejaVu Sans, Liberation Sans, sans-serif" font-weight="normal" stroke="#222" stroke-width="0.25">3</text>
<text x="1026.58" y="1196.6" font-size="14.29" text-anchor="middle" fill="#222" font-family="DejaVu Sans, Liberation Sans, sans-serif" font-weight="normal" stroke="#222" stroke-width="0.25">5</text>
<text x="1074.85" y="1196.6" font-size="14.29" text-anchor="middle" fill="#222" font-family="DejaVu Sans, Liberation Sans, sans-serif" font-weight="normal" stroke="#222" stroke-width="0.25">10</text>
<text x="1123.12" y="1196.6" font-size="14.29" text-anchor="middle" fill="#222" font-family="DejaVu Sans, Liberation Sans, sans-serif" font-weight="normal" stroke="#222" stroke-width="0.25">15</text>
<text x="1171.39" y="1196.6" font-size="14.29" text-anchor="middle" fill="#222" font-family="DejaVu Sans, Liberation Sans, sans-serif" font-weight="normal" stroke="#222" stroke-width="0.25">20</text>
<text x="1219.66" y="1196.6" font-size="14.29" text-anchor="middle" fill="#222" font-family="DejaVu Sans, Liberation Sans, sans-serif" font-weight="normal" stroke="#222" stroke-width="0.25">25</text>
<text x="1267.93" y="1196.6" font-size="14.29" text-anchor="middle" fill="#222" font-family="DejaVu Sans, Liberation Sans, sans-serif" font-weight="normal" stroke="#222" stroke-width="0.25">30</text>
<text x="1287.24" y="1196.6" font-size="14.29" text-anchor="middle" fill="#222" font-family="DejaVu Sans, Liberation Sans, sans-serif" font-weight="normal" stroke="#222" stroke-width="0.25">32</text>
<text x="967.9" y="1186.21" font-size="14.29" text-anchor="end" fill="#222" font-family="DejaVu Sans, Liberation Sans, sans-serif" font-weight="normal" stroke="#222" stroke-width="0.25">0.5</text>
<text x="967.9" y="1145.69" font-size="14.29" text-anchor="end" fill="#222" font-family="DejaVu Sans, Liberation Sans, sans-serif" font-weight="normal" stroke="#222" stroke-width="0.25">0.6</text>
<text x="967.9" y="1105.17" font-size="14.29" text-anchor="end" fill="#222" font-family="DejaVu Sans, Liberation Sans, sans-serif" font-weight="normal" stroke="#222" stroke-width="0.25">0.7</text>
<text x="967.9" y="1064.65" font-size="14.29" text-anchor="end" fill="#222" font-family="DejaVu Sans, Liberation Sans, sans-serif" font-weight="normal" stroke="#222" stroke-width="0.25">0.8</text>
<text x="967.9" y="1024.13" font-size="14.29" text-anchor="end" fill="#222" font-family="DejaVu Sans, Liberation Sans, sans-serif" font-weight="normal" stroke="#222" stroke-width="0.25">0.9</text>
<text x="967.9" y="983.61" font-size="14.29" text-anchor="end" fill="#222" font-family="DejaVu Sans, Liberation Sans, sans-serif" font-weight="normal" stroke="#222" stroke-width="0.25">1.0</text>
<text x="1137.6" y="973.81" font-size="14.29" text-anchor="middle" fill="#222" font-family="DejaVu Sans, Liberation Sans, sans-serif" font-weight="normal" stroke="#222" stroke-width="0.25">Accuracy with Standard Error Bars</text>
<text x="938.81" y="1079.7" font-size="15.31" text-anchor="middle" fill="#222" font-family="DejaVu Sans, Liberation Sans, sans-serif" stroke="#222" stroke-width="0.25" transform="rotate(-90 938.81 1079.7)">Accuracy</text>
<g clip-path="url(#clip_e00)">
<path d="M987.96 1128.32V1144.53M983.27 1128.32h9.39M983.27 1144.53h9.39M997.62 1082.05V1089.34M992.92 1082.05h9.39M992.92 1089.34h9.39M1007.27 1055.67V1061.34M1002.58 1055.67h9.39M1002.58 1061.34h9.39M1026.58 1034.88V1038.94M1021.88 1034.88h9.39M1021.88 1038.94h9.39M1074.85 1022.36V1026.42M1070.15 1022.36h9.39M1070.15 1026.42h9.39M1123.12 1029.46V1033.51M1118.42 1029.46h9.39M1118.42 1033.51h9.39M1171.39 1035.25V1039.3M1166.69 1035.25h9.39M1166.69 1039.3h9.39M1219.66 1041.57V1045.62M1214.96 1041.57h9.39M1214.96 1045.62h9.39M1267.93 1044.97V1049.03M1263.23 1044.97h9.39M1263.23 1049.03h9.39M1287.24 1051.38V1053M1282.54 1051.38h9.39M1282.54 1053h9.39" stroke="#1f77b4" stroke-width="1.1" fill="none" opacity="0.8"/>
<polyline points="987.96,1136.43 997.62,1085.7 1007.27,1058.51 1026.58,1036.91 1074.85,1024.39 1123.12,1031.48 1171.39,1037.28 1219.66,1043.6 1267.93,1047 1287.24,1052.19" fill="none" stroke="#1f77b4" stroke-width="1.9" stroke-linejoin="round"/>
<circle cx="987.96" cy="1136.43" r="2.45" fill="#1f77b4"/>
<circle cx="997.62" cy="1085.7" r="2.45" fill="#1f77b4"/>
<circle cx="1007.27" cy="1058.51" r="2.45" fill="#1f77b4"/>
<circle cx="1026.58" cy="1036.91" r="2.45" fill="#1f77b4"/>
<circle cx="1074.85" cy="1024.39" r="2.45" fill="#1f77b4"/>
<circle cx="1123.12" cy="1031.48" r="2.45" fill="#1f77b4"/>
<circle cx="1171.39" cy="1037.28" r="2.45" fill="#1f77b4"/>
<circle cx="1219.66" cy="1043.6" r="2.45" fill="#1f77b4"/>
<circle cx="1267.93" cy="1047" r="2.45" fill="#1f77b4"/>
<circle cx="1287.24" cy="1052.19" r="2.45" fill="#1f77b4"/>
<path d="M987.96 1096.03V1109.81M983.27 1096.03h9.39M983.27 1109.81h9.39M997.62 1062.36V1068.84M992.92 1062.36h9.39M992.92 1068.84h9.39M1007.27 1043.94V1047.06M1002.58 1043.94h9.39M1002.58 1047.06h9.39M1026.58 1023.88V1026.11M1021.88 1023.88h9.39M1021.88 1026.11h9.39M1074.85 1009.42V1010.76M1070.15 1009.42h9.39M1070.15 1010.76h9.39M1123.12 1004.03V1005.37M1118.42 1004.03h9.39M1118.42 1005.37h9.39M1171.39 1002.12V1003.46M1166.69 1002.12h9.39M1166.69 1003.46h9.39M1219.66 1000.83V1002.16M1214.96 1000.83h9.39M1214.96 1002.16h9.39M1267.93 1000.26V1001.6M1263.23 1000.26h9.39M1263.23 1001.6h9.39M1287.24 1000.48V1001.37M1282.54 1000.48h9.39M1282.54 1001.37h9.39" stroke="#ff7f0e" stroke-width="1.1" fill="none" opacity="0.8"/>
<polyline points="987.96,1102.92 997.62,1065.6 1007.27,1045.5 1026.58,1025 1074.85,1010.09 1123.12,1004.7 1171.39,1002.79 1219.66,1001.5 1267.93,1000.93 1287.24,1000.93" fill="none" stroke="#ff7f0e" stroke-width="1.9" stroke-linejoin="round"/>
<circle cx="987.96" cy="1102.92" r="2.45" fill="#ff7f0e"/>
<circle cx="997.62" cy="1065.6" r="2.45" fill="#ff7f0e"/>
<circle cx="1007.27" cy="1045.5" r="2.45" fill="#ff7f0e"/>
<circle cx="1026.58" cy="1025" r="2.45" fill="#ff7f0e"/>
<circle cx="1074.85" cy="1010.09" r="2.45" fill="#ff7f0e"/>
<circle cx="1123.12" cy="1004.7" r="2.45" fill="#ff7f0e"/>
<circle cx="1171.39" cy="1002.79" r="2.45" fill="#ff7f0e"/>
<circle cx="1219.66" cy="1001.5" r="2.45" fill="#ff7f0e"/>
<circle cx="1267.93" cy="1000.93" r="2.45" fill="#ff7f0e"/>
<circle cx="1287.24" cy="1000.93" r="2.45" fill="#ff7f0e"/>
<path d="M987.96 1114.83V1125.37M983.27 1114.83h9.39M983.27 1125.37h9.39M997.62 1091.57V1098.87M992.92 1091.57h9.39M992.92 1098.87h9.39M1007.27 1074.15V1079.82M1002.58 1074.15h9.39M1002.58 1079.82h9.39M1026.58 1049.19V1053.24M1021.88 1049.19h9.39M1021.88 1053.24h9.39M1074.85 1024.8V1027.23M1070.15 1024.8h9.39M1070.15 1027.23h9.39M1123.12 1016.16V1018.6M1118.42 1016.16h9.39M1118.42 1018.6h9.39M1171.39 1010.78V1013.21M1166.69 1010.78h9.39M1166.69 1013.21h9.39M1219.66 1005.99V1008.43M1214.96 1005.99h9.39M1214.96 1008.43h9.39M1267.93 1003.68V1006.12M1263.23 1003.68h9.39M1263.23 1006.12h9.39M1287.24 1003V1004.62M1282.54 1003h9.39M1282.54 1004.62h9.39" stroke="#2ca02c" stroke-width="1.1" fill="none" opacity="0.8"/>
<polyline points="987.96,1120.1 997.62,1095.22 1007.27,1076.99 1026.58,1051.21 1074.85,1026.01 1123.12,1017.38 1171.39,1011.99 1219.66,1007.21 1267.93,1004.9 1287.24,1003.81" fill="none" stroke="#2ca02c" stroke-width="1.9" stroke-linejoin="round"/>
<circle cx="987.96" cy="1120.1" r="2.45" fill="#2ca02c"/>
<circle cx="997.62" cy="1095.22" r="2.45" fill="#2ca02c"/>
<circle cx="1007.27" cy="1076.99" r="2.45" fill="#2ca02c"/>
<circle cx="1026.58" cy="1051.21" r="2.45" fill="#2ca02c"/>
<circle cx="1074.85" cy="1026.01" r="2.45" fill="#2ca02c"/>
<circle cx="1123.12" cy="1017.38" r="2.45" fill="#2ca02c"/>
<circle cx="1171.39" cy="1011.99" r="2.45" fill="#2ca02c"/>
<circle cx="1219.66" cy="1007.21" r="2.45" fill="#2ca02c"/>
<circle cx="1267.93" cy="1004.9" r="2.45" fill="#2ca02c"/>
<circle cx="1287.24" cy="1003.81" r="2.45" fill="#2ca02c"/>
</g>
</g>
<g>
<rect x="1355.4" y="978.4" width="329.2" height="202.6" fill="#fff" stroke="#999" stroke-width="1.2"/>
<path d="M1370.36 1181v3.06 M1380.02 1181v3.06 M1389.67 1181v3.06 M1408.98 1181v3.06 M1457.25 1181v3.06 M1505.52 1181v3.06 M1553.79 1181v3.06 M1602.06 1181v3.06 M1650.33 1181v3.06 M1669.64 1181v3.06 M1352.34 1181h3.06 M1352.34 1140.48h3.06 M1352.34 1099.96h3.06 M1352.34 1059.44h3.06 M1352.34 1018.92h3.06 M1352.34 978.4h3.06" stroke="#999" stroke-width="1" fill="none"/>
<text x="1370.36" y="1196.6" font-size="14.29" text-anchor="middle" fill="#222" font-family="DejaVu Sans, Liberation Sans, sans-serif" font-weight="normal" stroke="#222" stroke-width="0.25">1</text>
<text x="1380.02" y="1196.6" font-size="14.29" text-anchor="middle" fill="#222" font-family="DejaVu Sans, Liberation Sans, sans-serif" font-weight="normal" stroke="#222" stroke-width="0.25">2</text>
<text x="1389.67" y="1196.6" font-size="14.29" text-anchor="middle" fill="#222" font-family="DejaVu Sans, Liberation Sans, sans-serif" font-weight="normal" stroke="#222" stroke-width="0.25">3</text>
<text x="1408.98" y="1196.6" font-size="14.29" text-anchor="middle" fill="#222" font-family="DejaVu Sans, Liberation Sans, sans-serif" font-weight="normal" stroke="#222" stroke-width="0.25">5</text>
<text x="1457.25" y="1196.6" font-size="14.29" text-anchor="middle" fill="#222" font-family="DejaVu Sans, Liberation Sans, sans-serif" font-weight="normal" stroke="#222" stroke-width="0.25">10</text>
<text x="1505.52" y="1196.6" font-size="14.29" text-anchor="middle" fill="#222" font-family="DejaVu Sans, Liberation Sans, sans-serif" font-weight="normal" stroke="#222" stroke-width="0.25">15</text>
<text x="1553.79" y="1196.6" font-size="14.29" text-anchor="middle" fill="#222" font-family="DejaVu Sans, Liberation Sans, sans-serif" font-weight="normal" stroke="#222" stroke-width="0.25">20</text>
<text x="1602.06" y="1196.6" font-size="14.29" text-anchor="middle" fill="#222" font-family="DejaVu Sans, Liberation Sans, sans-serif" font-weight="normal" stroke="#222" stroke-width="0.25">25</text>
<text x="1650.33" y="1196.6" font-size="14.29" text-anchor="middle" fill="#222" font-family="DejaVu Sans, Liberation Sans, sans-serif" font-weight="normal" stroke="#222" stroke-width="0.25">30</text>
<text x="1669.64" y="1196.6" font-size="14.29" text-anchor="middle" fill="#222" font-family="DejaVu Sans, Liberation Sans, sans-serif" font-weight="normal" stroke="#222" stroke-width="0.25">32</text>
<text x="1350.3" y="1186.21" font-size="14.29" text-anchor="end" fill="#222" font-family="DejaVu Sans, Liberation Sans, sans-serif" font-weight="normal" stroke="#222" stroke-width="0.25">0.5</text>
<text x="1350.3" y="1145.69" font-size="14.29" text-anchor="end" fill="#222" font-family="DejaVu Sans, Liberation Sans, sans-serif" font-weight="normal" stroke="#222" stroke-width="0.25">0.6</text>
<text x="1350.3" y="1105.17" font-size="14.29" text-anchor="end" fill="#222" font-family="DejaVu Sans, Liberation Sans, sans-serif" font-weight="normal" stroke="#222" stroke-width="0.25">0.7</text>
<text x="1350.3" y="1064.65" font-size="14.29" text-anchor="end" fill="#222" font-family="DejaVu Sans, Liberation Sans, sans-serif" font-weight="normal" stroke="#222" stroke-width="0.25">0.8</text>
<text x="1350.3" y="1024.13" font-size="14.29" text-anchor="end" fill="#222" font-family="DejaVu Sans, Liberation Sans, sans-serif" font-weight="normal" stroke="#222" stroke-width="0.25">0.9</text>
<text x="1350.3" y="983.61" font-size="14.29" text-anchor="end" fill="#222" font-family="DejaVu Sans, Liberation Sans, sans-serif" font-weight="normal" stroke="#222" stroke-width="0.25">1.0</text>
<text x="1520" y="973.81" font-size="14.29" text-anchor="middle" fill="#222" font-family="DejaVu Sans, Liberation Sans, sans-serif" font-weight="normal" stroke="#222" stroke-width="0.25">Precision with Standard Error Bars</text>
<text x="1323.25" y="1079.7" font-size="15.31" text-anchor="middle" fill="#222" font-family="DejaVu Sans, Liberation Sans, sans-serif" stroke="#222" stroke-width="0.25" transform="rotate(-90 1323.25 1079.7)">Precision</text>
<g clip-path="url(#clip_e10)">
<path d="M1370.36 1108.79V1121.76M1365.67 1108.79h9.39M1365.67 1121.76h9.39M1380.02 1073.34V1080.63M1375.32 1073.34h9.39M1375.32 1080.63h9.39M1389.67 1052.15V1057.82M1384.98 1052.15h9.39M1384.98 1057.82h9.39M1408.98 1032.37V1036.42M1404.28 1032.37h9.39M1404.28 1036.42h9.39M1457.25 1019.57V1023.62M1452.55 1019.57h9.39M1452.55 1023.62h9.39M1505.52 1022.77V1026.82M1500.82 1022.77h9.39M1500.82 1026.82h9.39M1553.79 1025.89V1029.94M1549.09 1025.89h9.39M1549.09 1029.94h9.39M1602.06 1029.7V1033.75M1597.36 1029.7h9.39M1597.36 1033.75h9.39M1650.33 1032.58V1036.63M1645.63 1032.58h9.39M1645.63 1036.63h9.39M1669.64 1037.4V1039.02M1664.94 1037.4h9.39M1664.94 1039.02h9.39" stroke="#1f77b4" stroke-width="1.1" fill="none" opacity="0.8"/>
<polyline points="1370.36,1115.28 1380.02,1076.99 1389.67,1054.98 1408.98,1034.4 1457.25,1021.59 1505.52,1024.8 1553.79,1027.92 1602.06,1031.72 1650.33,1034.6 1669.64,1038.21" fill="none" stroke="#1f77b4" stroke-width="1.9" stroke-linejoin="round"/>
<circle cx="1370.36" cy="1115.28" r="2.45" fill="#1f77b4"/>
<circle cx="1380.02" cy="1076.99" r="2.45" fill="#1f77b4"/>
<circle cx="1389.67" cy="1054.98" r="2.45" fill="#1f77b4"/>
<circle cx="1408.98" cy="1034.4" r="2.45" fill="#1f77b4"/>
<circle cx="1457.25" cy="1021.59" r="2.45" fill="#1f77b4"/>
<circle cx="1505.52" cy="1024.8" r="2.45" fill="#1f77b4"/>
<circle cx="1553.79" cy="1027.92" r="2.45" fill="#1f77b4"/>
<circle cx="1602.06" cy="1031.72" r="2.45" fill="#1f77b4"/>
<circle cx="1650.33" cy="1034.6" r="2.45" fill="#1f77b4"/>
<circle cx="1669.64" cy="1038.21" r="2.45" fill="#1f77b4"/>
<path d="M1370.36 1084.52V1098.3M1365.67 1084.52h9.39M1365.67 1098.3h9.39M1380.02 1057.58V1064.06M1375.32 1057.58h9.39M1375.32 1064.06h9.39M1389.67 1041.67V1044.79M1384.98 1041.67h9.39M1384.98 1044.79h9.39M1408.98 1022.99V1025.22M1404.28 1022.99h9.39M1404.28 1025.22h9.39M1457.25 1008.45V1009.78M1452.55 1008.45h9.39M1452.55 1009.78h9.39M1505.52 1003.34V1004.68M1500.82 1003.34h9.39M1500.82 1004.68h9.39M1553.79 1001.23V1002.57M1549.09 1001.23h9.39M1549.09 1002.57h9.39M1602.06 999.86V1001.19M1597.36 999.86h9.39M1597.36 1001.19h9.39M1650.33 999.45V1000.79M1645.63 999.45h9.39M1645.63 1000.79h9.39M1669.64 1000.08V1000.97M1664.94 1000.08h9.39M1664.94 1000.97h9.39" stroke="#ff7f0e" stroke-width="1.1" fill="none" opacity="0.8"/>
<polyline points="1370.36,1091.41 1380.02,1060.82 1389.67,1043.23 1408.98,1024.11 1457.25,1009.11 1505.52,1004.01 1553.79,1001.9 1602.06,1000.52 1650.33,1000.12 1669.64,1000.52" fill="none" stroke="#ff7f0e" stroke-width="1.9" stroke-linejoin="round"/>
<circle cx="1370.36" cy="1091.41" r="2.45" fill="#ff7f0e"/>
<circle cx="1380.02" cy="1060.82" r="2.45" fill="#ff7f0e"/>
<circle cx="1389.67" cy="1043.23" r="2.45" fill="#ff7f0e"/>
<circle cx="1408.98" cy="1024.11" r="2.45" fill="#ff7f0e"/>
<circle cx="1457.25" cy="1009.11" r="2.45" fill="#ff7f0e"/>
<circle cx="1505.52" cy="1004.01" r="2.45" fill="#ff7f0e"/>
<circle cx="1553.79" cy="1001.9" r="2.45" fill="#ff7f0e"/>
<circle cx="1602.06" cy="1000.52" r="2.45" fill="#ff7f0e"/>
<circle cx="1650.33" cy="1000.12" r="2.45" fill="#ff7f0e"/>
<circle cx="1669.64" cy="1000.52" r="2.45" fill="#ff7f0e"/>
<path d="M1370.36 1102.39V1112.93M1365.67 1102.39h9.39M1365.67 1112.93h9.39M1380.02 1088.74V1096.03M1375.32 1088.74h9.39M1375.32 1096.03h9.39M1389.67 1072.85V1078.52M1384.98 1072.85h9.39M1384.98 1078.52h9.39M1408.98 1048.26V1052.31M1404.28 1048.26h9.39M1404.28 1052.31h9.39M1457.25 1024.19V1026.62M1452.55 1024.19h9.39M1452.55 1026.62h9.39M1505.52 1015.6V1018.03M1500.82 1015.6h9.39M1500.82 1018.03h9.39M1553.79 1009.48V1011.91M1549.09 1009.48h9.39M1549.09 1011.91h9.39M1602.06 1005.39V1007.82M1597.36 1005.39h9.39M1597.36 1007.82h9.39M1650.33 1003.48V1005.91M1645.63 1003.48h9.39M1645.63 1005.91h9.39M1669.64 1002.59V1004.21M1664.94 1002.59h9.39M1664.94 1004.21h9.39" stroke="#2ca02c" stroke-width="1.1" fill="none" opacity="0.8"/>
<polyline points="1370.36,1107.66 1380.02,1092.38 1389.67,1075.69 1408.98,1050.28 1457.25,1025.4 1505.52,1016.81 1553.79,1010.69 1602.06,1006.6 1650.33,1004.7 1669.64,1003.4" fill="none" stroke="#2ca02c" stroke-width="1.9" stroke-linejoin="round"/>
<circle cx="1370.36" cy="1107.66" r="2.45" fill="#2ca02c"/>
<circle cx="1380.02" cy="1092.38" r="2.45" fill="#2ca02c"/>
<circle cx="1389.67" cy="1075.69" r="2.45" fill="#2ca02c"/>
<circle cx="1408.98" cy="1050.28" r="2.45" fill="#2ca02c"/>
<circle cx="1457.25" cy="1025.4" r="2.45" fill="#2ca02c"/>
<circle cx="1505.52" cy="1016.81" r="2.45" fill="#2ca02c"/>
<circle cx="1553.79" cy="1010.69" r="2.45" fill="#2ca02c"/>
<circle cx="1602.06" cy="1006.6" r="2.45" fill="#2ca02c"/>
<circle cx="1650.33" cy="1004.7" r="2.45" fill="#2ca02c"/>
<circle cx="1669.64" cy="1003.4" r="2.45" fill="#2ca02c"/>
</g>
</g>
<g>
<rect x="973" y="1224" width="329.2" height="202.2" fill="#fff" stroke="#999" stroke-width="1.2"/>
<path d="M987.96 1426.2v3.06 M997.62 1426.2v3.06 M1007.27 1426.2v3.06 M1026.58 1426.2v3.06 M1074.85 1426.2v3.06 M1123.12 1426.2v3.06 M1171.39 1426.2v3.06 M1219.66 1426.2v3.06 M1267.93 1426.2v3.06 M1287.24 1426.2v3.06 M969.94 1426.2h3.06 M969.94 1385.76h3.06 M969.94 1345.32h3.06 M969.94 1304.88h3.06 M969.94 1264.44h3.06 M969.94 1224h3.06" stroke="#999" stroke-width="1" fill="none"/>
<text x="987.96" y="1441.8" font-size="14.29" text-anchor="middle" fill="#222" font-family="DejaVu Sans, Liberation Sans, sans-serif" font-weight="normal" stroke="#222" stroke-width="0.25">1</text>
<text x="997.62" y="1441.8" font-size="14.29" text-anchor="middle" fill="#222" font-family="DejaVu Sans, Liberation Sans, sans-serif" font-weight="normal" stroke="#222" stroke-width="0.25">2</text>
<text x="1007.27" y="1441.8" font-size="14.29" text-anchor="middle" fill="#222" font-family="DejaVu Sans, Liberation Sans, sans-serif" font-weight="normal" stroke="#222" stroke-width="0.25">3</text>
<text x="1026.58" y="1441.8" font-size="14.29" text-anchor="middle" fill="#222" font-family="DejaVu Sans, Liberation Sans, sans-serif" font-weight="normal" stroke="#222" stroke-width="0.25">5</text>
<text x="1074.85" y="1441.8" font-size="14.29" text-anchor="middle" fill="#222" font-family="DejaVu Sans, Liberation Sans, sans-serif" font-weight="normal" stroke="#222" stroke-width="0.25">10</text>
<text x="1123.12" y="1441.8" font-size="14.29" text-anchor="middle" fill="#222" font-family="DejaVu Sans, Liberation Sans, sans-serif" font-weight="normal" stroke="#222" stroke-width="0.25">15</text>
<text x="1171.39" y="1441.8" font-size="14.29" text-anchor="middle" fill="#222" font-family="DejaVu Sans, Liberation Sans, sans-serif" font-weight="normal" stroke="#222" stroke-width="0.25">20</text>
<text x="1219.66" y="1441.8" font-size="14.29" text-anchor="middle" fill="#222" font-family="DejaVu Sans, Liberation Sans, sans-serif" font-weight="normal" stroke="#222" stroke-width="0.25">25</text>
<text x="1267.93" y="1441.8" font-size="14.29" text-anchor="middle" fill="#222" font-family="DejaVu Sans, Liberation Sans, sans-serif" font-weight="normal" stroke="#222" stroke-width="0.25">30</text>
<text x="1287.24" y="1441.8" font-size="14.29" text-anchor="middle" fill="#222" font-family="DejaVu Sans, Liberation Sans, sans-serif" font-weight="normal" stroke="#222" stroke-width="0.25">32</text>
<text x="967.9" y="1431.41" font-size="14.29" text-anchor="end" fill="#222" font-family="DejaVu Sans, Liberation Sans, sans-serif" font-weight="normal" stroke="#222" stroke-width="0.25">0.5</text>
<text x="967.9" y="1390.97" font-size="14.29" text-anchor="end" fill="#222" font-family="DejaVu Sans, Liberation Sans, sans-serif" font-weight="normal" stroke="#222" stroke-width="0.25">0.6</text>
<text x="967.9" y="1350.53" font-size="14.29" text-anchor="end" fill="#222" font-family="DejaVu Sans, Liberation Sans, sans-serif" font-weight="normal" stroke="#222" stroke-width="0.25">0.7</text>
<text x="967.9" y="1310.09" font-size="14.29" text-anchor="end" fill="#222" font-family="DejaVu Sans, Liberation Sans, sans-serif" font-weight="normal" stroke="#222" stroke-width="0.25">0.8</text>
<text x="967.9" y="1269.65" font-size="14.29" text-anchor="end" fill="#222" font-family="DejaVu Sans, Liberation Sans, sans-serif" font-weight="normal" stroke="#222" stroke-width="0.25">0.9</text>
<text x="967.9" y="1229.21" font-size="14.29" text-anchor="end" fill="#222" font-family="DejaVu Sans, Liberation Sans, sans-serif" font-weight="normal" stroke="#222" stroke-width="0.25">1.0</text>
<text x="1137.6" y="1219.41" font-size="14.29" text-anchor="middle" fill="#222" font-family="DejaVu Sans, Liberation Sans, sans-serif" font-weight="normal" stroke="#222" stroke-width="0.25">Recall with Standard Error Bars</text>
<text x="940.34" y="1325.1" font-size="15.31" text-anchor="middle" fill="#222" font-family="DejaVu Sans, Liberation Sans, sans-serif" stroke="#222" stroke-width="0.25" transform="rotate(-90 940.34 1325.1)">Recall</text>
<text x="1137.6" y="1458.8" font-size="14.29" text-anchor="middle" fill="#222" font-family="DejaVu Sans, Liberation Sans, sans-serif" font-weight="normal" stroke="#222" stroke-width="0.25">Combination Size</text>
<g clip-path="url(#clip_e01)">
<path d="M987.96 1373.63V1389.8M983.27 1373.63h9.39M983.27 1389.8h9.39M997.62 1327.45V1334.72M992.92 1327.45h9.39M992.92 1334.72h9.39M1007.27 1301.12V1306.78M1002.58 1301.12h9.39M1002.58 1306.78h9.39M1026.58 1280.37V1284.42M1021.88 1280.37h9.39M1021.88 1284.42h9.39M1074.85 1267.88V1271.92M1070.15 1267.88h9.39M1070.15 1271.92h9.39M1123.12 1274.95V1279M1118.42 1274.95h9.39M1118.42 1279h9.39M1171.39 1280.74V1284.78M1166.69 1280.74h9.39M1166.69 1284.78h9.39M1219.66 1287.05V1291.09M1214.96 1287.05h9.39M1214.96 1291.09h9.39M1267.93 1290.44V1294.49M1263.23 1290.44h9.39M1263.23 1294.49h9.39M1287.24 1296.83V1298.45M1282.54 1296.83h9.39M1282.54 1298.45h9.39" stroke="#1f77b4" stroke-width="1.1" fill="none" opacity="0.8"/>
<polyline points="987.96,1381.72 997.62,1331.09 1007.27,1303.95 1026.58,1282.4 1074.85,1269.9 1123.12,1276.98 1171.39,1282.76 1219.66,1289.07 1267.93,1292.46 1287.24,1297.64" fill="none" stroke="#1f77b4" stroke-width="1.9" stroke-linejoin="round"/>
<circle cx="987.96" cy="1381.72" r="2.45" fill="#1f77b4"/>
<circle cx="997.62" cy="1331.09" r="2.45" fill="#1f77b4"/>
<circle cx="1007.27" cy="1303.95" r="2.45" fill="#1f77b4"/>
<circle cx="1026.58" cy="1282.4" r="2.45" fill="#1f77b4"/>
<circle cx="1074.85" cy="1269.9" r="2.45" fill="#1f77b4"/>
<circle cx="1123.12" cy="1276.98" r="2.45" fill="#1f77b4"/>
<circle cx="1171.39" cy="1282.76" r="2.45" fill="#1f77b4"/>
<circle cx="1219.66" cy="1289.07" r="2.45" fill="#1f77b4"/>
<circle cx="1267.93" cy="1292.46" r="2.45" fill="#1f77b4"/>
<circle cx="1287.24" cy="1297.64" r="2.45" fill="#1f77b4"/>
<path d="M987.96 1341.4V1355.15M983.27 1341.4h9.39M983.27 1355.15h9.39M997.62 1307.79V1314.26M992.92 1307.79h9.39M992.92 1314.26h9.39M1007.27 1289.41V1292.53M1002.58 1289.41h9.39M1002.58 1292.53h9.39M1026.58 1269.39V1271.62M1021.88 1269.39h9.39M1021.88 1271.62h9.39M1074.85 1254.96V1256.29M1070.15 1254.96h9.39M1070.15 1256.29h9.39M1123.12 1249.58V1250.91M1118.42 1249.58h9.39M1118.42 1250.91h9.39M1171.39 1247.68V1249.01M1166.69 1247.68h9.39M1166.69 1249.01h9.39M1219.66 1246.38V1247.72M1214.96 1246.38h9.39M1214.96 1247.72h9.39M1267.93 1245.82V1247.15M1263.23 1245.82h9.39M1263.23 1247.15h9.39M1287.24 1246.04V1246.93M1282.54 1246.04h9.39M1282.54 1246.93h9.39" stroke="#ff7f0e" stroke-width="1.1" fill="none" opacity="0.8"/>
<polyline points="987.96,1348.27 997.62,1311.03 1007.27,1290.97 1026.58,1270.51 1074.85,1255.62 1123.12,1250.25 1171.39,1248.34 1219.66,1247.05 1267.93,1246.48 1287.24,1246.48" fill="none" stroke="#ff7f0e" stroke-width="1.9" stroke-linejoin="round"/>
<circle cx="987.96" cy="1348.27" r="2.45" fill="#ff7f0e"/>
<circle cx="997.62" cy="1311.03" r="2.45" fill="#ff7f0e"/>
<circle cx="1007.27" cy="1290.97" r="2.45" fill="#ff7f0e"/>
<circle cx="1026.58" cy="1270.51" r="2.45" fill="#ff7f0e"/>
<circle cx="1074.85" cy="1255.62" r="2.45" fill="#ff7f0e"/>
<circle cx="1123.12" cy="1250.25" r="2.45" fill="#ff7f0e"/>
<circle cx="1171.39" cy="1248.34" r="2.45" fill="#ff7f0e"/>
<circle cx="1219.66" cy="1247.05" r="2.45" fill="#ff7f0e"/>
<circle cx="1267.93" cy="1246.48" r="2.45" fill="#ff7f0e"/>
<circle cx="1287.24" cy="1246.48" r="2.45" fill="#ff7f0e"/>
<path d="M987.96 1360.16V1370.68M983.27 1360.16h9.39M983.27 1370.68h9.39M997.62 1336.95V1344.23M992.92 1336.95h9.39M992.92 1344.23h9.39M1007.27 1319.56V1325.22M1002.58 1319.56h9.39M1002.58 1325.22h9.39M1026.58 1294.65V1298.69M1021.88 1294.65h9.39M1021.88 1298.69h9.39M1074.85 1270.3V1272.73M1070.15 1270.3h9.39M1070.15 1272.73h9.39M1123.12 1261.69V1264.12M1118.42 1261.69h9.39M1118.42 1264.12h9.39M1171.39 1256.31V1258.74M1166.69 1256.31h9.39M1166.69 1258.74h9.39M1219.66 1251.54V1253.97M1214.96 1251.54h9.39M1214.96 1253.97h9.39M1267.93 1249.23V1251.66M1263.23 1249.23h9.39M1263.23 1251.66h9.39M1287.24 1248.55V1250.16M1282.54 1248.55h9.39M1282.54 1250.16h9.39" stroke="#2ca02c" stroke-width="1.1" fill="none" opacity="0.8"/>
<polyline points="987.96,1365.42 997.62,1340.59 1007.27,1322.39 1026.58,1296.67 1074.85,1271.52 1123.12,1262.9 1171.39,1257.52 1219.66,1252.75 1267.93,1250.45 1287.24,1249.36" fill="none" stroke="#2ca02c" stroke-width="1.9" stroke-linejoin="round"/>
<circle cx="987.96" cy="1365.42" r="2.45" fill="#2ca02c"/>
<circle cx="997.62" cy="1340.59" r="2.45" fill="#2ca02c"/>
<circle cx="1007.27" cy="1322.39" r="2.45" fill="#2ca02c"/>
<circle cx="1026.58" cy="1296.67" r="2.45" fill="#2ca02c"/>
<circle cx="1074.85" cy="1271.52" r="2.45" fill="#2ca02c"/>
<circle cx="1123.12" cy="1262.9" r="2.45" fill="#2ca02c"/>
<circle cx="1171.39" cy="1257.52" r="2.45" fill="#2ca02c"/>
<circle cx="1219.66" cy="1252.75" r="2.45" fill="#2ca02c"/>
<circle cx="1267.93" cy="1250.45" r="2.45" fill="#2ca02c"/>
<circle cx="1287.24" cy="1249.36" r="2.45" fill="#2ca02c"/>
</g>
</g>
<g>
<rect x="1355.4" y="1224" width="329.2" height="202.2" fill="#fff" stroke="#999" stroke-width="1.2"/>
<path d="M1370.36 1426.2v3.06 M1380.02 1426.2v3.06 M1389.67 1426.2v3.06 M1408.98 1426.2v3.06 M1457.25 1426.2v3.06 M1505.52 1426.2v3.06 M1553.79 1426.2v3.06 M1602.06 1426.2v3.06 M1650.33 1426.2v3.06 M1669.64 1426.2v3.06 M1352.34 1426.2h3.06 M1352.34 1385.76h3.06 M1352.34 1345.32h3.06 M1352.34 1304.88h3.06 M1352.34 1264.44h3.06 M1352.34 1224h3.06" stroke="#999" stroke-width="1" fill="none"/>
<text x="1370.36" y="1441.8" font-size="14.29" text-anchor="middle" fill="#222" font-family="DejaVu Sans, Liberation Sans, sans-serif" font-weight="normal" stroke="#222" stroke-width="0.25">1</text>
<text x="1380.02" y="1441.8" font-size="14.29" text-anchor="middle" fill="#222" font-family="DejaVu Sans, Liberation Sans, sans-serif" font-weight="normal" stroke="#222" stroke-width="0.25">2</text>
<text x="1389.67" y="1441.8" font-size="14.29" text-anchor="middle" fill="#222" font-family="DejaVu Sans, Liberation Sans, sans-serif" font-weight="normal" stroke="#222" stroke-width="0.25">3</text>
<text x="1408.98" y="1441.8" font-size="14.29" text-anchor="middle" fill="#222" font-family="DejaVu Sans, Liberation Sans, sans-serif" font-weight="normal" stroke="#222" stroke-width="0.25">5</text>
<text x="1457.25" y="1441.8" font-size="14.29" text-anchor="middle" fill="#222" font-family="DejaVu Sans, Liberation Sans, sans-serif" font-weight="normal" stroke="#222" stroke-width="0.25">10</text>
<text x="1505.52" y="1441.8" font-size="14.29" text-anchor="middle" fill="#222" font-family="DejaVu Sans, Liberation Sans, sans-serif" font-weight="normal" stroke="#222" stroke-width="0.25">15</text>
<text x="1553.79" y="1441.8" font-size="14.29" text-anchor="middle" fill="#222" font-family="DejaVu Sans, Liberation Sans, sans-serif" font-weight="normal" stroke="#222" stroke-width="0.25">20</text>
<text x="1602.06" y="1441.8" font-size="14.29" text-anchor="middle" fill="#222" font-family="DejaVu Sans, Liberation Sans, sans-serif" font-weight="normal" stroke="#222" stroke-width="0.25">25</text>
<text x="1650.33" y="1441.8" font-size="14.29" text-anchor="middle" fill="#222" font-family="DejaVu Sans, Liberation Sans, sans-serif" font-weight="normal" stroke="#222" stroke-width="0.25">30</text>
<text x="1669.64" y="1441.8" font-size="14.29" text-anchor="middle" fill="#222" font-family="DejaVu Sans, Liberation Sans, sans-serif" font-weight="normal" stroke="#222" stroke-width="0.25">32</text>
<text x="1350.3" y="1431.41" font-size="14.29" text-anchor="end" fill="#222" font-family="DejaVu Sans, Liberation Sans, sans-serif" font-weight="normal" stroke="#222" stroke-width="0.25">0.5</text>
<text x="1350.3" y="1390.97" font-size="14.29" text-anchor="end" fill="#222" font-family="DejaVu Sans, Liberation Sans, sans-serif" font-weight="normal" stroke="#222" stroke-width="0.25">0.6</text>
<text x="1350.3" y="1350.53" font-size="14.29" text-anchor="end" fill="#222" font-family="DejaVu Sans, Liberation Sans, sans-serif" font-weight="normal" stroke="#222" stroke-width="0.25">0.7</text>
<text x="1350.3" y="1310.09" font-size="14.29" text-anchor="end" fill="#222" font-family="DejaVu Sans, Liberation Sans, sans-serif" font-weight="normal" stroke="#222" stroke-width="0.25">0.8</text>
<text x="1350.3" y="1269.65" font-size="14.29" text-anchor="end" fill="#222" font-family="DejaVu Sans, Liberation Sans, sans-serif" font-weight="normal" stroke="#222" stroke-width="0.25">0.9</text>
<text x="1350.3" y="1229.21" font-size="14.29" text-anchor="end" fill="#222" font-family="DejaVu Sans, Liberation Sans, sans-serif" font-weight="normal" stroke="#222" stroke-width="0.25">1.0</text>
<text x="1520" y="1219.41" font-size="14.29" text-anchor="middle" fill="#222" font-family="DejaVu Sans, Liberation Sans, sans-serif" font-weight="normal" stroke="#222" stroke-width="0.25">F1 with Standard Error Bars</text>
<text x="1322.74" y="1325.1" font-size="15.31" text-anchor="middle" fill="#222" font-family="DejaVu Sans, Liberation Sans, sans-serif" stroke="#222" stroke-width="0.25" transform="rotate(-90 1322.74 1325.1)">F1</text>
<text x="1520" y="1458.8" font-size="14.29" text-anchor="middle" fill="#222" font-family="DejaVu Sans, Liberation Sans, sans-serif" font-weight="normal" stroke="#222" stroke-width="0.25">Combination Size</text>
<g clip-path="url(#clip_e11)">
<path d="M1370.36 1394.78V1415.81M1365.67 1394.78h9.39M1365.67 1415.81h9.39M1380.02 1331.25V1338.53M1375.32 1331.25h9.39M1375.32 1338.53h9.39M1389.67 1302.57V1308.24M1384.98 1302.57h9.39M1384.98 1308.24h9.39M1408.98 1280.37V1284.42M1404.28 1280.37h9.39M1404.28 1284.42h9.39M1457.25 1268.36V1272.41M1452.55 1268.36h9.39M1452.55 1272.41h9.39M1505.52 1275.08V1279.12M1500.82 1275.08h9.39M1500.82 1279.12h9.39M1553.79 1281.38V1285.43M1549.09 1281.38h9.39M1549.09 1285.43h9.39M1602.06 1288.87V1292.91M1597.36 1288.87h9.39M1597.36 1292.91h9.39M1650.33 1291.9V1295.94M1645.63 1291.9h9.39M1645.63 1295.94h9.39M1669.64 1299.22V1300.84M1664.94 1299.22h9.39M1664.94 1300.84h9.39" stroke="#1f77b4" stroke-width="1.1" fill="none" opacity="0.8"/>
<polyline points="1370.36,1405.29 1380.02,1334.89 1389.67,1305.41 1408.98,1282.4 1457.25,1270.38 1505.52,1277.1 1553.79,1283.41 1602.06,1290.89 1650.33,1293.92 1669.64,1300.03" fill="none" stroke="#1f77b4" stroke-width="1.9" stroke-linejoin="round"/>
<circle cx="1370.36" cy="1405.29" r="2.45" fill="#1f77b4"/>
<circle cx="1380.02" cy="1334.89" r="2.45" fill="#1f77b4"/>
<circle cx="1389.67" cy="1305.41" r="2.45" fill="#1f77b4"/>
<circle cx="1408.98" cy="1282.4" r="2.45" fill="#1f77b4"/>
<circle cx="1457.25" cy="1270.38" r="2.45" fill="#1f77b4"/>
<circle cx="1505.52" cy="1277.1" r="2.45" fill="#1f77b4"/>
<circle cx="1553.79" cy="1283.41" r="2.45" fill="#1f77b4"/>
<circle cx="1602.06" cy="1290.89" r="2.45" fill="#1f77b4"/>
<circle cx="1650.33" cy="1293.92" r="2.45" fill="#1f77b4"/>
<circle cx="1669.64" cy="1300.03" r="2.45" fill="#1f77b4"/>
<path d="M1370.36 1346.74V1360.49M1365.67 1346.74h9.39M1365.67 1360.49h9.39M1380.02 1309.25V1315.72M1375.32 1309.25h9.39M1375.32 1315.72h9.39M1389.67 1288.93V1292.04M1384.98 1288.93h9.39M1384.98 1292.04h9.39M1408.98 1269.27V1271.5M1404.28 1269.27h9.39M1404.28 1271.5h9.39M1457.25 1255.04V1256.37M1452.55 1255.04h9.39M1452.55 1256.37h9.39M1505.52 1249.21V1250.55M1500.82 1249.21h9.39M1500.82 1250.55h9.39M1553.79 1247.31V1248.65M1549.09 1247.31h9.39M1549.09 1248.65h9.39M1602.06 1246.22V1247.56M1597.36 1246.22h9.39M1597.36 1247.56h9.39M1650.33 1245.82V1247.15M1645.63 1245.82h9.39M1645.63 1247.15h9.39M1669.64 1246.04V1246.93M1664.94 1246.04h9.39M1664.94 1246.93h9.39" stroke="#ff7f0e" stroke-width="1.1" fill="none" opacity="0.8"/>
<polyline points="1370.36,1353.61 1380.02,1312.48 1389.67,1290.48 1408.98,1270.38 1457.25,1255.7 1505.52,1249.88 1553.79,1247.98 1602.06,1246.89 1650.33,1246.48 1669.64,1246.48" fill="none" stroke="#ff7f0e" stroke-width="1.9" stroke-linejoin="round"/>
<circle cx="1370.36" cy="1353.61" r="2.45" fill="#ff7f0e"/>
<circle cx="1380.02" cy="1312.48" r="2.45" fill="#ff7f0e"/>
<circle cx="1389.67" cy="1290.48" r="2.45" fill="#ff7f0e"/>
<circle cx="1408.98" cy="1270.38" r="2.45" fill="#ff7f0e"/>
<circle cx="1457.25" cy="1255.7" r="2.45" fill="#ff7f0e"/>
<circle cx="1505.52" cy="1249.88" r="2.45" fill="#ff7f0e"/>
<circle cx="1553.79" cy="1247.98" r="2.45" fill="#ff7f0e"/>
<circle cx="1602.06" cy="1246.89" r="2.45" fill="#ff7f0e"/>
<circle cx="1650.33" cy="1246.48" r="2.45" fill="#ff7f0e"/>
<circle cx="1669.64" cy="1246.48" r="2.45" fill="#ff7f0e"/>
<path d="M1370.36 1365.54V1376.05M1365.67 1365.54h9.39M1365.67 1376.05h9.39M1380.02 1339.46V1346.74M1375.32 1339.46h9.39M1375.32 1346.74h9.39M1389.67 1320.17V1325.83M1384.98 1320.17h9.39M1384.98 1325.83h9.39M1408.98 1294.57V1298.61M1404.28 1294.57h9.39M1404.28 1298.61h9.39M1457.25 1270.18V1272.61M1452.55 1270.18h9.39M1452.55 1272.61h9.39M1505.52 1261.49V1263.91M1500.82 1261.49h9.39M1500.82 1263.91h9.39M1553.79 1255.38V1257.81M1549.09 1255.38h9.39M1549.09 1257.81h9.39M1602.06 1251.38V1253.8M1597.36 1251.38h9.39M1597.36 1253.8h9.39M1650.33 1249.07V1251.5M1645.63 1249.07h9.39M1645.63 1251.5h9.39M1669.64 1248.18V1249.8M1664.94 1248.18h9.39M1664.94 1249.8h9.39" stroke="#2ca02c" stroke-width="1.1" fill="none" opacity="0.8"/>
<polyline points="1370.36,1370.8 1380.02,1343.1 1389.67,1323 1408.98,1296.59 1457.25,1271.4 1505.52,1262.7 1553.79,1256.59 1602.06,1252.59 1650.33,1250.29 1669.64,1248.99" fill="none" stroke="#2ca02c" stroke-width="1.9" stroke-linejoin="round"/>
<circle cx="1370.36" cy="1370.8" r="2.45" fill="#2ca02c"/>
<circle cx="1380.02" cy="1343.1" r="2.45" fill="#2ca02c"/>
<circle cx="1389.67" cy="1323" r="2.45" fill="#2ca02c"/>
<circle cx="1408.98" cy="1296.59" r="2.45" fill="#2ca02c"/>
<circle cx="1457.25" cy="1271.4" r="2.45" fill="#2ca02c"/>
<circle cx="1505.52" cy="1262.7" r="2.45" fill="#2ca02c"/>
<circle cx="1553.79" cy="1256.59" r="2.45" fill="#2ca02c"/>
<circle cx="1602.06" cy="1252.59" r="2.45" fill="#2ca02c"/>
<circle cx="1650.33" cy="1250.29" r="2.45" fill="#2ca02c"/>
<circle cx="1669.64" cy="1248.99" r="2.45" fill="#2ca02c"/>
</g>
<path d="M1391 1414.8H1420" stroke="#1f77b4" stroke-width="1.9" fill="none"/>
<path d="M1405.5 1407.35V1422.25M1400.4 1407.35h10.21M1400.4 1422.25h10.21" stroke="#1f77b4" stroke-width="1.1" fill="none" opacity="0.8"/>
<circle cx="1405.5" cy="1414.8" r="2.65" fill="#1f77b4"/>
<text x="1431.1" y="1420.01" font-size="14.29" text-anchor="start" fill="#222" font-family="DejaVu Sans, Liberation Sans, sans-serif" font-weight="normal" stroke="#222" stroke-width="0.25">KNN</text>
<path d="M1489.9 1414.8H1519.5" stroke="#ff7f0e" stroke-width="1.9" fill="none"/>
<path d="M1504.7 1407.35V1422.25M1499.6 1407.35h10.21M1499.6 1422.25h10.21" stroke="#ff7f0e" stroke-width="1.1" fill="none" opacity="0.8"/>
<circle cx="1504.7" cy="1414.8" r="2.65" fill="#ff7f0e"/>
<text x="1530" y="1420.01" font-size="14.29" text-anchor="start" fill="#222" font-family="DejaVu Sans, Liberation Sans, sans-serif" font-weight="normal" stroke="#222" stroke-width="0.25">RF</text>
<path d="M1576.5 1414.8H1606.6" stroke="#2ca02c" stroke-width="1.9" fill="none"/>
<path d="M1591.55 1407.35V1422.25M1586.45 1407.35h10.21M1586.45 1422.25h10.21" stroke="#2ca02c" stroke-width="1.1" fill="none" opacity="0.8"/>
<circle cx="1591.55" cy="1414.8" r="2.65" fill="#2ca02c"/>
<text x="1617.6" y="1420.01" font-size="14.29" text-anchor="start" fill="#222" font-family="DejaVu Sans, Liberation Sans, sans-serif" font-weight="normal" stroke="#222" stroke-width="0.25">SVM</text>
</g>
</svg>
</body></html>
